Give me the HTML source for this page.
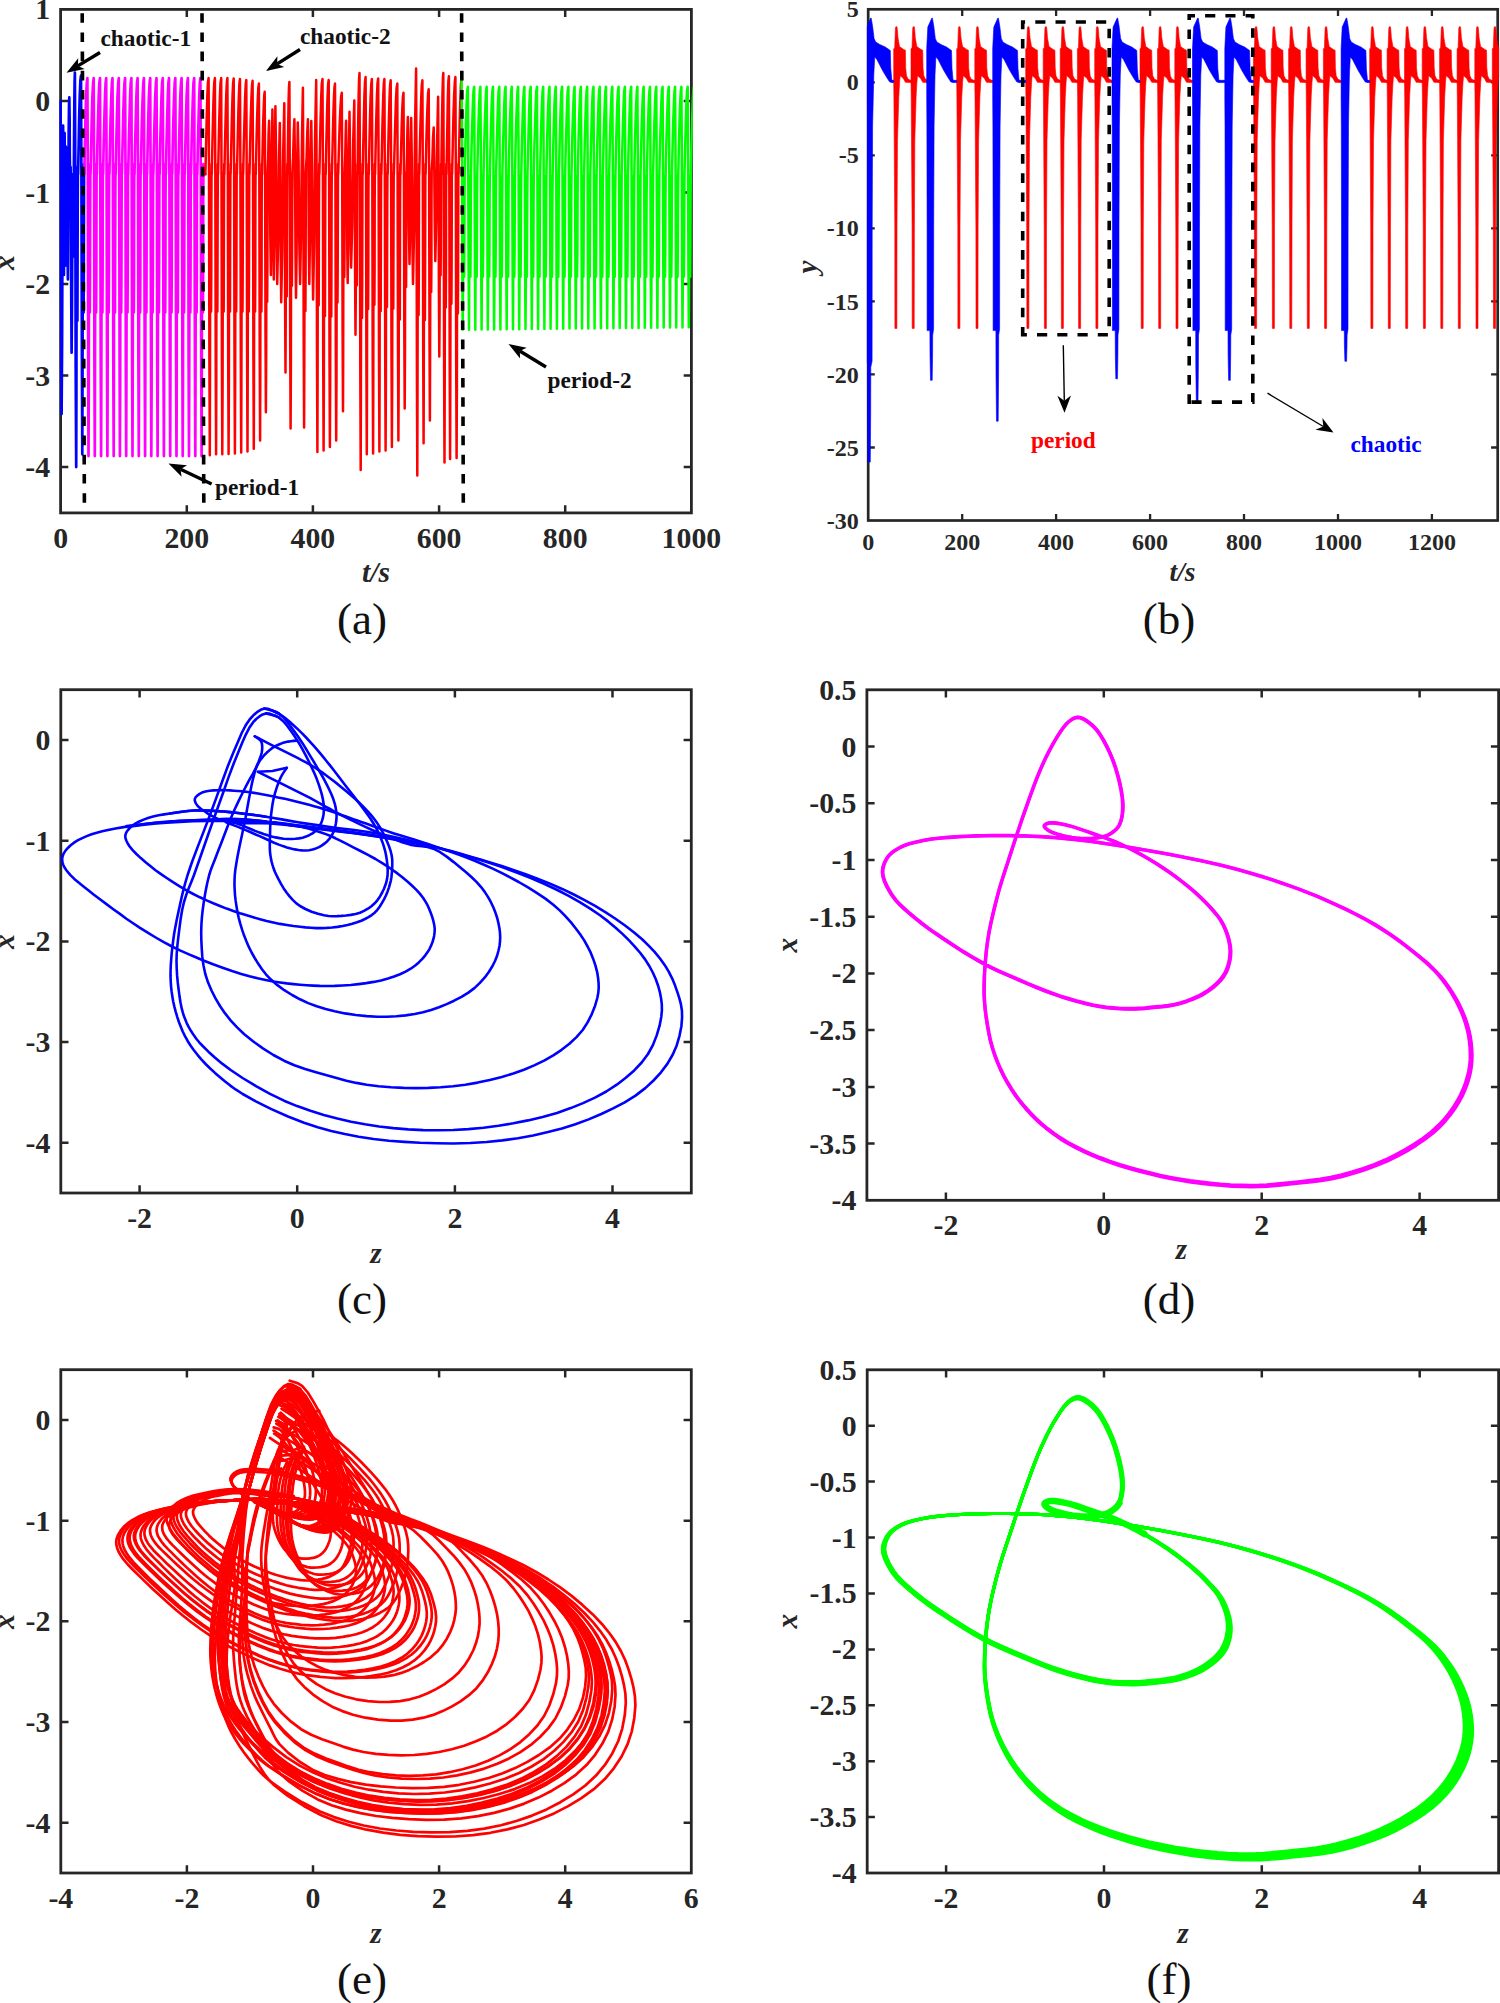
<!DOCTYPE html>
<html lang="en"><head><meta charset="utf-8"><title>Figure</title>
<style>html,body{margin:0;padding:0;background:#fff}svg{display:block}</style>
</head><body>
<svg width="1500" height="2003" viewBox="0 0 1500 2003">
<rect width="1500" height="2003" fill="#fff"/>
<defs>
<clipPath id="ca"><rect x="59.2" y="8" width="633.6" height="506.3"/></clipPath>
<clipPath id="cb"><rect x="866.8" y="7.9" width="632.3" height="514"/></clipPath>
<clipPath id="cc"><rect x="59.4" y="688.3" width="633.3" height="506.1"/></clipPath>
<clipPath id="cd"><rect x="865.5" y="688.4" width="634.5" height="513.3"/></clipPath>
<clipPath id="ce"><rect x="59.4" y="1368.3" width="633.3" height="506.1"/></clipPath>
<clipPath id="cf"><rect x="865.8" y="1368.4" width="634.2" height="506"/></clipPath>
</defs>
<path d="M186.8 512.9v-7.7M186.8 9.4v7.7M312.9 512.9v-7.7M312.9 9.4v7.7M439.1 512.9v-7.7M439.1 9.4v7.7M565.2 512.9v-7.7M565.2 9.4v7.7M60.6 100.9h7.7M691.4 100.9h-7.7M60.6 192.5h7.7M691.4 192.5h-7.7M60.6 284h7.7M691.4 284h-7.7M60.6 375.6h7.7M691.4 375.6h-7.7M60.6 467.1h7.7M691.4 467.1h-7.7" stroke="#262626" stroke-width="2.5" fill="none"/>
<rect x="60.6" y="9.4" width="630.8" height="503.5" fill="none" stroke="#262626" stroke-width="2.8"/>
<g font-family='"Liberation Serif",serif' font-weight="bold" font-size="29.8" fill="#262626">
<g text-anchor="middle">
<text x="60.6" y="547.9">0</text>
<text x="186.8" y="547.9">200</text>
<text x="312.9" y="547.9">400</text>
<text x="439.1" y="547.9">600</text>
<text x="565.2" y="547.9">800</text>
<text x="691.4" y="547.9">1000</text>
</g><g text-anchor="end">
<text x="50.1" y="19.4">1</text>
<text x="50.1" y="110.9">0</text>
<text x="50.1" y="202.5">-1</text>
<text x="50.1" y="294">-2</text>
<text x="50.1" y="385.6">-3</text>
<text x="50.1" y="477.1">-4</text>
</g></g>
<g clip-path="url(#ca)" fill="none" stroke-linejoin="round" stroke-linecap="round">
<path d="M60.6 100.9L60.9 179.2 61.3 335.8 61.6 414 62.1 341.9 62.6 197.8 63.1 125.7 63.4 163 63.6 237.6 63.9 274.9 64.1 239.4 64.3 168.5 64.6 133 64.8 166.2 65 232.5 65.3 265.7 65.5 236 65.7 176.5 65.9 146.7 66.1 171.9 66.3 222.2 66.5 247.4 66.7 224.5 66.9 178.8 67.1 155.9 67.4 186.8 67.6 248.6 67.9 279.5 68.2 223.2 68.5 172.4 68.7 132.1 69 106.2 69.3 97.3 69.6 117 69.8 156.3 70.1 176 70.2 173.7 70.4 169.1 70.6 166.9 70.9 213.3 71.3 306.2 71.6 352.7 72 308.1 72.4 218.8 72.8 174.2 73 194.8 73.2 236 73.4 256.6 73.7 199.7 74 148.4 74.3 107.7 74.6 81.6 74.9 72.6 75.3 171.2 75.7 368.5 76.2 467.1 76.4 393.9 76.6 247.4 76.7 174.2 77 210.8 77.2 284 77.4 320.7 77.5 282.2 77.7 205.3 77.9 166.9 77.9 168.7 78 172.4 78.1 174.2 78.7 143.7 79.2 116.3 79.8 94.5 80.4 80.5 81 75.7 81.4 170.3 81.9 359.7 82.3 454.3 82.5 383.9 82.8 243.2 83 172.8 83.2 207.7 83.4 277.5 83.6 312.4 83.8 275.3 84 201.2 84.1 164.1 84.2 166.6 84.2 171.7 84.3 174.2" stroke="#0000ff" stroke-width="2.7"/>
<path d="M84.3 174.2L84.9 144.5 85.5 117.7 86.1 96.4 86.8 82.8 87.4 78.1 87.8 172.6 88.2 361.6 88.5 456.1 88.8 385.3 89 243.6 89.2 172.8 89.4 207.7 89.6 277.5 89.8 312.4 90 275.3 90.2 201.2 90.4 164.1 90.4 166.6 90.5 171.7 90.5 174.2 91.2 144.5 91.8 117.7 92.4 96.4 93.1 82.8 93.7 78.1 94.1 172.6 94.4 361.6 94.8 456.1 95 385.3 95.3 243.6 95.5 172.8 95.7 207.7 95.9 277.5 96.1 312.4 96.3 275.3 96.5 201.2 96.6 164.1 96.7 166.6 96.8 171.7 96.8 174.2 97.4 144.5 98.1 117.7 98.7 96.4 99.3 82.8 100 78.1 100.3 172.6 100.7 361.6 101.1 456.1 101.3 385.3 101.6 243.6 101.8 172.8 102 207.7 102.2 277.5 102.4 312.4 102.6 275.3 102.7 201.2 102.9 164.1 103 166.6 103 171.7 103.1 174.2 103.7 144.5 104.4 117.7 105 96.4 105.6 82.8 106.2 78.1 106.6 172.6 107 361.6 107.4 456.1 107.6 385.3 107.8 243.6 108.1 172.8 108.3 207.7 108.5 277.5 108.7 312.4 108.9 275.3 109 201.2 109.2 164.1 109.3 166.6 109.3 171.7 109.4 174.2 110 144.5 110.6 117.7 111.3 96.4 111.9 82.8 112.5 78.1 112.9 172.6 113.3 361.6 113.7 456.1 113.9 385.3 114.1 243.6 114.3 172.8 114.6 207.7 114.8 277.5 115 312.4 115.1 275.3 115.3 201.2 115.5 164.1 115.5 166.6 115.6 171.7 115.7 174.2 116.3 144.5 116.9 117.7 117.5 96.4 118.2 82.8 118.8 78.1 119.2 172.6 119.6 361.6 119.9 456.1 120.2 385.3 120.4 243.6 120.6 172.8 120.8 207.7 121 277.5 121.2 312.4 121.4 275.3 121.6 201.2 121.8 164.1 121.8 166.6 121.9 171.7 121.9 174.2 122.6 144.5 123.2 117.7 123.8 96.4 124.5 82.8 125.1 78.1 125.5 172.6 125.8 361.6 126.2 456.1 126.4 385.3 126.7 243.6 126.9 172.8 127.1 207.7 127.3 277.5 127.5 312.4 127.7 275.3 127.9 201.2 128 164.1 128.1 166.6 128.2 171.7 128.2 174.2 128.8 144.5 129.5 117.7 130.1 96.4 130.7 82.8 131.4 78.1 131.7 172.6 132.1 361.6 132.5 456.1 132.7 385.3 133 243.6 133.2 172.8 133.4 207.7 133.6 277.5 133.8 312.4 134 275.3 134.1 201.2 134.3 164.1 134.4 166.6 134.4 171.7 134.5 174.2 135.1 144.5 135.8 117.7 136.4 96.4 137 82.8 137.6 78.1 138 172.6 138.4 361.6 138.8 456.1 139 385.3 139.2 243.6 139.5 172.8 139.7 207.7 139.9 277.5 140.1 312.4 140.3 275.3 140.4 201.2 140.6 164.1 140.7 166.6 140.7 171.7 140.8 174.2 141.4 144.5 142 117.7 142.7 96.4 143.3 82.8 143.9 78.1 144.3 172.6 144.7 361.6 145.1 456.1 145.3 385.3 145.5 243.6 145.7 172.8 146 207.7 146.2 277.5 146.4 312.4 146.5 275.3 146.7 201.2 146.9 164.1 146.9 166.6 147 171.7 147.1 174.2 147.7 144.5 148.3 117.7 148.9 96.4 149.6 82.8 150.2 78.1 150.6 172.6 151 361.6 151.3 456.1 151.6 385.3 151.8 243.6 152 172.8 152.2 207.7 152.4 277.5 152.6 312.4 152.8 275.3 153 201.2 153.2 164.1 153.2 166.6 153.3 171.7 153.3 174.2 154 144.5 154.6 117.7 155.2 96.4 155.9 82.8 156.5 78.1 156.9 172.6 157.2 361.6 157.6 456.1 157.8 385.3 158.1 243.6 158.3 172.8 158.5 207.7 158.7 277.5 158.9 312.4 159.1 275.3 159.3 201.2 159.4 164.1 159.5 166.6 159.6 171.7 159.6 174.2 160.2 144.5 160.9 117.7 161.5 96.4 162.1 82.8 162.8 78.1 163.1 172.6 163.5 361.6 163.9 456.1 164.1 385.3 164.4 243.6 164.6 172.8 164.8 207.7 165 277.5 165.2 312.4 165.4 275.3 165.5 201.2 165.7 164.1 165.8 166.6 165.8 171.7 165.9 174.2 166.5 144.5 167.2 117.7 167.8 96.4 168.4 82.8 169 78.1 169.4 172.6 169.8 361.6 170.2 456.1 170.4 385.3 170.6 243.6 170.9 172.8 171.1 207.7 171.3 277.5 171.5 312.4 171.7 275.3 171.8 201.2 172 164.1 172.1 166.6 172.1 171.7 172.2 174.2 172.8 144.5 173.4 117.7 174.1 96.4 174.7 82.8 175.3 78.1 175.7 172.6 176.1 361.6 176.5 456.1 176.7 385.3 176.9 243.6 177.1 172.8 177.4 207.7 177.6 277.5 177.8 312.4 177.9 275.3 178.1 201.2 178.3 164.1 178.3 166.6 178.4 171.7 178.5 174.2 179.1 144.5 179.7 117.7 180.3 96.4 181 82.8 181.6 78.1 182 172.6 182.4 361.6 182.7 456.1 183 385.3 183.2 243.6 183.4 172.8 183.6 207.7 183.8 277.5 184 312.4 184.2 275.3 184.4 201.2 184.6 164.1 184.6 166.6 184.7 171.7 184.7 174.2 185.4 144.5 186 117.7 186.6 96.4 187.3 82.8 187.9 78.1 188.3 172.6 188.6 361.6 189 456.1 189.2 385.3 189.5 243.6 189.7 172.8 189.9 207.7 190.1 277.5 190.3 312.4 190.5 275.3 190.7 201.2 190.8 164.1 190.9 166.6 191 171.7 191 174.2 191.6 144.5 192.3 117.7 192.9 96.4 193.5 82.8 194.2 78.1 194.5 172.6 194.9 361.6 195.3 456.1 195.5 385.3 195.8 243.6 196 172.8 196.2 207.7 196.4 277.5 196.6 312.4 196.8 275.3 196.9 201.2 197.1 164.1 197.2 166.6 197.2 171.7 197.3 174.2 197.9 144.5 198.6 117.7 199.2 96.4 199.8 82.8 200.4 78.1 200.8 172.6 201.2 361.6 201.6 456.1 201.8 385.3 202 243.6 202.3 172.8 202.5 207.7 202.7 277.5 202.9 312.4 203.1 275.3 203.2 201.2 203.4 164.1 203.5 166.6 203.5 171.7 203.6 174.2 204 174.2 204.3 174.2 204.7 174.2 205.1 174.2 205.4 174.2" stroke="#ff00ff" stroke-width="2.7"/>
<path d="M205.4 174.2L206.1 144.5 206.7 117.7 207.3 96.4 207.9 82.8 208.6 78.1 209 172.4 209.4 360.9 209.8 455.2 210 384.6 210.2 243.4 210.5 172.8 210.7 207.5 210.9 276.8 211.1 311.5 211.3 274.7 211.4 201 211.6 164.1 211.7 166.6 211.7 171.7 211.8 174.2 212.4 144.5 213 117.7 213.6 96.4 214.2 82.8 214.9 78.1 215.3 172.1 215.7 360.2 216.1 454.3 216.3 383.9 216.5 243.2 216.7 172.8 217 207.5 217.2 276.8 217.4 311.5 217.5 274.7 217.7 201 217.9 164.1 217.9 166.6 218 171.7 218.1 174.2 218.7 144.5 219.3 117.7 219.9 96.4 220.5 82.8 221.2 78.1 221.5 172.1 221.9 360.2 222.3 454.3 222.6 383.9 222.8 243.2 223 172.8 223.2 207.5 223.5 276.8 223.7 311.5 223.8 274.7 224 201 224.2 164.1 224.2 166.6 224.3 171.7 224.4 174.2 225 144.5 225.6 117.7 226.2 96.4 226.8 82.8 227.4 78.1 227.8 172 228.2 359.9 228.6 453.9 228.9 383.6 229.1 243.1 229.3 172.8 229.5 207.5 229.7 276.8 230 311.5 230.1 274.7 230.3 201 230.5 164.1 230.5 166.6 230.6 171.7 230.6 174.2 231.3 144.6 231.9 118 232.5 96.8 233.1 83.2 233.7 78.5 234.1 172.2 234.5 359.7 234.9 453.4 235.2 383.2 235.4 243 235.6 172.8 235.8 207.5 236 276.8 236.2 311.5 236.4 274.7 236.6 201 236.7 164.1 236.8 166.6 236.9 171.7 236.9 174.2 237.6 144.8 238.2 118.2 238.8 97.2 239.4 83.6 240 79 240.4 172.4 240.8 359.1 241.2 452.5 241.4 382.6 241.7 242.7 241.9 172.8 242.1 207.5 242.3 276.8 242.5 311.5 242.7 274.7 242.9 201 243 164.1 243.1 166.6 243.2 171.7 243.2 174.2 243.8 145 244.5 118.8 245.1 97.9 245.7 84.5 246.3 79.9 246.7 172.8 247.1 358.6 247.5 451.6 247.7 381.9 248 242.5 248.2 172.8 248.4 207.5 248.6 276.8 248.8 311.5 249 274.7 249.2 201 249.3 164.1 249.4 166.6 249.4 171.7 249.5 174.2 250.1 145.3 250.7 119.3 251.4 98.6 252 85.4 252.6 80.8 253 172.8 253.4 356.8 253.8 448.8 254 379.8 254.3 241.8 254.5 172.8 254.7 207.5 254.9 276.8 255.1 311.5 255.3 274.7 255.4 201 255.6 164.1 255.7 166.6 255.7 171.7 255.8 174.2 256.4 146.2 257 120.9 257.7 100.9 258.3 88 258.9 83.6 259.3 172.8 259.7 351.3 260.1 440.6 260.3 373.6 260.5 239.8 260.8 172.8 261 207.5 261.2 276.8 261.4 311.5 261.6 274.7 261.7 201 261.9 164.1 262 166.6 262 171.7 262.1 174.2 262.6 148.7 263.1 125.8 263.7 107.5 264.2 95.8 264.7 91.8 265.1 171.9 265.5 332.1 265.9 412.2 266.2 352.4 266.4 232.7 266.6 172.8 266.8 205 267 269.5 267.2 301.7 267.4 268.7 267.6 202.6 267.7 169.6 268.2 157.4 268.6 133 269.1 120.8 269.7 159.3 270.3 236.4 270.9 274.9 271.4 233.5 271.9 150.9 272.4 109.6 272.9 152 273.3 237 273.8 279.5 274.3 236.1 274.8 149.5 275.4 106.2 276 150.6 276.6 239.6 277.2 284 278.1 243.8 278.9 163.2 279.8 122.9 280.3 167.8 280.7 257.5 281.2 302.3 282.2 252.6 283.2 153 284.3 103.2 284.7 170.5 285.1 305.1 285.5 372.4 285.7 322.5 285.9 222.7 286.2 172.8 286.4 203.7 286.6 265.4 286.8 296.3 286.9 263.2 287.1 197.1 287.3 164.1 287.3 166.6 287.4 171.7 287.5 174.2 287.9 145.7 288.3 120 288.6 99.7 289 86.6 289.4 82.1 289.8 168.7 290.2 341.9 290.6 428.5 290.9 364.6 291.1 236.7 291.3 172.8 291.5 201 291.7 257.5 291.9 285.7 292.1 256.7 292.3 198.6 292.5 169.6 293.1 157 293.8 131.8 294.4 119.3 295 163.9 295.5 253.1 296 297.8 296.6 253.9 297.2 166.2 297.8 122.4 298.6 162.8 299.3 243.6 300.1 284 301 235 302 136.8 302.9 87.8 303.3 172.7 303.7 342.5 304.1 427.4 304.3 363.7 304.6 236.5 304.8 172.8 305 207.3 305.2 276.4 305.4 311 305.6 275.6 305.8 204.9 305.9 169.6 306.6 157 307.3 131.8 307.9 119.3 308.4 160.4 308.8 242.8 309.3 284 309.9 243.3 310.6 161.8 311.3 121.1 311.9 165.7 312.5 255 313.1 299.6 314.1 244.7 315.1 134.8 316.2 79.9 316.6 172.9 317 359.1 317.4 452.1 317.6 382.3 317.8 242.6 318 172.8 318.3 205.9 318.5 272.2 318.7 305.3 318.8 270 319 199.4 319.2 164.1 319.2 166.6 319.3 171.7 319.4 174.2 320 144.8 320.6 118.2 321.2 97.2 321.8 83.6 322.5 79 322.9 171.9 323.2 357.7 323.6 450.6 323.9 381.2 324.1 242.3 324.3 172.8 324.5 208.6 324.8 280.1 325 315.9 325.1 278 325.3 202.1 325.5 164.1 325.5 166.6 325.6 171.7 325.7 174.2 326.3 145 326.9 118.8 327.5 97.9 328.1 84.5 328.7 79.9 329.1 171.7 329.5 355.2 329.9 447 330.2 378.4 330.4 241.4 330.6 172.8 330.8 208.7 331 280.5 331.3 316.4 331.4 278.3 331.6 202.2 331.8 164.1 331.8 166.6 331.9 171.7 331.9 174.2 332.6 146.2 333.2 120.9 333.8 100.9 334.4 88 335 83.6 335.4 172.8 335.8 351.3 336.2 440.6 336.5 373.6 336.7 239.8 336.9 172.8 337.1 205.2 337.3 270 337.5 302.4 337.7 267.8 337.9 198.7 338 164.1 338.1 166.6 338.2 171.7 338.2 174.2 338.9 149 339.6 126.3 340.4 108.3 341.1 96.7 341.8 92.7 342.2 172.4 342.6 331.6 343 411.3 343.2 351.7 343.4 232.4 343.7 172.8 343.9 198.9 344.1 251 344.3 277 344.5 250.2 344.6 196.5 344.8 169.6 345.2 157.4 345.7 133 346.1 120.8 346.6 161.4 347.2 242.5 347.7 283.1 348.3 240.3 348.9 154.6 349.5 111.7 350 150.7 350.5 228.6 351.1 267.6 352.2 225.8 353.2 142.3 354.3 100.5 354.7 159.1 355.1 276.3 355.5 334.8 355.8 294.3 356 213.3 356.2 172.8 356.4 200.9 356.7 257.1 356.9 285.2 357 254.9 357.2 194.4 357.4 164.1 357.4 166.6 357.5 171.7 357.6 174.2 357.9 143 358.3 114.8 358.7 92.4 359.1 78.1 359.5 73.1 359.9 172.3 360.3 370.7 360.7 469.9 360.9 395.6 361.2 247.1 361.4 172.8 361.6 209.1 361.8 281.6 362 317.9 362.2 279.5 362.4 202.6 362.5 164.1 362.6 166.6 362.7 171.7 362.7 174.2 363.3 144.2 363.9 117.1 364.4 95.7 365 81.9 365.6 77.1 366 171.4 366.4 360 366.8 454.3 367 383.9 367.2 243.2 367.5 172.8 367.7 206.9 367.9 275 368.1 309 368.3 272.8 368.4 200.3 368.6 164.1 368.7 166.6 368.7 171.7 368.8 174.2 369.4 144.8 370 118.2 370.6 97.2 371.3 83.6 371.9 79 372.3 172.6 372.7 359.8 373.1 453.4 373.3 383.2 373.5 243 373.8 172.8 374 205.8 374.2 271.8 374.4 304.8 374.6 269.6 374.7 199.3 374.9 164.1 374.9 166.6 375 171.7 375.1 174.2 375.7 144.6 376.3 118 376.9 96.8 377.5 83.2 378.2 78.5 378.6 171.8 379 358.3 379.4 451.6 379.6 381.9 379.8 242.5 380 172.8 380.3 207.4 380.5 276.5 380.7 311.1 380.8 274.3 381 200.9 381.2 164.1 381.2 166.6 381.3 171.7 381.4 174.2 382 144.8 382.6 118.2 383.2 97.2 383.8 83.6 384.4 79 384.8 171.9 385.2 357.7 385.6 450.6 385.9 381.2 386.1 242.3 386.3 172.8 386.5 206.4 386.8 273.5 387 307.1 387.1 271.3 387.3 199.9 387.5 164.1 387.5 166.6 387.6 171.7 387.7 174.2 388.3 145.2 388.9 119 389.5 98.3 390.1 84.9 390.7 80.3 391.1 172 391.5 355.3 391.9 447 392.2 378.4 392.4 241.4 392.6 172.8 392.8 206.7 393 274.5 393.3 308.4 393.4 272.3 393.6 200.2 393.8 164.1 393.8 166.6 393.9 171.7 393.9 174.2 394.6 146.2 395.3 120.9 395.9 100.9 396.6 88 397.3 83.6 397.6 172.8 398 351.3 398.4 440.6 398.7 373.6 398.9 239.8 399.1 172.8 399.3 209.5 399.6 282.8 399.8 319.5 399.9 280.6 400.1 203 400.3 164.1 400.3 166.6 400.4 171.7 400.5 174.2 401.1 149 401.7 126.3 402.3 108.3 402.9 96.7 403.5 92.7 403.9 171.7 404.3 329.6 404.7 408.5 405 349.6 405.2 231.7 405.4 172.8 405.6 201.4 405.8 258.6 406.1 287.1 406.2 257.8 406.4 199 406.6 169.6 407 156.4 407.4 130.1 407.9 117 408.4 153.7 408.9 227.2 409.5 263.9 410.1 227.4 410.6 154.5 411.2 118.1 411.8 159.6 412.4 242.5 413 284 414.1 230.2 415.1 122.5 416.1 68.6 416.5 170.3 416.9 373.7 417.3 475.4 417.5 399.7 417.8 248.4 418 172.8 418.2 208.4 418.4 279.6 418.6 315.1 418.8 277.4 419 201.9 419.1 164.1 419.2 166.6 419.3 171.7 419.3 174.2 419.9 145.2 420.6 119 421.2 98.3 421.8 84.9 422.4 80.3 422.8 171.1 423.2 352.6 423.6 443.3 423.8 375.7 424.1 240.4 424.3 172.8 424.5 209.6 424.7 283.3 424.9 320.1 425.1 281.1 425.3 203.1 425.4 164.1 425.5 166.6 425.5 171.7 425.6 174.2 426.2 148 426.8 124.3 427.5 105.5 428.1 93.5 428.7 89.3 429.1 172.1 429.5 337.7 429.9 420.4 430.1 358.5 430.4 234.7 430.6 172.8 430.8 202.6 431 262.2 431.2 292 431.4 261.4 431.5 200.2 431.7 169.6 432.4 159.1 433 138 433.7 127.5 434.2 160.9 434.8 227.7 435.3 261.1 436.2 220 437.2 137.8 438.1 96.7 438.5 161.6 438.9 291.5 439.3 356.4 439.6 310.5 439.8 218.7 440 172.8 440.2 198.4 440.4 249.7 440.6 275.3 440.8 247.5 441 191.9 441.1 164.1 441.2 166.6 441.3 171.7 441.3 174.2 441.7 143 442.1 114.8 442.5 92.4 442.9 78.1 443.3 73.1 443.7 170.5 444.1 365.2 444.5 462.6 444.7 390.1 445 245.2 445.2 172.8 445.4 206.5 445.6 273.9 445.8 307.6 446 271.7 446.1 200 446.3 164.1 446.4 166.6 446.4 171.7 446.5 174.2 447 143.9 447.5 116.6 447.9 94.9 448.4 81 448.9 76.2 449.3 171.9 449.7 363.2 450.1 458.9 450.3 387.4 450.6 244.3 450.8 172.8 451 205.6 451.2 271 451.4 303.8 451.6 268.9 451.8 199 451.9 164.1 452 166.6 452.1 171.7 452.1 174.2 452.8 144.2 453.4 117.1 454.1 95.7 454.8 81.9 455.4 77.1 455.8 172.4 456.2 362.8 456.6 458 456.9 386.7 457.1 244.1 457.3 172.8 457.5 208 457.7 278.3 457.9 313.4 458.1 276.1 458.3 201.4 458.4 164.1 458.5 166.6 458.6 171.7 458.6 174.2 459.2 144.8 459.8 118.2 460.4 97.2 461 83.6 461.6 79" stroke="#ff0000" stroke-width="2.5"/>
<path d="M461.6 79L462 141.7 462.3 267.1 462.7 329.8 463 291.6 463.2 215.1 463.4 176.9 463.6 201.9 463.9 251.8 464.1 276.7 464.3 250.6 464.5 198.4 464.7 172.4 465.4 145.9 466 122 466.6 103 467.2 90.9 467.9 86.7 468.2 147.4 468.6 269 469 329.7 469.2 291.5 469.5 215.1 469.7 176.9 469.9 201.9 470.2 251.8 470.4 276.7 470.6 250.6 470.8 198.4 471 172.4 471.6 145.9 472.3 122 472.9 103 473.5 90.9 474.2 86.7 474.5 147.4 474.9 268.9 475.3 329.7 475.5 291.5 475.7 215.1 476 176.9 476.2 201.9 476.4 251.8 476.7 276.7 476.9 250.6 477.1 198.4 477.3 172.4 477.9 145.9 478.5 122 479.2 103 479.8 90.9 480.4 86.7 480.8 147.4 481.2 268.9 481.6 329.6 481.8 291.4 482 215.1 482.3 176.9 482.5 201.9 482.7 251.8 482.9 276.7 483.2 250.6 483.4 198.4 483.6 172.4 484.2 145.9 484.8 122 485.5 103 486.1 90.9 486.7 86.7 487.1 147.4 487.5 268.8 487.8 329.5 488.1 291.4 488.3 215.1 488.5 176.9 488.8 201.9 489 251.8 489.2 276.7 489.4 250.6 489.6 198.4 489.9 172.4 490.5 145.9 491.1 122 491.7 103 492.4 90.9 493 86.7 493.4 147.4 493.7 268.8 494.1 329.5 494.4 291.3 494.6 215.1 494.8 176.9 495 201.9 495.3 251.8 495.5 276.7 495.7 250.6 495.9 198.4 496.1 172.4 496.8 145.9 497.4 122 498 103 498.6 90.9 499.3 86.7 499.6 147.3 500 268.7 500.4 329.4 500.6 291.3 500.9 215 501.1 176.9 501.3 201.9 501.6 251.8 501.8 276.7 502 250.6 502.2 198.4 502.4 172.4 503 145.9 503.7 122 504.3 103 504.9 90.9 505.6 86.7 505.9 147.3 506.3 268.7 506.7 329.3 506.9 291.2 507.1 215 507.4 176.9 507.6 201.9 507.8 251.8 508.1 276.7 508.3 250.6 508.5 198.4 508.7 172.4 509.3 145.9 509.9 122 510.6 103 511.2 90.9 511.8 86.7 512.2 147.3 512.6 268.6 513 329.3 513.2 291.2 513.4 215 513.7 176.9 513.9 201.9 514.1 251.8 514.3 276.7 514.6 250.6 514.8 198.4 515 172.4 515.6 145.9 516.2 122 516.9 103 517.5 90.9 518.1 86.7 518.5 147.3 518.9 268.6 519.2 329.2 519.5 291.1 519.7 215 519.9 176.9 520.2 201.9 520.4 251.8 520.6 276.7 520.8 250.6 521 198.4 521.3 172.4 521.9 145.9 522.5 122 523.1 103 523.8 90.9 524.4 86.7 524.8 147.3 525.1 268.5 525.5 329.1 525.8 291.1 526 215 526.2 176.9 526.4 201.9 526.7 251.8 526.9 276.7 527.1 250.6 527.3 198.4 527.5 172.4 528.2 145.9 528.8 122 529.4 103 530 90.9 530.7 86.7 531 147.3 531.4 268.5 531.8 329.1 532 291 532.3 215 532.5 176.9 532.7 201.9 533 251.8 533.2 276.7 533.4 250.6 533.6 198.4 533.8 172.4 534.4 145.9 535.1 122 535.7 103 536.3 90.9 537 86.7 537.3 147.2 537.7 268.4 538.1 329 538.3 291 538.5 214.9 538.8 176.9 539 201.9 539.2 251.8 539.5 276.7 539.7 250.6 539.9 198.4 540.1 172.4 540.7 145.9 541.3 122 542 103 542.6 90.9 543.2 86.7 543.6 147.2 544 268.4 544.4 328.9 544.6 290.9 544.8 214.9 545.1 176.9 545.3 201.9 545.5 251.8 545.7 276.7 546 250.6 546.2 198.4 546.4 172.4 547 145.9 547.6 122 548.3 103 548.9 90.9 549.5 86.7 549.9 147.2 550.3 268.3 550.6 328.8 550.9 290.9 551.1 214.9 551.3 176.9 551.6 201.9 551.8 251.8 552 276.7 552.2 250.6 552.4 198.4 552.7 172.4 553.3 145.9 553.9 122 554.5 103 555.2 90.9 555.8 86.7 556.2 147.2 556.5 268.2 556.9 328.8 557.2 290.8 557.4 214.9 557.6 176.9 557.8 201.9 558.1 251.8 558.3 276.7 558.5 250.6 558.7 198.4 558.9 172.4 559.6 145.9 560.2 122 560.8 103 561.4 90.9 562.1 86.7 562.4 147.2 562.8 268.2 563.2 328.7 563.4 290.8 563.7 214.9 563.9 176.9 564.1 201.9 564.4 251.8 564.6 276.7 564.8 250.6 565 198.4 565.2 172.4 565.8 145.9 566.5 122 567.1 103 567.7 90.9 568.4 86.7 568.7 147.2 569.1 268.1 569.5 328.6 569.7 290.7 569.9 214.9 570.2 176.9 570.4 201.9 570.6 251.8 570.9 276.7 571.1 250.6 571.3 198.4 571.5 172.4 572.1 145.9 572.7 122 573.4 103 574 90.9 574.6 86.7 575 147.1 575.4 268.1 575.8 328.6 576 290.7 576.2 214.8 576.5 176.9 576.7 201.9 576.9 251.8 577.1 276.7 577.4 250.6 577.6 198.4 577.8 172.4 578.4 145.9 579 122 579.7 103 580.3 90.9 580.9 86.7 581.3 147.1 581.7 268 582 328.5 582.3 290.6 582.5 214.8 582.7 176.9 583 201.9 583.2 251.8 583.4 276.7 583.6 250.6 583.8 198.4 584.1 172.4 584.7 145.9 585.3 122 585.9 103 586.6 90.9 587.2 86.7 587.6 147.1 587.9 268 588.3 328.4 588.6 290.6 588.8 214.8 589 176.9 589.2 201.9 589.5 251.8 589.7 276.7 589.9 250.6 590.1 198.4 590.3 172.4 591 145.9 591.6 122 592.2 103 592.8 90.9 593.5 86.7 593.8 147.1 594.2 267.9 594.6 328.4 594.8 290.5 595.1 214.8 595.3 176.9 595.5 201.9 595.8 251.8 596 276.7 596.2 250.6 596.4 198.4 596.6 172.4 597.2 145.9 597.9 122 598.5 103 599.1 90.9 599.8 86.7 600.1 147.1 600.5 267.9 600.9 328.3 601.1 290.5 601.3 214.8 601.6 176.9 601.8 201.9 602 251.8 602.3 276.7 602.5 250.6 602.7 198.4 602.9 172.4 603.5 145.9 604.1 122 604.8 103 605.4 90.9 606 86.7 606.4 147.1 606.8 267.8 607.2 328.2 607.4 290.4 607.6 214.8 607.9 176.9 608.1 201.9 608.3 251.8 608.5 276.7 608.8 250.6 609 198.4 609.2 172.4 609.8 145.9 610.4 122 611.1 103 611.7 90.9 612.3 86.7 612.7 147 613.1 267.8 613.4 328.2 613.7 290.3 613.9 214.7 614.1 176.9 614.4 201.9 614.6 251.8 614.8 276.7 615 250.6 615.2 198.4 615.5 172.4 616.1 145.9 616.7 122 617.3 103 618 90.9 618.6 86.7 619 147 619.3 267.7 619.7 328.1 620 290.3 620.2 214.7 620.4 176.9 620.6 201.9 620.9 251.8 621.1 276.7 621.3 250.6 621.5 198.4 621.7 172.4 622.4 145.9 623 122 623.6 103 624.2 90.9 624.9 86.7 625.2 147 625.6 267.7 626 328 626.2 290.2 626.5 214.7 626.7 176.9 626.9 201.9 627.2 251.8 627.4 276.7 627.6 250.6 627.8 198.4 628 172.4 628.6 145.9 629.3 122 629.9 103 630.5 90.9 631.2 86.7 631.5 147 631.9 267.6 632.3 327.9 632.5 290.2 632.7 214.7 633 176.9 633.2 201.9 633.4 251.8 633.7 276.7 633.9 250.6 634.1 198.4 634.3 172.4 634.9 145.9 635.5 122 636.2 103 636.8 90.9 637.4 86.7 637.8 147 638.2 267.6 638.6 327.9 638.8 290.1 639 214.7 639.3 176.9 639.5 201.9 639.7 251.8 639.9 276.7 640.2 250.6 640.4 198.4 640.6 172.4 641.2 145.9 641.8 122 642.5 103 643.1 90.9 643.7 86.7 644.1 147 644.5 267.5 644.8 327.8 645.1 290.1 645.3 214.6 645.5 176.9 645.8 201.9 646 251.8 646.2 276.7 646.4 250.6 646.6 198.4 646.9 172.4 647.5 145.9 648.1 122 648.7 103 649.4 90.9 650 86.7 650.4 146.9 650.7 267.5 651.1 327.7 651.4 290 651.6 214.6 651.8 176.9 652 201.9 652.3 251.8 652.5 276.7 652.7 250.6 652.9 198.4 653.1 172.4 653.8 145.9 654.4 122 655 103 655.6 90.9 656.3 86.7 656.6 146.9 657 267.4 657.4 327.7 657.6 290 657.9 214.6 658.1 176.9 658.3 201.9 658.6 251.8 658.8 276.7 659 250.6 659.2 198.4 659.4 172.4 660 145.9 660.7 122 661.3 103 661.9 90.9 662.6 86.7 662.9 146.9 663.3 267.4 663.7 327.6 663.9 289.9 664.1 214.6 664.4 176.9 664.6 201.9 664.8 251.8 665.1 276.7 665.3 250.6 665.5 198.4 665.7 172.4 666.3 145.9 666.9 122 667.6 103 668.2 90.9 668.8 86.7 669.2 146.9 669.6 267.3 670 327.5 670.2 289.9 670.4 214.6 670.7 176.9 670.9 201.9 671.1 251.8 671.3 276.7 671.6 250.6 671.8 198.4 672 172.4 672.6 145.9 673.2 122 673.9 103 674.5 90.9 675.1 86.7 675.5 146.9 675.9 267.3 676.2 327.5 676.5 289.8 676.7 214.6 676.9 176.9 677.2 201.9 677.4 251.8 677.6 276.7 677.8 250.6 678 198.4 678.3 172.4 678.9 145.9 679.5 122 680.1 103 680.8 90.9 681.4 86.7 681.8 146.8 682.1 267.2 682.5 327.4 682.8 289.8 683 214.5 683.2 176.9 683.4 201.9 683.7 251.8 683.9 276.7 684.1 250.6 684.3 198.4 684.5 172.4 685.2 145.9 685.8 122 686.4 103 687 90.9 687.7 86.7 688 146.8 688.4 267.2 688.8 327.3 689 289.7 689.3 214.5 689.5 176.9 689.7 201.9 690 251.8 690.2 276.7 690.4 250.6 690.6 198.4 690.8 172.4 691.4 145.9 692.1 122 692.7 103 693.3 90.9 694 86.7 694.3 146.8 694.7 267.1 695.1 327.3 695.3 289.7 695.5 214.5 695.8 176.9 696 201.9 696.2 251.8 696.5 276.7 696.7 250.6 696.9 198.4 697.1 172.4" stroke="#00ff00" stroke-width="2.5"/>
</g>
<path d="M82.2 13.2L84.4 503" stroke="#000" stroke-width="3.6" stroke-dasharray="9.6 9.6" fill="none"/>
<path d="M202 13.2L203.8 503" stroke="#000" stroke-width="3.6" stroke-dasharray="9.6 9.6" fill="none"/>
<path d="M461.6 13.2L463.3 503" stroke="#000" stroke-width="3.6" stroke-dasharray="9.6 9.6" fill="none"/>
<text x="376" y="582" font-family='"Liberation Serif",serif' font-size="29.5" fill="#262626" text-anchor="middle" font-style="italic" font-weight="bold">t/s</text>
<text x="14.2" y="262.5" font-family='"Liberation Serif",serif' font-size="29.5" fill="#262626" text-anchor="middle" font-style="italic" font-weight="bold" transform="rotate(-90 14.2 262.5)">x</text>
<text x="362" y="633.5" font-family='"Liberation Serif",serif' font-size="45" fill="#111" text-anchor="middle">(a)</text>
<g font-family='"Liberation Serif",serif' font-weight="bold" font-size="23.3" fill="#111">
<text x="100.5" y="46">chaotic-1</text>
<text x="300" y="44">chaotic-2</text>
<text x="215" y="494.5">period-1</text>
<text x="547.5" y="388">period-2</text>
</g>
<path d="M100 52.5L77.9 65.9" stroke="#000" stroke-width="3.4" fill="none"/>
<path d="M66.5 72.8L78.2 58.3L77.9 65.9L84.7 69.1Z" fill="#000"/>
<path d="M300 49.5L277.2 63.9" stroke="#000" stroke-width="3.4" fill="none"/>
<path d="M266 71L277.4 56.3L277.2 63.9L284.2 67Z" fill="#000"/>
<path d="M211.6 484L180.5 469.2" stroke="#000" stroke-width="3.4" fill="none"/>
<path d="M168.5 463.5L187 465.3L180.5 469.2L181.6 476.7Z" fill="#000"/>
<path d="M546 367L519.8 351" stroke="#000" stroke-width="3.4" fill="none"/>
<path d="M508.5 344L526.7 347.8L519.8 351L520.1 358.5Z" fill="#000"/>
<path d="M962.2 520.5v-6.6M962.2 9.3v6.6M1056.1 520.5v-6.6M1056.1 9.3v6.6M1150.1 520.5v-6.6M1150.1 9.3v6.6M1244 520.5v-6.6M1244 9.3v6.6M1338 520.5v-6.6M1338 9.3v6.6M1431.9 520.5v-6.6M1431.9 9.3v6.6M868.2 82.3h6.6M1497.7 82.3h-6.6M868.2 155.4h6.6M1497.7 155.4h-6.6M868.2 228.4h6.6M1497.7 228.4h-6.6M868.2 301.4h6.6M1497.7 301.4h-6.6M868.2 374.4h6.6M1497.7 374.4h-6.6M868.2 447.5h6.6M1497.7 447.5h-6.6" stroke="#262626" stroke-width="2.3" fill="none"/>
<rect x="868.2" y="9.3" width="629.5" height="511.2" fill="none" stroke="#262626" stroke-width="2.7"/>
<g font-family='"Liberation Serif",serif' font-weight="bold" font-size="24.0" fill="#262626">
<g text-anchor="middle">
<text x="868.2" y="549.5">0</text>
<text x="962.2" y="549.5">200</text>
<text x="1056.1" y="549.5">400</text>
<text x="1150.1" y="549.5">600</text>
<text x="1244" y="549.5">800</text>
<text x="1338" y="549.5">1000</text>
<text x="1431.9" y="549.5">1200</text>
</g><g text-anchor="end">
<text x="858.7" y="17.3">5</text>
<text x="858.7" y="90.4">0</text>
<text x="858.7" y="163.4">-5</text>
<text x="858.7" y="236.4">-10</text>
<text x="858.7" y="309.5">-15</text>
<text x="858.7" y="382.5">-20</text>
<text x="858.7" y="455.5">-25</text>
<text x="858.7" y="528.5">-30</text>
</g></g>
<g clip-path="url(#cb)">
<path d="M893.7 82.3L893.7 48.7 894.7 48 895.4 28.3 895.8 26.8 897 26.8 897.4 29.7 898 37.8 899.5 46.5 901 47.6 903.7 49.5 905.4 50.2 905.7 67.7 906.5 75.8 908.1 79.1 910.7 80.3 910.7 82.6 905.4 82.3 903.2 78.2 900.2 75.8 899.6 82.3 898.8 96.9 897.5 140.8 897 228.4 896.9 328.4 894.9 328.4 894.8 228.4 894.2 140.8 893.9 96.9ZM910.7 80.3H911V82.6H910.7ZM911 82.3L911 48.7 912 48 912.7 28.3 913.1 26.8 914.3 26.8 914.7 29.7 915.3 37.8 916.8 46.5 918.3 47.6 921 49.5 922.7 50.2 923 67.7 923.8 75.8 925.4 79.1 928 80.3 928 82.6 922.7 82.3 920.5 78.2 917.5 75.8 916.9 82.3 916.1 96.9 914.8 140.8 914.4 228.4 914.2 328.4 912.2 328.4 912.1 228.4 911.5 140.8 911.2 96.9ZM956.7 82.3L956.7 48.7 957.7 48 958.4 28.3 958.8 26.8 960 26.8 960.4 29.7 961 37.8 962.5 46.5 964 47.6 966.7 49.5 968.4 50.2 968.7 67.7 969.5 75.8 971.1 79.1 973.7 80.3 973.7 82.6 968.4 82.3 966.2 78.2 963.2 75.8 962.6 82.3 961.8 96.9 960.5 140.8 960 228.4 959.9 328.4 957.9 328.4 957.8 228.4 957.2 140.8 956.9 96.9ZM973.7 80.3H974.8V82.6H973.7ZM974.8 82.3L974.8 48.7 975.8 48 976.5 28.3 976.9 26.8 978.1 26.8 978.5 29.7 979.1 37.8 980.6 46.5 982.1 47.6 984.8 49.5 986.5 50.2 986.8 67.7 987.6 75.8 989.2 79.1 991.8 80.3 991.8 82.6 986.5 82.3 984.3 78.2 981.3 75.8 980.7 82.3 979.9 96.9 978.6 140.8 978.1 228.4 978 328.4 976 328.4 975.9 228.4 975.3 140.8 975 96.9ZM991.8 80.3H992.7V82.6H991.8ZM1025.7 82.3L1025.7 48.7 1026.7 48 1027.4 28.3 1027.8 26.8 1029 26.8 1029.4 29.7 1030 37.8 1031.5 46.5 1033 47.6 1035.7 49.5 1037.4 50.2 1037.7 67.7 1038.5 75.8 1040.1 79.1 1042.7 80.3 1042.7 82.6 1037.4 82.3 1035.2 78.2 1032.2 75.8 1031.6 82.3 1030.8 96.9 1029.5 140.8 1029 228.4 1028.9 328.4 1026.9 328.4 1026.7 228.4 1026.2 140.8 1025.9 96.9ZM1042.7 80.3H1043.2V82.6H1042.7ZM1043.2 82.3L1043.2 48.7 1044.2 48 1044.9 28.3 1045.3 26.8 1046.5 26.8 1046.9 29.7 1047.5 37.8 1049 46.5 1050.5 47.6 1053.2 49.5 1054.9 50.2 1055.2 67.7 1056 75.8 1057.6 79.1 1060.2 80.3 1060.2 82.6 1054.9 82.3 1052.7 78.2 1049.7 75.8 1049.1 82.3 1048.3 96.9 1047 140.8 1046.5 228.4 1046.4 328.4 1044.4 328.4 1044.2 228.4 1043.7 140.8 1043.4 96.9ZM1060.2 82.3L1060.2 48.7 1061.2 48 1061.9 28.3 1062.3 26.8 1063.5 26.8 1063.9 29.7 1064.5 37.8 1066 46.5 1067.5 47.6 1070.2 49.5 1071.9 50.2 1072.2 67.7 1073 75.8 1074.6 79.1 1077.2 80.3 1077.2 82.6 1071.9 82.3 1069.7 78.2 1066.7 75.8 1066.1 82.3 1065.3 96.9 1064 140.8 1063.5 228.4 1063.4 328.4 1061.4 328.4 1061.2 228.4 1060.7 140.8 1060.4 96.9ZM1077.2 80.3H1077.4V82.6H1077.2ZM1077.4 82.3L1077.4 48.7 1078.4 48 1079.1 28.3 1079.5 26.8 1080.7 26.8 1081.1 29.7 1081.7 37.8 1083.2 46.5 1084.7 47.6 1087.4 49.5 1089.1 50.2 1089.4 67.7 1090.2 75.8 1091.8 79.1 1094.4 80.3 1094.4 82.6 1089.1 82.3 1086.9 78.2 1083.9 75.8 1083.3 82.3 1082.5 96.9 1081.2 140.8 1080.8 228.4 1080.6 328.4 1078.6 328.4 1078.4 228.4 1077.9 140.8 1077.6 96.9ZM1094.4 80.3H1094.7V82.6H1094.4ZM1094.7 82.3L1094.7 48.7 1095.7 48 1096.4 28.3 1096.8 26.8 1098 26.8 1098.4 29.7 1099 37.8 1100.5 46.5 1102 47.6 1104.7 49.5 1106.4 50.2 1106.7 67.7 1107.5 75.8 1109.1 79.1 1111.7 80.3 1111.7 82.6 1106.4 82.3 1104.2 78.2 1101.2 75.8 1100.6 82.3 1099.8 96.9 1098.5 140.8 1098 228.4 1097.9 328.4 1095.9 328.4 1095.7 228.4 1095.2 140.8 1094.9 96.9ZM1111.7 80.3H1112V82.6H1111.7ZM1140 82.3L1140 48.7 1141 48 1141.7 28.3 1142.1 26.8 1143.3 26.8 1143.7 29.7 1144.3 37.8 1145.8 46.5 1147.3 47.6 1150 49.5 1151.7 50.2 1152 67.7 1152.8 75.8 1154.4 79.1 1157 80.3 1157 82.6 1151.7 82.3 1149.5 78.2 1146.5 75.8 1145.9 82.3 1145.1 96.9 1143.8 140.8 1143.3 228.4 1143.2 328.4 1141.2 328.4 1141 228.4 1140.5 140.8 1140.2 96.9ZM1157 80.3H1157.5V82.6H1157ZM1157.5 82.3L1157.5 48.7 1158.5 48 1159.2 28.3 1159.6 26.8 1160.8 26.8 1161.2 29.7 1161.8 37.8 1163.3 46.5 1164.8 47.6 1167.5 49.5 1169.2 50.2 1169.5 67.7 1170.3 75.8 1171.9 79.1 1174.5 80.3 1174.5 82.6 1169.2 82.3 1167 78.2 1164 75.8 1163.4 82.3 1162.6 96.9 1161.3 140.8 1160.8 228.4 1160.7 328.4 1158.7 328.4 1158.5 228.4 1158 140.8 1157.7 96.9ZM1174.5 80.3H1174.8V82.6H1174.5ZM1174.8 82.3L1174.8 48.7 1175.8 48 1176.5 28.3 1176.9 26.8 1178.1 26.8 1178.5 29.7 1179.1 37.8 1180.6 46.5 1182.1 47.6 1184.8 49.5 1186.5 50.2 1186.8 67.7 1187.6 75.8 1189.2 79.1 1191.8 80.3 1191.8 82.6 1186.5 82.3 1184.3 78.2 1181.3 75.8 1180.7 82.3 1179.9 96.9 1178.6 140.8 1178.2 228.4 1178 328.4 1176 328.4 1175.8 228.4 1175.3 140.8 1175 96.9ZM1191.8 80.3H1192.5V82.6H1191.8ZM1253.4 82.3L1253.4 48.7 1254.4 48 1255.1 28.3 1255.5 26.8 1256.7 26.8 1257.1 29.7 1257.7 37.8 1259.2 46.5 1260.7 47.6 1263.4 49.5 1265.1 50.2 1265.4 67.7 1266.2 75.8 1267.8 79.1 1270.4 80.3 1270.4 82.6 1265.1 82.3 1262.9 78.2 1259.9 75.8 1259.3 82.3 1258.5 96.9 1257.2 140.8 1256.8 228.4 1256.6 328.4 1254.6 328.4 1254.4 228.4 1253.9 140.8 1253.6 96.9ZM1270.4 80.3H1271.2V82.6H1270.4ZM1271.2 82.3L1271.2 48.7 1272.2 48 1272.9 28.3 1273.3 26.8 1274.5 26.8 1274.9 29.7 1275.5 37.8 1277 46.5 1278.5 47.6 1281.2 49.5 1282.9 50.2 1283.2 67.7 1284 75.8 1285.6 79.1 1288.2 80.3 1288.2 82.6 1282.9 82.3 1280.7 78.2 1277.7 75.8 1277.1 82.3 1276.3 96.9 1275 140.8 1274.5 228.4 1274.4 328.4 1272.4 328.4 1272.2 228.4 1271.7 140.8 1271.4 96.9ZM1288.2 80.3H1288.6V82.6H1288.2ZM1288.6 82.3L1288.6 48.7 1289.6 48 1290.3 28.3 1290.7 26.8 1291.9 26.8 1292.3 29.7 1292.9 37.8 1294.4 46.5 1295.9 47.6 1298.6 49.5 1300.3 50.2 1300.6 67.7 1301.4 75.8 1303 79.1 1305.6 80.3 1305.6 82.6 1300.3 82.3 1298.1 78.2 1295.1 75.8 1294.5 82.3 1293.7 96.9 1292.4 140.8 1292 228.4 1291.8 328.4 1289.8 328.4 1289.6 228.4 1289.1 140.8 1288.8 96.9ZM1305.6 80.3H1306.1V82.6H1305.6ZM1306.1 82.3L1306.1 48.7 1307.1 48 1307.8 28.3 1308.2 26.8 1309.4 26.8 1309.8 29.7 1310.4 37.8 1311.9 46.5 1313.4 47.6 1316.1 49.5 1317.8 50.2 1318.1 67.7 1318.9 75.8 1320.5 79.1 1323.1 80.3 1323.1 82.6 1317.8 82.3 1315.6 78.2 1312.6 75.8 1312 82.3 1311.2 96.9 1309.9 140.8 1309.5 228.4 1309.3 328.4 1307.3 328.4 1307.1 228.4 1306.6 140.8 1306.3 96.9ZM1323.1 80.3H1323.4V82.6H1323.1ZM1323.4 82.3L1323.4 48.7 1324.4 48 1325.1 28.3 1325.5 26.8 1326.7 26.8 1327.1 29.7 1327.7 37.8 1329.2 46.5 1330.7 47.6 1333.4 49.5 1335.1 50.2 1335.4 67.7 1336.2 75.8 1337.8 79.1 1340.4 80.3 1340.4 82.6 1335.1 82.3 1332.9 78.2 1329.9 75.8 1329.3 82.3 1328.5 96.9 1327.2 140.8 1326.8 228.4 1326.6 328.4 1324.6 328.4 1324.4 228.4 1323.9 140.8 1323.6 96.9ZM1340.4 80.3H1341.1V82.6H1340.4ZM1369.7 82.3L1369.7 48.7 1370.7 48 1371.4 28.3 1371.8 26.8 1373 26.8 1373.4 29.7 1374 37.8 1375.5 46.5 1377 47.6 1379.7 49.5 1381.4 50.2 1381.7 67.7 1382.5 75.8 1384.1 79.1 1386.7 80.3 1386.7 82.6 1381.4 82.3 1379.2 78.2 1376.2 75.8 1375.6 82.3 1374.8 96.9 1373.5 140.8 1373 228.4 1372.9 328.4 1370.9 328.4 1370.7 228.4 1370.2 140.8 1369.9 96.9ZM1386.7 80.3H1387.1V82.6H1386.7ZM1387.1 82.3L1387.1 48.7 1388.1 48 1388.8 28.3 1389.2 26.8 1390.4 26.8 1390.8 29.7 1391.4 37.8 1392.9 46.5 1394.4 47.6 1397.1 49.5 1398.8 50.2 1399.1 67.7 1399.9 75.8 1401.5 79.1 1404.1 80.3 1404.1 82.6 1398.8 82.3 1396.6 78.2 1393.6 75.8 1393 82.3 1392.2 96.9 1390.9 140.8 1390.5 228.4 1390.3 328.4 1388.3 328.4 1388.1 228.4 1387.6 140.8 1387.3 96.9ZM1404.1 80.3H1404.5V82.6H1404.1ZM1404.5 82.3L1404.5 48.7 1405.5 48 1406.2 28.3 1406.6 26.8 1407.8 26.8 1408.2 29.7 1408.8 37.8 1410.3 46.5 1411.8 47.6 1414.5 49.5 1416.2 50.2 1416.5 67.7 1417.3 75.8 1418.9 79.1 1421.5 80.3 1421.5 82.6 1416.2 82.3 1414 78.2 1411 75.8 1410.4 82.3 1409.6 96.9 1408.3 140.8 1407.8 228.4 1407.7 328.4 1405.7 328.4 1405.5 228.4 1405 140.8 1404.7 96.9ZM1421.5 80.3H1422.2V82.6H1421.5ZM1422.2 82.3L1422.2 48.7 1423.2 48 1423.9 28.3 1424.3 26.8 1425.5 26.8 1425.9 29.7 1426.5 37.8 1428 46.5 1429.5 47.6 1432.2 49.5 1433.9 50.2 1434.2 67.7 1435 75.8 1436.6 79.1 1439.2 80.3 1439.2 82.6 1433.9 82.3 1431.7 78.2 1428.7 75.8 1428.1 82.3 1427.3 96.9 1426 140.8 1425.5 228.4 1425.4 328.4 1423.4 328.4 1423.2 228.4 1422.7 140.8 1422.4 96.9ZM1439.2 80.3H1439.6V82.6H1439.2ZM1439.6 82.3L1439.6 48.7 1440.6 48 1441.3 28.3 1441.7 26.8 1442.9 26.8 1443.3 29.7 1443.9 37.8 1445.4 46.5 1446.9 47.6 1449.6 49.5 1451.3 50.2 1451.6 67.7 1452.4 75.8 1454 79.1 1456.6 80.3 1456.6 82.6 1451.3 82.3 1449.1 78.2 1446.1 75.8 1445.5 82.3 1444.7 96.9 1443.4 140.8 1443 228.4 1442.8 328.4 1440.8 328.4 1440.6 228.4 1440.1 140.8 1439.8 96.9ZM1456.6 80.3H1457.1V82.6H1456.6ZM1457.1 82.3L1457.1 48.7 1458.1 48 1458.8 28.3 1459.2 26.8 1460.4 26.8 1460.8 29.7 1461.4 37.8 1462.9 46.5 1464.4 47.6 1467.1 49.5 1468.8 50.2 1469.1 67.7 1469.9 75.8 1471.5 79.1 1474.1 80.3 1474.1 82.6 1468.8 82.3 1466.6 78.2 1463.6 75.8 1463 82.3 1462.2 96.9 1460.9 140.8 1460.5 228.4 1460.3 328.4 1458.3 328.4 1458.1 228.4 1457.6 140.8 1457.3 96.9ZM1474.1 80.3H1474.8V82.6H1474.1ZM1474.8 82.3L1474.8 48.7 1475.8 48 1476.5 28.3 1476.9 26.8 1478.1 26.8 1478.5 29.7 1479.1 37.8 1480.6 46.5 1482.1 47.6 1484.8 49.5 1486.5 50.2 1486.8 67.7 1487.6 75.8 1489.2 79.1 1491.8 80.3 1491.8 82.6 1486.5 82.3 1484.3 78.2 1481.3 75.8 1480.7 82.3 1479.9 96.9 1478.6 140.8 1478.2 228.4 1478 328.4 1476 328.4 1475.8 228.4 1475.3 140.8 1475 96.9ZM1491.8 80.3H1492.3V82.6H1491.8ZM1492.3 82.3L1492.3 48.7 1493.3 48 1494 28.3 1494.4 26.8 1495.6 26.8 1496 29.7 1496.6 37.8 1498.1 46.5 1499.6 47.6 1502.3 49.5 1504 50.2 1504.3 67.7 1505.1 75.8 1506.7 79.1 1509.3 80.3 1509.3 82.6 1504 82.3 1501.8 78.2 1498.8 75.8 1498.2 82.3 1497.4 96.9 1496.1 140.8 1495.7 228.4 1495.5 328.4 1493.5 328.4 1493.3 228.4 1492.8 140.8 1492.5 96.9Z" fill="#ff0000" stroke="#ff0000" stroke-width="0.6" stroke-linejoin="round"/>
<path d="M866.8 82.3L866.8 48.7 866.8 27.1 870.6 18.1 871.2 18.1 872.6 26.2 874.1 38.5 875.7 42 879.8 44.5 885.3 47 890.3 50.5 890.8 68.6 891.8 79.4 892.3 80.3 892.3 82.6 889.7 82 886.9 77.8 882.4 70.2 876.9 59.5 874.7 56.9 873.8 75 872.6 126.1 872.2 228.4 872.1 361.3 870.8 367.1 870.7 411.7 870.3 462.1 868 462.1 867.5 411.7 867.4 362.8 866.8 362.8 866.8 228.4 867 126.1 866.8 96.9ZM892.3 80.3H893.7V82.6H892.3ZM926.7 82.3L926.7 48.7 927.8 27.1 931.8 18.1 932.4 18.1 933.8 26.2 935.3 38.5 936.9 42 941 44.5 946.5 47 951.5 50.5 952 68.6 953 79.4 953.5 80.3 953.5 82.6 950.9 82 948.1 77.8 943.6 70.2 938.1 59.5 935.9 56.9 935 75 934.1 126.1 933.7 228.4 933.6 329.2 932.7 335 932.6 354.7 932.2 380.3 930.5 380.3 930 354.7 929.9 330.6 927.1 330.6 927.1 228.4 926.9 126.1 926.7 96.9ZM953.5 80.3H956.7V82.6H953.5ZM992.7 82.3L992.7 48.7 993.8 27.1 997.8 18.1 998.4 18.1 999.8 26.2 1001.3 38.5 1002.9 42 1007 44.5 1012.5 47 1017.5 50.5 1018 68.6 1019 79.4 1019.5 80.3 1019.5 82.6 1016.9 82 1014.1 77.8 1009.6 70.2 1004.1 59.5 1001.9 56.9 1001 75 1000.1 126.1 999.7 228.4 999.6 329.2 998.7 335 998.6 375.2 998.2 421.2 996.5 421.2 996 375.2 995.9 330.6 993.1 330.6 993.1 228.4 992.9 126.1 992.7 96.9ZM1019.5 80.3H1025.7V82.6H1019.5ZM1112 82.3L1112 48.7 1113.1 27.1 1117.1 18.1 1117.7 18.1 1119.1 26.2 1120.6 38.5 1122.2 42 1126.3 44.5 1131.8 47 1136.8 50.5 1137.3 68.6 1138.3 79.4 1138.8 80.3 1138.8 82.6 1136.2 82 1133.4 77.8 1128.9 70.2 1123.4 59.5 1121.2 56.9 1120.3 75 1119.4 126.1 1119 228.4 1118.9 329.2 1118 335 1117.9 354 1117.5 378.8 1115.8 378.8 1115.3 354 1115.2 330.6 1112.4 330.6 1112.4 228.4 1112.2 126.1 1112 96.9ZM1138.8 80.3H1140V82.6H1138.8ZM1192.5 82.3L1192.5 48.7 1193.6 27.1 1197.6 18.1 1198.2 18.1 1199.6 26.2 1201.1 38.5 1202.7 42 1206.8 44.5 1212.3 47 1217.3 50.5 1217.8 68.6 1218.8 79.4 1219.3 80.3 1219.3 82.6 1216.7 82 1213.9 77.8 1209.4 70.2 1203.9 59.5 1201.7 56.9 1200.8 75 1199.9 126.1 1199.5 228.4 1199.4 329.2 1198.5 335 1198.4 365.7 1198 402.2 1196.3 402.2 1195.8 365.7 1195.7 330.6 1192.9 330.6 1192.9 228.4 1192.7 126.1 1192.5 96.9ZM1219.3 80.3H1224.8V82.6H1219.3ZM1224.8 82.3L1224.8 48.7 1225.9 27.1 1229.9 18.1 1230.5 18.1 1231.9 26.2 1233.4 38.5 1235 42 1239.1 44.5 1244.6 47 1249.6 50.5 1250.1 68.6 1251.1 79.4 1251.6 80.3 1251.6 82.6 1249 82 1246.2 77.8 1241.7 70.2 1236.2 59.5 1234 56.9 1233.1 75 1232.2 126.1 1231.8 228.4 1231.7 329.2 1230.8 335 1230.7 354.7 1230.3 380.3 1228.6 380.3 1228.1 354.7 1228 330.6 1225.2 330.6 1225.2 228.4 1225 126.1 1224.8 96.9ZM1251.6 80.3H1253.4V82.6H1251.6ZM1341.1 82.3L1341.1 48.7 1342.2 27.1 1346.2 18.1 1346.8 18.1 1348.2 26.2 1349.7 38.5 1351.3 42 1355.4 44.5 1360.9 47 1365.9 50.5 1366.4 68.6 1367.4 79.4 1367.9 80.3 1367.9 82.6 1365.3 82 1362.5 77.8 1358 70.2 1352.5 59.5 1350.3 56.9 1349.4 75 1348.5 126.1 1348.1 228.4 1348 329.2 1347.1 335 1347 345.2 1346.6 361.3 1344.9 361.3 1344.4 345.2 1344.3 330.6 1341.5 330.6 1341.5 228.4 1341.3 126.1 1341.1 96.9ZM1367.9 80.3H1369.7V82.6H1367.9Z" fill="#0000ff" stroke="#0000ff" stroke-width="0.6" stroke-linejoin="round"/>
</g>
<path d="M1022.7 336.5L1022.7 326.9M1022.7 317.3L1022.7 307.7M1022.7 298.1L1022.7 288.5M1022.7 278.9L1022.7 269.3M1022.7 259.7L1022.7 250.1M1022.7 240.5L1022.7 230.9M1022.7 221.3L1022.7 211.7M1022.7 202.1L1022.7 192.5M1022.7 182.9L1022.7 173.3M1022.7 163.7L1022.7 154.1M1022.7 144.5L1022.7 134.9M1022.7 125.3L1022.7 115.7M1022.7 106.1L1022.7 96.5M1022.7 86.9L1022.7 77.3M1022.7 67.7L1022.7 58.1M1022.7 48.5L1022.7 38.9M1022.7 29.3L1022.7 22 1022.7 22 1025.1 22M1035.3 22L1045.4 22M1055.5 22L1065.6 22M1075.8 22L1085.9 22M1096 22L1106.2 22M1109.2 28.7L1109.2 38.3M1109.2 47.9L1109.2 57.5M1109.2 67.1L1109.2 76.7M1109.2 86.3L1109.2 95.9M1109.2 105.5L1109.2 115.1M1109.2 124.7L1109.2 134.3M1109.2 143.9L1109.2 153.5M1109.2 163.1L1109.2 172.7M1109.2 182.3L1109.2 191.9M1109.2 201.5L1109.2 211.1M1109.2 220.7L1109.2 230.3M1109.2 239.9L1109.2 249.5M1109.2 259.1L1109.2 268.7M1109.2 278.3L1109.2 287.9M1109.2 297.5L1109.2 307.1M1109.2 316.7L1109.2 326.3M1107.9 334.7L1097.8 334.7M1087.7 334.7L1077.5 334.7M1067.4 334.7L1057.3 334.7M1047.2 334.7L1037 334.7M1026.9 334.7L1020.9 334.7" fill="none" stroke="#000" stroke-width="3.6" stroke-linejoin="miter"/>
<path d="M1189.2 403.9L1189.2 394.3M1189.2 384.7L1189.2 375.1M1189.2 365.5L1189.2 355.9M1189.2 346.3L1189.2 336.7M1189.2 327.1L1189.2 317.5M1189.2 307.9L1189.2 298.3M1189.2 288.7L1189.2 279.1M1189.2 269.5L1189.2 259.9M1189.2 250.3L1189.2 240.7M1189.2 231.1L1189.2 221.5M1189.2 211.9L1189.2 202.3M1189.2 192.7L1189.2 183.1M1189.2 173.5L1189.2 163.9M1189.2 154.3L1189.2 144.7M1189.2 135.1L1189.2 125.5M1189.2 115.9L1189.2 106.3M1189.2 96.7L1189.2 87.1M1189.2 77.5L1189.2 67.9M1189.2 58.3L1189.2 48.7M1189.2 39.1L1189.2 29.5M1189.2 19.9L1189.2 15.8 1189.2 15.8 1195 15.8M1205.1 15.8L1215.3 15.8M1225.4 15.8L1235.5 15.8M1245.6 15.8L1252.8 15.8 1252.8 15.8 1252.8 18.6M1252.8 28.2L1252.8 37.8M1252.8 47.4L1252.8 57M1252.8 66.6L1252.8 76.2M1252.8 85.8L1252.8 95.4M1252.8 105L1252.8 114.6M1252.8 124.2L1252.8 133.8M1252.8 143.4L1252.8 153M1252.8 162.6L1252.8 172.2M1252.8 181.8L1252.8 191.4M1252.8 201L1252.8 210.6M1252.8 220.2L1252.8 229.8M1252.8 239.4L1252.8 249M1252.8 258.6L1252.8 268.2M1252.8 277.8L1252.8 287.4M1252.8 297L1252.8 306.6M1252.8 316.2L1252.8 325.8M1252.8 335.4L1252.8 345M1252.8 354.6L1252.8 364.2M1252.8 373.8L1252.8 383.4M1252.8 393L1252.8 402.1 1252.8 402.1 1252.3 402.1M1242.1 402.1L1232 402.1M1221.9 402.1L1211.7 402.1M1201.6 402.1L1191.5 402.1" fill="none" stroke="#000" stroke-width="3.6" stroke-linejoin="miter"/>
<text x="1182.5" y="581" font-family='"Liberation Serif",serif' font-size="27.5" fill="#262626" text-anchor="middle" font-style="italic" font-weight="bold">t/s</text>
<text x="816.5" y="267" font-family='"Liberation Serif",serif' font-size="29" fill="#262626" text-anchor="middle" font-style="italic" font-weight="bold" transform="rotate(-90 816.5 267)">y</text>
<text x="1169" y="633.5" font-family='"Liberation Serif",serif' font-size="45" fill="#111" text-anchor="middle">(b)</text>
<g font-family='"Liberation Serif",serif' font-weight="bold" font-size="23.3">
<text x="1031" y="448.3" fill="#ff0000">period</text>
<text x="1350.5" y="451.8" fill="#0000ff">chaotic</text>
</g>
<path d="M1063.3 345.3L1064.3 400.8" stroke="#000" stroke-width="1.4" fill="none"/>
<path d="M1064.5 412.7L1057.4 395.8L1064.3 400.8L1071 395.6Z" fill="#000"/>
<path d="M1267.5 393.2L1323.3 426.5" stroke="#000" stroke-width="1.4" fill="none"/>
<path d="M1333.5 432.6L1315.4 429.7L1323.3 426.5L1322.4 418Z" fill="#000"/>
<path d="M139.6 1193v-7.7M139.6 689.7v7.7M297.2 1193v-7.7M297.2 689.7v7.7M454.9 1193v-7.7M454.9 689.7v7.7M612.5 1193v-7.7M612.5 689.7v7.7M60.8 740h7.7M691.3 740h-7.7M60.8 840.7h7.7M691.3 840.7h-7.7M60.8 941.4h7.7M691.3 941.4h-7.7M60.8 1042h7.7M691.3 1042h-7.7M60.8 1142.7h7.7M691.3 1142.7h-7.7" stroke="#262626" stroke-width="2.5" fill="none"/>
<rect x="60.8" y="689.7" width="630.5" height="503.3" fill="none" stroke="#262626" stroke-width="2.8"/>
<g font-family='"Liberation Serif",serif' font-weight="bold" font-size="29.8" fill="#262626">
<g text-anchor="middle">
<text x="139.6" y="1228">-2</text>
<text x="297.2" y="1228">0</text>
<text x="454.9" y="1228">2</text>
<text x="612.5" y="1228">4</text>
</g><g text-anchor="end">
<text x="50.3" y="750">0</text>
<text x="50.3" y="850.7">-1</text>
<text x="50.3" y="951.3">-2</text>
<text x="50.3" y="1052">-3</text>
<text x="50.3" y="1152.7">-4</text>
</g></g>
<g clip-path="url(#cc)" fill="none" stroke="#0000ff" stroke-width="2.6" stroke-linejoin="round" stroke-linecap="round">
<path d="M226 822.2L230 823.8 234 825.4 238 826.9 242 828.6 246.3 830.4 250.7 832.3 255.1 834.2 259.6 836.1 264.4 838.3 269.2 840.5 274.1 842.7 278.8 844.6 282.9 846.1 286.9 847.4 290.9 848.5 294.8 849.4 298.5 850 302.1 850.4 305.7 850.5 309.2 850.2 312.6 849.5 315.9 848.4 319.1 847.1 322 845.4 324.7 843.4 327.3 841.2 329.6 838.6 331.6 835.8 333.4 832.2 334.8 828.2 335.8 824 336.4 819.8 336.6 815.8 336.3 811.9 335.7 807.9 334.8 803.8 333.3 799.1 331.4 794.3 329.2 789.5 326.8 784.6 323.9 779.1 320.8 773.5 317.4 767.9 314 762.2 310.2 755.8 306.3 749.3 302.3 742.9 298 736.6 293.5 730.2 288.7 723.7 283.8 717.8 278.8 713.4 275.2 711.5 271.6 710.4 268 709.6 264.4 708.6"/>
<path d="M230.8 821.4L233.5 822.4 236.2 823.3 239 824.3 242 825.4 246.1 827.1 250.6 829 255.1 830.9 259.6 832.6 263.6 834 267.6 835.3 271.6 836.5 275.6 837.4 279.6 838.1 283.6 838.7 287.7 839 291.6 839 295.3 838.8 299 838.4 302.6 837.7 306 836.6 309.1 835.2 312.1 833.6 314.8 831.6 317.2 829.4 319.1 826.9 320.6 824.2 321.9 821.2 322.8 818.2 323.5 814.8 323.8 811.3 323.8 807.6 323.6 803.8 322.9 799.2 321.8 794.4 320.4 789.5 318.8 784.6 316.8 779.1 314.5 773.5 311.9 767.9 309.2 762.2 306 755.8 302.4 749.2 298.7 742.7 294.8 736.6 291 731.1 287.1 725.7 283 721 278.8 717.4 275.7 715.8 272.5 714.9 269.2 714.2 266 713.4"/>
<path d="M278.8 713.4L275.2 711.9 271.5 710.1 267.9 708.8 264.4 708.6 260.7 709.8 257 712.2 253.4 715.3 250 719 245.7 725.3 241.7 733 238 741.7 234 751 228.1 765.4 222.1 781.7 216 798.6 210 815 204 830.6 197.9 846.4 192.2 861.5 187.6 875 185.2 883.1 183.3 890.4 181.6 897.5 180 904.7 178.4 912 176.8 919.5 175.4 926.8 174.1 934 173.2 940.5 172.4 946.9 171.7 953.2 171.2 959.3 170.8 964.8 170.6 970.1 170.5 975.4 170.7 980.7 171 986 171.6 991.4 172.4 996.7 173.3 1002 174.5 1007.1 175.8 1012.1 177.3 1017.1 178.9 1022 180.8 1026.8 182.7 1031.5 185 1036.1 187.5 1040.7 190.5 1045.5 193.9 1050.2 197.5 1054.8 201.3 1059.3 205.6 1064 210.2 1068.5 215 1072.9 220 1077.2 225.1 1081.5 230.3 1085.6 236 1089.7 242.7 1094 255.8 1101.3 271.4 1109.1 288 1116.5 304 1122.8 317.7 1127.3 331.2 1131 344.8 1134 358.7 1136.7 373.6 1139 388.9 1140.7 404.4 1141.9 420 1142.8 436.5 1143.3 453.3 1143.5 470.2 1143 486.7 1142 502.3 1140.4 517.9 1138.2 533.1 1135.5 548 1132.1 561.9 1128.4 575.4 1124.2 588.6 1119.4 601.3 1114 613.1 1108.4 624.7 1102.3 635.5 1095.6 645.3 1088.1 653.5 1080.5 661 1072.3 667.5 1063.6 672.8 1054.5 676.7 1045.4 679.5 1035.8 681.4 1026.2 682.1 1017.2 681.9 1010.5 680.9 1004.2 679.3 998.1 677.3 991.9 674.9 985.1 672.1 978.3 668.7 971.7 664.8 965.2 660 958.5 654.6 951.9 648.6 945.6 642.1 939.3 633.8 932.2 624.7 925.3 615.1 918.5 605.3 912.1 595.1 905.9 584.6 900.1 573.8 894.5 562.7 889.2 550.6 883.9 538.1 879 525.6 874.3 513.3 870 502.5 866.3 491.8 862.9 481.2 859.7 470.7 856.7 460.7 853.8 450.9 851.1 441 848.5 430.7 846 418.5 843.4 405.8 841 392.9 838.7 380 836.7 366.4 834.8 352.4 833 338.9 831.5 326.7 830 318.9 829 311.8 828.1 305 827.2 297.9 826.3 290 825.1 282 823.8 273.9 822.5 265.9 821.5 257.9 820.6 249.9 819.9 241.9 819.4 233.9 819.1 225.9 819.1 217.9 819.4 209.9 819.8 201.9 820.1 193.9 820.4 185.9 820.8 177.9 821.1 169.9 821.5"/>
<path d="M278.8 717.4L275.6 716.1 272.3 714.7 269.1 713.6 266 713.4 262.7 714.4 259.4 716.4 256.2 719 253.2 722.2 249.3 727.8 245.7 734.8 242.3 742.6 238.8 751 233.7 763.5 228.5 777.4 223.3 792.2 218 807 211.8 824.2 205.4 842.5 199.3 860 194 875 191.1 882.5 188.4 889.1 186.1 895.3 184 902 182.2 909.8 180.8 918 179.7 926.1 178.7 934 177.9 940.8 177.2 947.4 176.7 954 176.5 960.7 176.7 968 177.1 975.4 177.8 982.9 178.7 990 179.5 996.3 180.5 1002.5 181.7 1008.4 183.2 1014 184.9 1018.6 186.7 1023.1 188.9 1027.3 191.2 1031.3 193.7 1035.1 196.3 1038.7 199.2 1042.3 202.7 1046 208.4 1051.7 215.1 1057.8 222.5 1063.9 230.7 1070 242.6 1078 256 1086.1 270 1093.9 284 1100.7 297.1 1106.1 310.4 1110.8 323.8 1114.9 337.3 1118.5 351.1 1121.7 365 1124.3 379.1 1126.5 393.3 1128.1 408.2 1129.4 423.2 1130.1 438.3 1130.3 453.3 1130 468.4 1129.1 483.5 1127.7 498.5 1125.8 513.3 1123.3 528 1120.4 542.6 1116.9 557 1112.9 570.7 1108.1 583 1103.1 595 1097.6 606.3 1091.5 616.8 1084.7 625.8 1077.8 634.2 1070.4 641.7 1062.5 648 1054 652.9 1045.1 656.7 1035.4 659.6 1025.7 661.3 1016.7 661.9 1010.4 661.8 1004.4 661.1 998.6 660 992.7 658.2 986 655.8 979.2 652.8 972.5 649.3 966 645.1 959.4 640.3 953 635 946.8 629.3 940.7 622.7 934.1 615.6 927.7 608.1 921.4 600 915.3 590.2 908.6 579.7 902.2 568.7 895.9 557.3 890 544.1 883.8 530.2 877.9 516.1 872.3 502.7 867.3 491.5 863.5 480.6 860 470 856.9 460 854 452.5 851.8 445.5 849.9 438.4 848 430.7 846 419 843 406.3 839.8 393.1 836.7 380 834 366.4 831.8 352.4 829.8 338.9 828.2 326.7 826.5 318.9 825.4 311.8 824.4 305 823.4 297.9 822.3 289.9 820.9 281.7 819.4 273.6 818 265.9 816.7 259.6 815.7 253.7 814.9 247.8 814.2 241.9 813.5 235.9 812.8 229.9 812.1 223.9 811.5 217.9 811.1 211.9 810.7 205.9 810.5 199.9 810.4 193.9 810.5 187.9 811 181.9 811.8 175.9 812.7 169.9 813.5"/>
<path d="M254.8 736.3L256.5 737.5 258.3 738.6 260 739.9 261.2 741.4 261.9 743.5 262.2 746 262.2 748.6 262 751 261.6 753 261.1 755 260.4 756.9 259.6 759 258.6 761.7 257.5 764.4 256.2 767.3 254.8 770.2 253 773.7 250.9 777.2 248.8 780.9 246.8 784.6 244.8 788.5 242.8 792.5 240.8 796.5 238.8 800.6 236.8 804.9 234.7 809.2 232.8 813.7 230.8 818.2 228.8 823.3 226.8 828.5 224.8 833.8 222.8 839 220.8 844.3 218.7 849.6 216.7 854.8 214.8 859.8 213.3 863.6 211.9 867.1 210.5 870.8 209.2 875 207.3 882.8 205.5 891.7 203.9 901.1 202.7 910 201.9 917.4 201.4 924.7 201.2 931.9 201.3 939.3 201.7 947.9 202.3 956.7 203.5 965.5 205.3 974 208 982.3 211.5 990.5 215.5 998.4 220 1006 225.1 1013.4 230.8 1020.6 237.1 1027.4 244 1034 253 1041.3 262.9 1048.4 273.4 1055 284 1060.7 294.4 1065.2 305.1 1069 316 1072.3 326.7 1075.3 336.6 1078.1 346.4 1080.7 356.4 1082.9 366.7 1084.7 378.6 1086.2 391 1087.3 403.5 1087.9 416 1088.1 428.4 1087.9 440.7 1087.3 453.1 1086.2 465.3 1084.7 477.6 1082.6 489.8 1080.1 501.8 1077 513.3 1073.5 523.9 1069.7 534.2 1065.4 544.1 1060.7 553.3 1055.3 561.6 1049.8 569.4 1043.7 576.5 1037.1 582.7 1030 587.6 1022.4 591.8 1014.1 595.1 1005.7 597.3 998 598.3 992.8 598.7 987.9 598.6 983.1 598.1 978 597.1 971.8 595.4 965.4 593.2 958.9 590.7 952.7 587.6 946.5 584.2 940.4 580.3 934.5 576 928.7 571 922.4 565.6 916.3 559.7 910.4 553.3 904.7 545.4 898.6 536.7 892.8 527.6 887.2 518.7 882 510.1 877.3 501.5 872.8 492.7 868.6 484 864.7 475.3 861 466.5 857.6 457.8 854.4 449.3 851.3 441.8 848.7 434.4 846.2 427.2 843.8 420 841.5 413.2 839.3 406.5 837.3 400 835.3 394 833.4 389.7 832 385.8 830.6 381.9 829.2 378 827.8 374 826.4 370 825 366 823.6 362 822.2 358 820.8 354 819.4 350 818 346 816.6 342 815.2 338 813.8 334 812.3 330 811 326 809.7 322 808.5 318 807.3 314 806.2 310 805.1 306 804 302 802.9 298 801.9 294 800.9 290 800 286 799.1 282 798.2 278 797.4 274 796.5 270 795.8 266 795 262 794.3 258 793.5 254 792.9 250 792.3 246 791.8 242 791.3 238 791 234 790.7 230 790.4 226 790.2 222 790.1 218 790.2 213.8 790.4 209.5 790.8 205.5 791.5 202 792.6 199.6 793.9 197.4 795.5 195.7 797.2 194.8 799 194.8 800.6 195.3 802.2 196.2 803.9 197.2 805.4 198.8 807.1 200.8 808.8 203 810.3 205.2 811.8 207.5 813.3 209.8 814.8 212.3 816.1 214.8 817.4 217.5 818.6 220.2 819.7 223 820.6 226 821.4 229.7 822.1 233.6 822.5 237.7 822.8 242 823 247.7 823.2 253.7 823.1 259.9 823.1 266 823"/>
<path d="M296.4 740.6L293.6 740.9 290.8 741.2 288 741.6 285.2 742.2 282.3 743.1 279.5 744.2 276.7 745.5 274 747 271.4 748.7 268.9 750.7 266.6 752.8 264.4 755 262.4 757.4 260.4 759.9 258.7 762.6 257.2 765.4 255.9 768.4 254.9 771.5 254.1 774.8 253.2 778.2 252.1 782.7 251.1 787.4 250.2 792.4 249.2 797.4 248.2 802.9 247.2 808.5 246.2 814.2 245.2 819.8 244 825.4 242.8 831.1 241.6 836.7 240.4 842.2 239.3 847.6 238.2 853 237.2 858.2 236.4 863 235.9 866.2 235.4 869.1 235.1 872 234.8 875 234.6 878.6 234.5 882.2 234.5 886 234.7 890 235 895.1 235.6 900.4 236.4 905.8 237.3 911.3 238.6 917.3 240.2 923.4 242 929.4 244 935.3 246.3 941.1 248.8 946.9 251.6 952.5 254.7 958 258.1 963.6 261.8 969 265.9 974.3 270.7 979.3 277.1 984.9 284.3 990.2 292.1 995 300 999.3 308.2 1003.1 316.7 1006.3 325.6 1009 334.7 1011.3 345 1013.4 355.8 1015 366.7 1016.1 377.3 1016.7 386.9 1016.7 396.4 1016.3 405.6 1015.4 414.7 1014 423 1012.2 431.1 1009.9 439 1007.2 446.7 1004.1 454.1 1000.7 461.5 996.9 468.4 992.6 474.7 987.9 479.9 982.9 484.8 977.4 489 971.7 492.5 966 495 961 497 956 498.4 951 499.5 946 500 941.6 500.2 937.4 500 933.1 499.5 928.7 498.5 923.4 497.2 918 495.4 912.6 493.3 907.3 490.9 902.2 488.1 897.1 484.9 892.1 481.3 887.3 476.7 882.1 471.4 877 465.8 872.1 460 867.3 453.7 862.1 447 856.9 440.2 852.2 433.3 848.7 427.6 847 421.9 846.3 416.1 845.7 410 844.6 402.2 842.2 394 839.1 385.7 835.8 378 832.6 371.6 829.8 365.4 826.9 359.6 824.1 354 821.4 349.8 819.3 345.8 817.4 341.9 815.4 338 813.4 334 811.3 330 809 326 806.8 322 804.6 318 802.4 314 800.2 310 797.9 306 795.8 302 793.8 298 791.8 294 789.8 290 787.8 286 785.8 282 783.8 278 781.8 274 779.8 270 777.8 266 775.8 262 773.8 258 771.8"/>
<path d="M265.9 821.5L257.9 820.8 249.9 820 241.9 819.4 233.9 819.1 225.9 819.1 217.9 819.4 209.9 819.8 201.9 820.1 193.8 820.4 185.8 820.7 177.8 821 169.9 821.5 162.3 822.1 154.9 822.8 147.5 823.7 140 824.7 131.9 825.8 123.6 827.1 115.5 828.5 108 830 102.2 831.3 96.8 832.7 91.6 834.3 86.7 836.1 82.3 838.1 78 840.2 74.1 842.6 70.7 845.2 68.1 847.7 65.7 850.4 63.9 853.1 62.7 855.9 62.2 858.1 62.2 860.3 62.6 862.5 63.2 864.7 64.4 867.3 66.2 870 68.3 872.6 70.7 875.3 74.3 878.9 78.6 882.5 83.2 886.2 88 890 93.9 894.7 100.3 899.5 106.8 904.4 113.3 909.2 119.9 913.9 126.4 918.7 133.1 923.3 140 927.9 147.7 932.7 155.7 937.5 163.8 942.2 172 946.5 179.9 950.4 187.8 953.9 195.8 957.3 204 960.7 213.1 964.3 222.6 967.8 232.1 971.1 241.3 974 249.5 976.3 257.6 978.3 265.6 980 273.3 981.5 280.1 982.5 286.8 983.4 293.4 984.1 300 984.7 306.6 985.2 313.2 985.6 319.8 985.9 326.7 986 334.5 985.9 342.6 985.5 350.7 985 358.7 984.1 366.2 983.1 373.7 981.9 381 980.4 388 978.5 394.1 976.5 400 974.2 405.6 971.6 410.7 968.7 414.9 965.7 418.8 962.4 422.3 958.9 425.3 955.3 427.6 952.1 429.6 948.8 431.2 945.4 432.5 942 433.5 938.7 434.2 935.4 434.6 932.1 434.7 928.7 434.2 924.7 433.3 920.7 432.1 916.6 430.7 912.7 429.2 908.9 427.5 905.2 425.5 901.6 423.2 898 420 893.9 416.4 889.9 412.4 886 408 882 402.3 877.2 396 872.4 389.4 867.8 382.7 863.3 375.5 859 368 854.9 360.5 851 353.3 847.3 347.2 844.2 341.3 841.1 335.5 838.3 330 835.8 325.8 834.1 321.9 832.7 318 831.4 314 830.2 310.1 829 306.2 827.9 302.2 826.9 298 825.9 292.4 824.8 286.3 823.9 280.1 823.1 274 822.2"/>
<path d="M265.9 816.7L259.9 815.8 253.9 815 247.9 814.2 241.9 813.5 235.9 812.8 229.9 812.1 223.9 811.5 217.9 811.1 211.9 810.7 205.9 810.5 199.9 810.4 193.9 810.5 187.8 811 181.8 811.7 175.8 812.5 169.9 813.5 164.2 814.4 158.6 815.3 153.1 816.5 148 818 143.6 819.6 139.3 821.5 135.3 823.6 132 826 129.7 828.1 127.7 830.4 126.1 832.8 125.3 835.3 125.4 837.9 126.3 840.5 127.7 843.3 129.3 846 132.4 849.9 136.4 854 140.8 858.1 145.3 862 150.3 866.1 155.5 870.2 161 874.1 166.7 878 173 882.2 179.7 886.3 186.5 890.3 193.3 894 199.9 897.3 206.6 900.4 213.3 903.3 220 906 226.6 908.6 233.3 910.9 240 913.2 246.7 915.3 253.3 917.3 260 919.2 266.6 921 273.3 922.5 280 923.9 286.8 925 293.5 926 300 926.8 305.5 927.4 310.8 927.8 316.1 928.1 321.3 928.1 326.7 927.9 332.1 927.5 337.5 926.9 342.7 926 347.5 925 352.3 923.8 357 922.3 361.3 920.7 365 919 368.5 917.2 371.7 915.1 374.7 912.7 377.4 909.8 379.8 906.5 382 902.9 384 899.3 385.9 895.5 387.6 891.4 389 887.3 390.1 883.3 390.9 880.3 391.4 877.4 391.7 874.4 392 871.3 392.2 867.5 392.3 863.4 392.2 859.2 391.6 855 390.4 850.2 388.6 845.3 386.6 840.4 384.4 835.8 382.3 831.6 380 827.5 377.5 823.6 374.8 819.8 371.9 816.1 368.7 812.4 365.4 808.9 362 805.4 358.2 801.7 354.2 798.1 350.1 794.5 346 791 342 787.7 338 784.4 334 781.3 330 778.2 326 775.3 322.1 772.4 318 769.6 314 767 310 764.6 306 762.4 302 760.3 298 758.2 294 756.2 290 754.2 286 752.2 282 750.2 277.9 748.2 273.8 746.1 269.8 744.1 266 742.2 263.1 740.7 260.3 739.2 257.6 737.7 254.8 736.3"/>
<path d="M258 771.8L272.4 771 286.8 767.8"/>
<path d="M286.8 767.8L285.6 769.6 284.4 771.3 283.2 773.1 282 775 280.7 777.6 279.5 780.3 278.3 783.2 277.2 786.2 276.1 789.6 275 793.2 274 796.8 273.2 800.6 272.4 804.9 271.8 809.3 271.2 813.7 270.8 818.2 270.5 822.6 270.2 827 270.1 831.5 270 835.8 269.9 839.9 269.8 844 269.8 848 270 851.8 270.4 855.1 270.9 858.4 271.6 861.6 272.4 864.6 273.2 867.2 274.1 869.7 275.1 872.3 276.4 875 278.5 879.2 281 883.8 283.7 888.4 286.7 892.7 289.6 896.4 292.7 899.9 296.1 903.1 300 906 305.4 909 311.6 911.7 318 913.8 324 915.3 328.5 916 332.8 916.2 337 916.1 341.3 915.9 346 915.5 350.8 914.9 355.6 914 360 912.7 364 910.9 367.9 908.7 371.4 906.2 374.7 903.3 377.5 900.1 380 896.4 382.2 892.5 384 888.7 385.3 885.3 386.4 882 387.1 878.6 387.6 875 387.7 870.2 387.4 865.1 386.8 859.9 386 855 385.1 850.8 384 846.8 382.7 842.9 381.2 839 379.5 834.9 377.6 830.9 375.5 826.9 373.2 823 370.7 819 367.9 815.1 365 811.1 362 807 358.2 802 354.2 796.8 350.1 791.5 346 786.2 342 781 338 775.7 334 770.5 330 765.4 326 760.5 322.1 755.6 318.1 750.8 314 746.2 310.1 741.8 306.1 737.5 302.1 733.4 298 729.4 294 725.7 289.9 722 285.8 718.6 282 715.8 279.5 714.2 277.1 713 274.8 711.9 272.4 710.7"/>
<path d="M126.7 826.5L136.5 825.4 146.3 824.2 156.3 823.2 166.7 822.3 179.5 821.5 192.8 820.8 206.5 820.5 220 820.4 233.3 820.7 246.7 821.4 260 822.3 273.3 823.3 286.7 824.6 300 826 313.3 827.6 326.7 829.2 340 830.9 353.4 832.7 366.8 834.6 380 836.7 392.8 838.9 405.4 841.2 418 843.6 430.7 846" stroke-width="3.3"/>
</g>
<text x="376" y="1263" font-family='"Liberation Serif",serif' font-size="29.5" fill="#262626" text-anchor="middle" font-style="italic" font-weight="bold">z</text>
<text x="14.2" y="941.5" font-family='"Liberation Serif",serif' font-size="29.5" fill="#262626" text-anchor="middle" font-style="italic" font-weight="bold" transform="rotate(-90 14.2 941.5)">x</text>
<text x="362" y="1313.5" font-family='"Liberation Serif",serif' font-size="45" fill="#111" text-anchor="middle">(c)</text>
<path d="M945.9 1200.3v-7.7M945.9 689.8v7.7M1103.8 1200.3v-7.7M1103.8 689.8v7.7M1261.7 1200.3v-7.7M1261.7 689.8v7.7M1419.6 1200.3v-7.7M1419.6 689.8v7.7M866.9 746.5h7.7M1498.6 746.5h-7.7M866.9 803.2h7.7M1498.6 803.2h-7.7M866.9 860h7.7M1498.6 860h-7.7M866.9 916.7h7.7M1498.6 916.7h-7.7M866.9 973.4h7.7M1498.6 973.4h-7.7M866.9 1030.1h7.7M1498.6 1030.1h-7.7M866.9 1086.9h7.7M1498.6 1086.9h-7.7M866.9 1143.6h7.7M1498.6 1143.6h-7.7" stroke="#262626" stroke-width="2.5" fill="none"/>
<rect x="866.9" y="689.8" width="631.7" height="510.5" fill="none" stroke="#262626" stroke-width="2.8"/>
<g font-family='"Liberation Serif",serif' font-weight="bold" font-size="29.8" fill="#262626">
<g text-anchor="middle">
<text x="945.9" y="1235.3">-2</text>
<text x="1103.8" y="1235.3">0</text>
<text x="1261.7" y="1235.3">2</text>
<text x="1419.6" y="1235.3">4</text>
</g><g text-anchor="end">
<text x="856.4" y="699.8">0.5</text>
<text x="856.4" y="756.5">0</text>
<text x="856.4" y="813.2">-0.5</text>
<text x="856.4" y="869.9">-1</text>
<text x="856.4" y="926.7">-1.5</text>
<text x="856.4" y="983.4">-2</text>
<text x="856.4" y="1040.1">-2.5</text>
<text x="856.4" y="1096.8">-3</text>
<text x="856.4" y="1153.6">-3.5</text>
<text x="856.4" y="1210.3">-4</text>
</g></g>
<g clip-path="url(#cd)" fill="none" stroke="#ff00ff" stroke-linejoin="round">
<path d="M1077.7 717.5L1080.1 717.8 1082.5 718.7 1084.9 720 1087.3 721.6 1089.6 723.3 1091.8 725.1 1094 727.2 1096.1 729.5 1098.2 732.1 1100.3 735.2 1103.4 740.4 1106.7 746.6 1109.9 753.3 1112.8 760.4 1115.3 767.5 1117.5 774.9 1119.5 782.7 1121.1 790.6 1122.3 798.2 1122.7 805.1 1122.6 809.6 1122.3 813.9 1121.6 817.9 1120.6 821.6 1119.3 824.8 1117.9 827.2 1116.1 829.3 1114.2 831 1112.1 832.5 1110.1 833.9 1108.3 834.9 1106.4 835.7 1104.5 836.3 1102.5 836.8 1100.3 837.3 1096.7 837.9 1092.7 838.3 1088.5 838.5 1084.2 838.5 1080.1 838.4 1076.1 838.1 1072 837.5 1067.9 836.8 1064 836 1060.4 835 1057.5 834.2 1054.7 833.3 1052 832.3 1049.7 831.2 1047.7 830 1046.7 829.2 1045.7 828.4 1044.9 827.5 1044.3 826.7 1044.2 825.9 1044.5 825.2 1045.2 824.6 1046.2 824 1047.3 823.5 1048.5 823.1 1051.1 822.8 1054.2 822.9 1057.7 823.4 1061.4 824 1065.1 824.8 1069.8 825.9 1074.7 827.4 1079.9 829.1 1085.1 830.9 1090.4 832.7 1096.2 834.8 1102.2 836.9 1108.3 839.1 1114.4 841.5 1120.4 844.1 1126.4 846.9 1132.4 849.9 1138.4 853.1 1144.4 856.5 1150.4 860 1156.5 863.7 1162.6 867.7 1168.6 871.8 1174.6 876 1180.4 880.4 1185.7 884.6 1191 888.9 1196.1 893.4 1201 897.9 1205.6 902.6 1209.6 906.8 1213.4 911 1217 915.3 1220.3 919.8 1223 924.6 1225.2 929.4 1227.1 934.5 1228.6 939.8 1229.7 945.1 1230.1 950.2 1230 954.8 1229.5 959.4 1228.5 963.9 1227.1 968.3 1225.4 972.3 1222.8 976.5 1219.6 980.4 1216 984 1212.1 987.4 1208 990.4 1203 993.6 1197.6 996.5 1191.9 998.9 1186.1 1001.1 1180.4 1002.9 1174.4 1004.4 1168.2 1005.5 1162 1006.3 1156 1006.9 1150.4 1007.4 1146.2 1007.9 1142.3 1008.2 1138.4 1008.4 1134.5 1008.6 1130.3 1008.6 1124.8 1008.5 1118.9 1008.3 1112.9 1007.8 1106.7 1007.2 1100.3 1006.3 1092.7 1004.9 1084.7 1003.1 1076.6 1001 1068.4 998.6 1060.4 996.1 1052.2 993.3 1044.1 990.2 1036 986.9 1027.9 983.6 1020.1 980.2 1013 977.2 1006 974.2 999.1 971.1 992.2 967.8 985.3 964.3 978.2 960.4 971.1 956.3 963.9 951.9 956.9 947.4 949.8 942.8 942.7 938 935.4 933.1 928.3 928.1 921.5 923 915.1 917.8 909.9 913.5 904.9 909.1 900.1 904.7 895.9 900.1 892.2 895.1 889.5 890.8 887 886.1 884.8 881.4 883.3 876.8 882.7 872.4 882.9 869.2 883.5 866.1 884.6 863.1 885.9 860.3 887.4 857.7 889.4 855.2 891.7 852.9 894.3 851 897.1 849.2 900.1 847.5 904.4 845.5 909.3 843.8 914.5 842.4 919.9 841.2 925.3 840.1 931.9 839 938.7 838.2 945.7 837.6 952.9 837.1 960.1 836.6 967.9 836.2 976 835.9 984.1 835.7 992.3 835.6 1000.3 835.6 1008.3 835.6 1016.3 835.7 1024.3 835.9 1032.2 836.2 1040.2 836.6 1048.2 837.1 1056 837.7 1063.9 838.4 1072 839.2 1080.3 840.1 1089.9 841.3 1099.9 842.7 1110 844.2 1120.2 845.8 1130.3 847.5 1140.3 849.2 1150.4 850.9 1160.4 852.7 1170.4 854.6 1180.4 856.6 1190.3 858.6 1200.3 860.6 1210.2 862.8 1220.2 865.1 1230.1 867.6 1240.3 870.3 1250.5 873.2 1260.7 876.2 1270.8 879.4 1280.7 882.7 1289.8 885.9 1298.8 889.1 1307.7 892.6 1316.6 896.2 1325.7 900.1 1335.6 904.6 1345.9 909.4 1356.1 914.5 1366 919.7 1375.4 925.1 1383.1 929.9 1390.4 934.8 1397.5 939.8 1404.3 944.9 1411 950.2 1416.9 954.9 1422.7 959.6 1428.2 964.5 1433.6 969.6 1438.6 975.1 1443.1 980.7 1447.3 986.5 1451.4 992.6 1455 998.8 1458.3 1005.2 1461 1011 1463.4 1016.9 1465.5 1023 1467.2 1029.1 1468.6 1035.2 1469.5 1041.2 1470.1 1047.2 1470.4 1053.3 1470.3 1059.4 1469.8 1065.3 1468.8 1071.4 1467.3 1077.4 1465.5 1083.3 1463.3 1089.1 1460.7 1094.8 1457.2 1101.3 1453.3 1107.6 1448.8 1113.8 1443.9 1119.8 1438.6 1125.4 1431.3 1132.1 1423.1 1138.4 1414.3 1144.3 1405.2 1149.8 1395.9 1154.9 1385.4 1160 1374.4 1164.6 1363.1 1168.7 1351.7 1172.3 1340.7 1175.3 1330.4 1177.6 1320.2 1179.3 1310.1 1180.6 1300.2 1181.7 1290.5 1182.7 1282.3 1183.6 1274.5 1184.4 1266.7 1185 1258.9 1185.4 1250.7 1185.6 1240.9 1185.4 1230.8 1185 1220.6 1184.3 1210.3 1183.3 1200.1 1182.1 1190.1 1180.8 1180.2 1179.2 1170.2 1177.4 1160.3 1175.4 1150.4 1173.1 1140.2 1170.5 1130 1167.7 1119.9 1164.7 1109.9 1161.4 1100.3 1157.8 1091.9 1154.3 1083.6 1150.6 1075.6 1146.7 1067.8 1142.5 1060.4 1137.9 1053.9 1133.5 1047.6 1128.8 1041.6 1123.8 1035.9 1118.5 1030.4 1112.9 1025.3 1107.3 1020.4 1101.5 1015.8 1095.3 1011.5 1088.9 1007.5 1082.3 1003.9 1075.8 1000.6 1069.1 997.6 1062.1 994.8 1055 992.5 1047.7 990.4 1040.3 988.8 1032.4 987.4 1024.6 986.2 1016.9 985.3 1009.7 984.8 1004.5 984.4 999.7 984.2 995 984.1 990.1 984.2 984.8 984.4 976.7 984.9 967.9 985.6 958.8 986.5 949.5 987.7 940.5 989.2 931.4 991.1 922.2 993.2 913 995.4 904 997.7 895.1 999.9 886.9 1002.4 879 1004.9 871.1 1007.5 863.2 1010.1 855.1 1013 846.2 1016 837.1 1019.1 828 1022.1 818.9 1025.2 810.1 1028.2 801.7 1031.1 793.5 1034.1 785.4 1037.1 777.5 1040.2 770 1043.1 763.5 1046.1 757.1 1049.1 751.1 1052.2 745.3 1055.2 740.1 1057.7 736 1060.2 732.1 1062.7 728.5 1065.2 725.3 1067.7 722.7 1069.7 721 1071.7 719.6 1073.6 718.5 1075.7 717.8Z" stroke-width="3.6"/>
<path d="M1078 717L1080.3 717.3 1082.7 718.2 1085.2 719.5 1087.6 721.1 1089.9 722.8 1092.1 724.7 1094.3 726.7 1096.4 729 1098.5 731.7 1100.6 734.8 1103.8 740 1107.1 746.2 1110.2 753 1113.2 760.1 1115.7 767.2 1117.9 774.6 1119.9 782.5 1121.6 790.5 1122.7 798.1 1123.2 804.9 1123.1 809.5 1122.7 813.8 1122 817.8 1121 821.5 1119.8 824.7 1118.3 827.2 1116.5 829.2 1114.5 831 1112.5 832.5 1110.5 833.9 1108.6 834.9 1106.8 835.7 1104.9 836.3 1102.9 836.8 1100.6 837.3 1097.1 837.9 1093.1 838.3 1088.8 838.5 1084.5 838.6 1080.4 838.4 1076.3 838.1 1072.2 837.5 1068.1 836.8 1064.2 836 1060.5 835 1057.7 834.2 1054.8 833.3 1052.2 832.3 1049.8 831.2 1047.8 830 1046.8 829.2 1045.8 828.3 1045 827.5 1044.5 826.6 1044.3 825.9 1044.6 825.2 1045.3 824.5 1046.3 823.9 1047.4 823.4 1048.6 823 1051.2 822.7 1054.3 822.9 1057.9 823.3 1061.6 824 1065.3 824.7 1070 825.9 1075 827.4 1080.1 829.1 1085.4 830.9 1090.7 832.7 1096.5 834.8 1102.6 836.9 1108.6 839.1 1114.7 841.5 1120.8 844.1 1126.8 847 1132.9 850 1138.9 853.2 1144.9 856.5 1150.9 860.1 1157 863.8 1163.2 867.8 1169.3 871.9 1175.2 876.2 1181 880.6 1186.4 884.8 1191.7 889.1 1196.8 893.6 1201.8 898.2 1206.4 902.9 1210.4 907.1 1214.2 911.3 1217.8 915.6 1221.1 920.1 1223.8 925 1226 929.8 1227.9 934.9 1229.4 940.2 1230.5 945.5 1231 950.6 1230.9 955.2 1230.3 959.9 1229.3 964.4 1228 968.8 1226.2 972.8 1223.7 977.1 1220.5 981 1216.8 984.6 1212.9 988 1208.8 991 1203.8 994.3 1198.3 997.1 1192.6 999.6 1186.8 1001.7 1181 1003.6 1175 1005.1 1168.8 1006.2 1162.6 1007 1156.6 1007.6 1150.9 1008.1 1146.7 1008.5 1142.8 1008.9 1138.9 1009.1 1135 1009.2 1130.8 1009.3 1125.2 1009.2 1119.4 1008.9 1113.3 1008.5 1107 1007.9 1100.6 1007 1093 1005.5 1085 1003.7 1076.8 1001.6 1068.6 999.3 1060.5 996.7 1052.4 993.9 1044.2 990.8 1036 987.5 1028 984.1 1020.1 980.8 1012.9 977.7 1005.9 974.7 999 971.6 992.1 968.4 985.2 964.8 978.1 960.9 970.9 956.7 963.7 952.4 956.6 947.8 949.5 943.2 942.4 938.4 935.1 933.5 928 928.5 921.1 923.3 914.7 918.1 909.5 913.8 904.4 909.4 899.7 905 895.4 900.3 891.7 895.4 889 891 886.4 886.3 884.3 881.6 882.8 876.9 882.2 872.6 882.3 869.4 883 866.2 884.1 863.2 885.4 860.4 886.9 857.8 888.9 855.2 891.2 853 893.8 851 896.6 849.2 899.6 847.5 904 845.5 908.8 843.9 914 842.5 919.5 841.2 925 840.1 931.5 839 938.4 838.2 945.4 837.6 952.6 837.1 959.8 836.6 967.7 836.2 975.8 835.9 984 835.7 992.2 835.6 1000.3 835.6 1008.3 835.6 1016.3 835.7 1024.3 835.9 1032.3 836.2 1040.3 836.6 1048.3 837.1 1056.2 837.7 1064.1 838.4 1072.2 839.2 1080.5 840.1 1090.2 841.3 1100.2 842.7 1110.4 844.3 1120.6 845.9 1130.8 847.5 1140.8 849.2 1150.9 851 1161 852.8 1171 854.7 1181 856.6 1191 858.7 1201 860.7 1211 862.9 1221 865.2 1231 867.7 1241.2 870.4 1251.4 873.3 1261.7 876.3 1271.8 879.5 1281.7 882.8 1290.9 886.1 1299.9 889.4 1308.8 892.8 1317.8 896.4 1326.9 900.4 1336.9 904.9 1347.2 909.7 1357.5 914.8 1367.4 920 1376.9 925.4 1384.5 930.2 1391.9 935.2 1399 940.2 1405.8 945.4 1412.5 950.6 1418.5 955.4 1424.3 960.1 1429.9 965 1435.2 970.2 1440.3 975.7 1444.8 981.2 1449.1 987.1 1453.1 993.2 1456.8 999.5 1460.1 1005.8 1462.8 1011.7 1465.2 1017.6 1467.3 1023.7 1469 1029.8 1470.4 1036 1471.3 1042 1471.9 1048.1 1472.2 1054.2 1472.1 1060.3 1471.6 1066.2 1470.6 1072.3 1469.1 1078.3 1467.3 1084.3 1465 1090.1 1462.5 1095.8 1459 1102.3 1455 1108.7 1450.5 1114.9 1445.6 1120.9 1440.3 1126.6 1432.9 1133.3 1424.7 1139.6 1415.9 1145.6 1406.8 1151.1 1397.5 1156.2 1386.9 1161.3 1375.8 1165.9 1364.5 1170 1353.1 1173.6 1342 1176.7 1331.7 1179 1321.4 1180.7 1311.3 1182 1301.3 1183.1 1291.6 1184.1 1283.4 1185 1275.5 1185.8 1267.7 1186.4 1259.8 1186.8 1251.6 1186.9 1241.8 1186.8 1231.7 1186.4 1221.4 1185.6 1211.1 1184.7 1200.9 1183.5 1190.8 1182.2 1180.8 1180.6 1170.8 1178.8 1160.9 1176.7 1150.9 1174.4 1140.7 1171.8 1130.5 1169 1120.3 1166 1110.3 1162.7 1100.6 1159 1092.2 1155.5 1083.9 1151.9 1075.8 1147.9 1068 1143.7 1060.5 1139.1 1054 1134.6 1047.8 1129.9 1041.7 1124.9 1035.9 1119.6 1030.4 1114.1 1025.3 1108.4 1020.5 1102.5 1015.8 1096.3 1011.5 1089.9 1007.4 1083.3 1003.9 1076.8 1000.5 1070 997.5 1063 994.8 1055.9 992.4 1048.6 990.3 1041.1 988.7 1033.2 987.3 1025.3 986.1 1017.6 985.2 1010.4 984.7 1005.2 984.3 1000.4 984.1 995.6 984 990.7 984 985.3 984.3 977.3 984.7 968.5 985.5 959.3 986.4 950 987.6 940.9 989.1 931.7 991 922.5 993.1 913.3 995.3 904.2 997.6 895.4 999.9 887.1 1002.3 879.1 1004.8 871.2 1007.5 863.3 1010.1 855.2 1013 846.2 1016 837.1 1019.1 827.9 1022.2 818.8 1025.3 809.9 1028.2 801.6 1031.2 793.3 1034.1 785.2 1037.2 777.3 1040.3 769.7 1043.2 763.2 1046.2 756.8 1049.3 750.7 1052.3 745 1055.4 739.7 1057.9 735.6 1060.4 731.6 1062.9 728 1065.4 724.8 1067.9 722.2 1069.9 720.6 1071.9 719.1 1073.9 718 1075.9 717.3Z" stroke-width="3.0"/>
</g>
<text x="1181.5" y="1258.7" font-family='"Liberation Serif",serif' font-size="29" fill="#262626" text-anchor="middle" font-style="italic" font-weight="bold">z</text>
<text x="797" y="945" font-family='"Liberation Serif",serif' font-size="29.5" fill="#262626" text-anchor="middle" font-style="italic" font-weight="bold" transform="rotate(-90 797 945)">x</text>
<text x="1169" y="1313.5" font-family='"Liberation Serif",serif' font-size="45" fill="#111" text-anchor="middle">(d)</text>
<path d="M186.9 1873v-7.7M186.9 1369.7v7.7M313 1873v-7.7M313 1369.7v7.7M439.1 1873v-7.7M439.1 1369.7v7.7M565.2 1873v-7.7M565.2 1369.7v7.7M60.8 1420h7.7M691.3 1420h-7.7M60.8 1520.7h7.7M691.3 1520.7h-7.7M60.8 1621.3h7.7M691.3 1621.3h-7.7M60.8 1722h7.7M691.3 1722h-7.7M60.8 1822.7h7.7M691.3 1822.7h-7.7" stroke="#262626" stroke-width="2.5" fill="none"/>
<rect x="60.8" y="1369.7" width="630.5" height="503.3" fill="none" stroke="#262626" stroke-width="2.8"/>
<g font-family='"Liberation Serif",serif' font-weight="bold" font-size="29.8" fill="#262626">
<g text-anchor="middle">
<text x="60.8" y="1908">-4</text>
<text x="186.9" y="1908">-2</text>
<text x="313" y="1908">0</text>
<text x="439.1" y="1908">2</text>
<text x="565.2" y="1908">4</text>
<text x="691.3" y="1908">6</text>
</g><g text-anchor="end">
<text x="50.3" y="1430">0</text>
<text x="50.3" y="1530.7">-1</text>
<text x="50.3" y="1631.3">-2</text>
<text x="50.3" y="1732">-3</text>
<text x="50.3" y="1832.7">-4</text>
</g></g>
<g clip-path="url(#ce)" fill="none" stroke="#ff0000" stroke-width="2.7" stroke-linejoin="round" stroke-linecap="round">
<path d="M300.3 1389L296.3 1386.8 292.3 1384.6 288.4 1384 284.2 1386 280.2 1389.9 276.4 1394.8 271.6 1404 267.4 1415.4 263.1 1428.1 256.2 1448.6 249.1 1471.8 243.2 1494.8 239.1 1516.5 236.2 1538.1 234.4 1557.2 234.3 1568.3 234.7 1578.2 234.6 1588.1 233.3 1598.4 231.6 1608.7 230 1618.7 228.9 1627.7 227.9 1636.5 227.3 1645 226.8 1652.6 226.6 1659.9 226.7 1667.3 227.3 1674.7 228.1 1682.1 229.2 1689.5 230.7 1696.5 232.4 1703.5 234.3 1710.3 236.5 1716.9 238.8 1723.3 241.4 1729.7 244.3 1736.3 247.4 1742.7 250.6 1749.2 253.7 1755.5 256.9 1761.7 260.4 1767.8 264.3 1773.7 268.5 1779.4 274.2 1785.2 287.5 1795.6 304.3 1806.2 321.4 1815.2 336.2 1821.3 351.2 1825.9 366.7 1829.7 383.3 1832.7 400.3 1834.8 417.6 1836.1 436 1836.7 454.7 1836.5 473 1835.2 490.4 1832.8 507.4 1829.4 523.9 1825 539.3 1819.6 554.1 1813.4 568.2 1806.1 581.4 1798.1 593.8 1789.2 604.8 1779.1 613.8 1768.3 621.6 1756.5 627.6 1744.2 631.8 1731.3 634.3 1717.9 635.4 1705.3 634.9 1696.1 633.5 1687.5 631.4 1678.9 628.6 1669.6 625.2 1660.2 621 1651.2 615.6 1641.9 609.3 1633 602.1 1624.2 592.8 1614.4 582.4 1604.9 571.6 1595.9 560.2 1587.4 548.4 1579.5 536.1 1572 522.7 1564.8 508.8 1558.2 495.1 1552 483.2 1547 471.4 1542.5 459.7 1538.2 448.7 1534.2 437.9 1530.5 426.5 1527 412.9 1523.5 398.7 1520.3 384.4 1517.3 369.2 1514.7 353.9 1512.5 340.1 1510.4 331.6 1509 324 1507.8 316.2 1506.5 307.4 1504.8 298.5 1503 289.6 1501.5 280.8 1500.4 271.9 1499.5 263 1499 254.2 1499.1 245.3 1499.6 236.4 1500.1 227.6 1500.6 218.7 1501 209.9 1501.5"/>
<path d="M299 1390.4L295 1388.3 291.1 1386.1 287.3 1385.5 283.2 1387.4 279.3 1391.3 275.6 1396.2 270.9 1405.2 266.8 1416.5 262.7 1429.1 256.2 1449.3 249.5 1472.2 243.2 1494.8 237.3 1516.3 231.6 1537.6 227.2 1556.5 225.2 1567.4 223.8 1577.2 222.5 1587 220.8 1597.1 219.2 1607.3 217.8 1617.2 216.8 1626.1 216 1634.7 215.4 1643.2 215 1650.6 214.8 1657.9 215 1665.1 215.4 1672.5 216.1 1679.8 217.2 1687.1 218.4 1694 220 1700.9 221.8 1707.6 223.8 1714.1 226.1 1720.5 228.7 1726.8 231.9 1733.3 235.6 1739.7 239.5 1746 243.8 1752.3 248.5 1758.4 253.4 1764.3 258.5 1770.2 263.9 1775.8 270.6 1781.6 284.9 1791.7 302.1 1802.3 319.4 1811.2 334 1817.1 348.7 1821.7 363.7 1825.5 379.9 1828.5 396.5 1830.5 413.4 1831.8 431.3 1832.4 449.5 1832.2 467.4 1830.9 484.4 1828.6 501 1825.2 517.1 1820.8 532.1 1815.6 546.6 1809.4 560.4 1802.2 573.2 1794.3 585.3 1785.5 596 1775.6 604.9 1764.9 612.4 1753.2 618.3 1741 622.3 1728.3 624.8 1715.1 625.8 1702.7 625.4 1693.6 624 1685.1 622 1676.6 619.3 1667.4 615.9 1658.2 611.8 1649.2 606.5 1640.1 600.4 1631.3 593.4 1622.6 584.4 1613 574.2 1603.6 563.6 1594.7 552.6 1586.3 541 1578.5 529 1571.1 515.9 1564 502.4 1557.4 489 1551.4 477.3 1546.4 465.9 1541.9 454.5 1537.7 443.8 1533.8 433.1 1530.1 422 1526.7 408.8 1523.2 395 1520 381 1517.1 366.2 1514.5 351.2 1512.3 337.8 1510.3 329.5 1508.9 322 1507.7 314.4 1506.4 305.9 1504.8 297.2 1503 288.5 1501.5 279.9 1500.4 271.2 1499.5 262.5 1499 253.9 1499.1 245.3 1499.6 236.6 1500.1 228 1500.6 219.3 1501 210.7 1501.5"/>
<path d="M297.5 1394.6L293.6 1392.5 289.8 1390.5 286.1 1389.9 282.1 1391.7 278.3 1395.5 274.8 1400.1 270.2 1408.8 266.2 1419.7 262.1 1431.8 255.3 1451.2 248.3 1473.2 243.2 1495.1 240.9 1515.7 240.3 1536.2 240.9 1554.4 242.2 1564.9 244.1 1574.3 245.3 1583.7 245 1593.5 243.9 1603.2 242.8 1612.7 241.9 1621.3 240.9 1629.6 240.1 1637.8 239.7 1644.9 239.5 1651.9 239.6 1658.9 240.1 1665.9 241 1673 242.1 1680 243.5 1686.6 245.1 1693.2 247 1699.7 249 1706 251.2 1712.1 253.7 1718.2 256.5 1724.4 259.6 1730.5 262.4 1736.6 264.6 1742.6 266.6 1748.5 268.8 1754.3 271 1759.9 273.5 1765.4 277.4 1770.9 288.2 1780.8 302.7 1790.9 317.7 1799.4 331.5 1805.2 345.8 1809.6 360.5 1813.1 376.2 1816 392.4 1817.9 408.8 1819.2 426.3 1819.8 444 1819.6 461.4 1818.4 477.9 1816.1 494.1 1812.9 509.8 1808.6 524.3 1803.6 538.4 1797.6 551.8 1790.7 564.3 1783.1 576.1 1774.6 586.5 1765.1 595.1 1754.8 602.4 1743.6 608.2 1731.9 612.1 1719.7 614.6 1706.9 615.5 1695 615.1 1686.3 613.7 1678.1 611.8 1669.9 609.2 1661.1 605.9 1652.2 601.9 1643.6 596.8 1634.8 590.8 1626.3 584 1618 575.2 1608.7 565.3 1599.7 555 1591.1 544.2 1583 533 1575.5 521.3 1568.4 508.6 1561.6 495.4 1555.2 482.4 1549.4 471 1544.7 459.9 1540.3 448.8 1536.3 438.4 1532.5 428 1529 417.2 1525.7 404.3 1522.3 390.9 1519.3 377.3 1516.5 362.9 1514 348.3 1511.9 335.2 1509.9 327.2 1508.6 319.9 1507.5 312.5 1506.2 304.2 1504.6 295.7 1502.9 287.3 1501.5 278.9 1500.4 270.5 1499.5 262 1499.1 253.6 1499.2 245.2 1499.6 236.8 1500.1 228.4 1500.6 220 1501 211.6 1501.5"/>
<path d="M297 1397.8L293.2 1395.8 289.4 1393.8 285.7 1393.2 281.8 1395 278 1398.6 274.5 1403.2 270 1411.6 266 1422.1 262 1433.9 255.7 1452.8 249.2 1474.1 243.2 1495.2 237.8 1515.2 232.8 1535.1 229 1552.8 227.4 1563 226.4 1572.1 225.3 1581.2 224 1590.7 222.6 1600.1 221.4 1609.3 220.4 1617.6 219.6 1625.8 219 1633.6 218.6 1640.6 218.5 1647.3 218.6 1654.1 219 1661 219.7 1667.8 220.7 1674.6 222 1681 223.5 1687.4 225.2 1693.7 227.2 1699.8 229.3 1705.8 231.9 1711.6 235 1717.7 238.5 1723.7 242.2 1729.5 246.3 1735.4 250.7 1741.1 255.3 1746.7 259.9 1752.1 264.8 1757.4 270.8 1762.8 284.2 1772.2 300.4 1782.1 316.8 1790.4 330.8 1795.9 344.9 1800.2 359.4 1803.7 375.1 1806.5 391.1 1808.4 407.4 1809.6 424.7 1810.2 442.2 1810 459.5 1808.8 475.8 1806.6 491.9 1803.5 507.4 1799.3 521.9 1794.5 535.8 1788.7 549.1 1782 561.5 1774.6 573.2 1766.4 583.5 1757.2 592 1747.2 599.3 1736.3 605 1724.9 608.9 1713.1 611.3 1700.7 612.3 1689.1 611.9 1680.7 610.5 1672.8 608.5 1664.8 605.9 1656.2 602.7 1647.6 598.7 1639.3 593.6 1630.8 587.7 1622.5 581 1614.5 572.3 1605.5 562.5 1596.7 552.2 1588.4 541.6 1580.6 530.4 1573.2 518.9 1566.4 506.3 1559.7 493.2 1553.6 480.3 1548 469 1543.3 458 1539.1 447 1535.2 436.7 1531.6 426.4 1528.1 415.7 1525 402.9 1521.7 389.6 1518.7 376.1 1516 361.8 1513.6 347.4 1511.5 334.4 1509.6 326.4 1508.4 319.2 1507.2 311.9 1506 303.7 1504.5 295.3 1502.8 286.9 1501.4 278.6 1500.4 270.2 1499.6 261.9 1499.1 253.5 1499.2 245.2 1499.7 236.9 1500.2 228.5 1500.6 220.2 1501 211.8 1501.4"/>
<path d="M296.4 1396.7L292.6 1394.6 288.9 1392.6 285.2 1392 281.3 1393.9 277.6 1397.5 274.1 1402.1 269.7 1410.6 265.7 1421.2 261.8 1433.1 255.7 1452.3 249.5 1473.8 243.2 1495.2 236.7 1515.4 230.1 1535.5 224.6 1553.3 221.9 1563.6 219.7 1572.9 217.8 1582.1 216 1591.7 214.4 1601.2 213 1610.5 212.1 1618.9 211.3 1627.1 210.8 1635.1 210.5 1642.1 210.3 1649 210.4 1655.8 210.8 1662.7 211.5 1669.6 212.4 1676.5 213.6 1683 215 1689.5 216.7 1695.9 218.6 1702 220.8 1708 223.3 1714 226.5 1720.1 230.2 1726.2 234.2 1732.1 238.9 1738 243.9 1743.8 249.3 1749.4 254.8 1754.9 260.6 1760.2 267.6 1765.7 281.9 1775.2 298.9 1785.1 315.8 1793.6 329.8 1799.2 343.7 1803.5 358 1807 373.5 1809.9 389.3 1811.8 405.4 1813 422.5 1813.6 439.8 1813.4 456.9 1812.2 473 1810 488.9 1806.8 504.2 1802.7 518.5 1797.7 532.3 1791.9 545.4 1785.1 557.6 1777.6 569.2 1769.3 579.4 1760 587.8 1749.9 595 1738.9 600.6 1727.4 604.5 1715.4 606.9 1702.9 607.8 1691.2 607.4 1682.7 606.1 1674.7 604.1 1666.7 601.6 1658 598.4 1649.3 594.4 1640.8 589.4 1632.2 583.6 1623.9 576.9 1615.7 568.3 1606.6 558.6 1597.7 548.5 1589.3 538 1581.4 527 1574 515.6 1567.1 503.1 1560.4 490.2 1554.2 477.5 1548.5 466.3 1543.8 455.4 1539.6 444.5 1535.6 434.3 1531.9 424.2 1528.4 413.6 1525.2 401 1521.9 387.8 1518.9 374.5 1516.2 360.4 1513.7 346.2 1511.6 333.3 1509.7 325.4 1508.5 318.3 1507.3 311.1 1506.1 302.9 1504.5 294.7 1502.9 286.4 1501.4 278.1 1500.4 269.9 1499.6 261.7 1499.1 253.4 1499.2 245.2 1499.7 236.9 1500.1 228.7 1500.6 220.5 1501 212.2 1501.4"/>
<path d="M298.7 1397.1L295.2 1395.3 291.7 1393.6 288.4 1393.1 284.8 1394.7 281.3 1397.9 278 1401.9 273.8 1409.8 270.2 1419.7 266.4 1430.8 260.6 1447.9 254.8 1467.1 249.7 1487 245.3 1510.3 241.9 1534.4 239.4 1555.2 238.5 1565 238 1573.5 237.4 1582.2 236.5 1592.8 235.7 1603.7 234.9 1614.3 234.1 1623.4 233.4 1632.1 233.1 1641.1 233.3 1650.9 234 1660.9 234.9 1670.5 235.8 1678.9 237 1686.9 238.6 1694.5 240.4 1700.7 242.5 1706.4 244.8 1711.9 247.2 1716.9 249.8 1721.6 252.7 1726.6 257.2 1734.3 262.3 1742.5 268.6 1750.7 278.8 1761.4 290.8 1772.1 303.6 1781.5 317.1 1788.7 331.3 1794.5 345.9 1799.4 360.6 1803.5 375.7 1806.7 391 1809 407 1810.5 423.2 1811.2 439.4 1810.9 455.6 1809.6 471.8 1807.4 487.8 1804.2 503.6 1800.1 519.2 1795.1 534 1788.9 547.3 1782.1 559.8 1774.3 571.2 1765.4 580.8 1756 589.4 1745.7 596.3 1734.7 601.5 1722.4 605 1709.4 607.1 1697.2 607.6 1688.9 607.2 1681.1 606 1673.2 604 1664.2 601.1 1655.2 597.4 1646.4 592.8 1637.7 587.4 1629.3 581.3 1621 574.1 1612.3 566.3 1603.8 557.6 1595.6 547 1586.8 535.5 1578.2 523.2 1570.2 508.9 1562 493.8 1554.3 479.2 1547.5 467.2 1542.4 455.6 1538 444.8 1534.1 436.8 1531.3 429.3 1528.7 421.1 1526.1 408.4 1522 394.4 1517.8 380.3 1514 365.6 1511.1 350.7 1508.7 337.3 1506.6 329 1505.1 321.6 1503.7 314 1502.3 305.4 1500.4 296.6 1498.4 288.2 1496.7 281.6 1495.4 275.3 1494.4 268.9 1493.4 262.5 1492.5 256 1491.7 249.5 1491 243.1 1490.6 236.6 1490.4 230.2 1490.5 223.7 1491.2 217.3 1492.3 210.8 1493.4"/>
<path d="M298.5 1396.6L295 1394.8 291.6 1393 288.2 1392.5 284.6 1394.1 281.2 1397.3 277.9 1401.4 273.7 1409.3 270.1 1419.3 266.4 1430.4 260.9 1447.6 255.2 1466.9 249.6 1486.9 243.2 1510.4 236.9 1534.6 231.4 1555.4 228.5 1565.3 226.1 1573.8 224 1582.7 222.3 1593.3 221 1604.3 219.9 1614.9 219.1 1624 218.4 1632.8 218.2 1641.8 218.4 1651.7 219 1661.7 219.9 1671.4 220.8 1679.8 222 1687.9 223.6 1695.6 225.4 1701.7 227.5 1707.5 230 1713.1 232.6 1718 235.5 1722.8 239 1727.8 245.1 1735.6 252.4 1743.8 260.8 1752 273.5 1762.8 287.9 1773.5 302.8 1782.9 316.7 1790.1 331 1796 345.6 1801 360.3 1805.1 375.3 1808.3 390.6 1810.6 406.5 1812.2 422.7 1812.8 438.8 1812.5 455 1811.2 471.1 1809 487 1805.8 502.8 1801.7 518.4 1796.6 533.1 1790.5 546.4 1783.6 558.9 1775.7 570.2 1766.8 579.8 1757.4 588.3 1747 595.3 1735.9 600.4 1723.6 603.9 1710.5 606 1698.3 606.5 1689.9 606.1 1682 604.9 1674.1 602.9 1665.1 600 1656 596.3 1647.2 591.7 1638.4 586.3 1629.9 580.3 1621.6 573.1 1612.9 565.3 1604.4 556.7 1596.1 546.1 1587.2 534.6 1578.7 522.4 1570.6 508.1 1562.3 493 1554.6 478.5 1547.7 466.5 1542.7 455 1538.2 444.2 1534.3 436.2 1531.4 428.8 1528.9 420.6 1526.2 407.9 1522.1 394 1517.9 379.9 1514.1 365.2 1511.2 350.4 1508.8 337 1506.6 328.8 1505.1 321.4 1503.8 313.8 1502.3 305.2 1500.4 296.5 1498.4 288.1 1496.6 281.5 1495.4 275.2 1494.4 268.8 1493.4 262.4 1492.5 256 1491.6 249.5 1491 243.1 1490.5 236.7 1490.3 230.2 1490.5 223.8 1491.2 217.4 1492.3 210.9 1493.4"/>
<path d="M295.9 1396.7L292.2 1394.7 288.5 1392.7 284.9 1392.1 281 1393.9 277.3 1397.6 273.9 1402.1 269.4 1410.7 265.6 1421.3 261.6 1433.2 255.6 1452.3 249.4 1473.8 243.2 1495.2 237.1 1515.4 231 1535.5 226.1 1553.3 223.7 1563.6 221.9 1572.8 220.3 1582.1 218.6 1591.6 217.1 1601.2 215.8 1610.5 214.8 1618.9 214.1 1627.1 213.5 1635 213.2 1642.1 213 1648.9 213.1 1655.7 213.5 1662.6 214.2 1669.5 215.1 1676.4 216.3 1682.9 217.7 1689.4 219.4 1695.8 221.3 1701.9 223.4 1707.9 226 1713.8 229.1 1720 232.7 1726 236.6 1731.9 241 1737.9 245.8 1743.6 250.9 1749.2 256.1 1754.7 261.6 1760 268.2 1765.5 282.1 1775 298.7 1785 315.2 1793.4 329.1 1799 342.9 1803.4 357.1 1806.9 372.4 1809.7 388.1 1811.6 404 1812.8 421 1813.4 438.2 1813.2 455.1 1812 471.1 1809.8 486.8 1806.6 502.1 1802.5 516.2 1797.5 529.9 1791.7 542.9 1784.9 555 1777.5 566.5 1769.1 576.6 1759.8 585 1749.8 592.1 1738.8 597.6 1727.3 601.5 1715.3 603.8 1702.8 604.8 1691.1 604.4 1682.6 603 1674.6 601.1 1666.6 598.6 1657.9 595.4 1649.2 591.5 1640.7 586.5 1632.1 580.8 1623.8 574.2 1615.7 565.6 1606.6 556 1597.7 546 1589.3 535.5 1581.4 524.6 1574 513.3 1567.1 500.9 1560.4 488.1 1554.2 475.5 1548.5 464.5 1543.8 453.6 1539.5 442.8 1535.5 432.7 1531.9 422.7 1528.4 412.2 1525.2 399.7 1521.9 386.6 1518.9 373.4 1516.2 359.4 1513.7 345.3 1511.6 332.6 1509.7 324.8 1508.5 317.7 1507.3 310.5 1506.1 302.4 1504.5 294.2 1502.8 286 1501.4 277.9 1500.4 269.7 1499.6 261.5 1499.1 253.3 1499.2 245.2 1499.7 237 1500.1 228.8 1500.6 220.7 1501 212.5 1501.4"/>
<path d="M297.8 1399.2L294.4 1397.5 290.9 1395.8 287.6 1395.3 284.1 1396.9 280.7 1399.9 277.5 1403.9 273.3 1411.6 269.7 1421.4 266.1 1432.2 260.6 1449 255 1467.8 249.6 1487.2 243.5 1510.1 237.6 1533.8 232.5 1554 229.9 1563.7 227.7 1572 225.9 1580.6 224.3 1590.9 223.1 1601.6 222.1 1612 221.3 1620.9 220.7 1629.5 220.4 1638.2 220.6 1647.8 221.3 1657.6 222.1 1667 223.1 1675.2 224.2 1683.2 225.7 1690.6 227.5 1696.6 229.6 1702.2 232 1707.6 234.6 1712.5 237.4 1717.1 240.8 1722 246.7 1729.6 253.6 1737.6 261.7 1745.6 273.8 1756.1 287.7 1766.6 302.1 1775.7 315.8 1782.7 329.8 1788.4 344.2 1793.3 358.7 1797.3 373.6 1800.4 388.6 1802.7 404.3 1804.2 420.3 1804.9 436.2 1804.6 452.1 1803.3 468.1 1801.1 483.8 1798 499.3 1794 514.7 1789.1 529.2 1783.1 542.3 1776.4 554.6 1768.7 565.8 1760 575.3 1750.8 583.7 1740.8 590.5 1729.9 595.6 1717.9 599.1 1705.1 601.1 1693.2 601.6 1685 601.2 1677.4 600.1 1669.6 598.1 1660.9 595.2 1652 591.6 1643.4 587.1 1634.9 581.7 1626.6 575.7 1618.6 568.7 1610 561 1601.7 552.5 1593.7 542.1 1585 530.7 1576.7 518.6 1568.8 504.6 1560.7 489.7 1553.2 475.3 1546.5 463.5 1541.6 452.2 1537.3 441.5 1533.4 433.6 1530.6 426.3 1528.1 418.2 1525.6 405.7 1521.6 391.9 1517.4 378 1513.8 363.6 1510.9 348.9 1508.6 335.7 1506.4 327.6 1505 320.3 1503.7 312.9 1502.2 304.4 1500.4 295.8 1498.5 287.5 1496.7 281 1495.5 274.7 1494.5 268.5 1493.6 262.1 1492.7 255.8 1491.9 249.5 1491.2 243.1 1490.8 236.8 1490.6 230.4 1490.7 224.1 1491.4 217.7 1492.5 211.4 1493.6"/>
<path d="M297.7 1397.4L294.3 1395.6 290.9 1393.8 287.6 1393.3 284 1395 280.6 1398.1 277.4 1402.2 273.3 1410 269.7 1419.9 266 1431 260.5 1448 254.8 1467.2 249.6 1487 244.2 1510.3 239.3 1534.4 235.3 1555 233.3 1564.8 231.8 1573.3 230.4 1582 229.2 1592.6 228.1 1603.5 227.2 1614.1 226.4 1623.1 225.7 1631.8 225.4 1640.7 225.7 1650.5 226.3 1660.5 227.2 1670.1 228.1 1678.4 229.3 1686.5 230.8 1694.1 232.6 1700.2 234.6 1705.9 237 1711.4 239.4 1716.4 242.2 1721.1 245.4 1726.1 250.7 1733.7 256.9 1741.9 264.2 1750.1 275.5 1760.8 288.6 1771.5 302.3 1780.8 315.7 1787.9 329.8 1793.8 344.1 1798.7 358.6 1802.8 373.4 1806 388.5 1808.3 404.1 1809.8 420.1 1810.5 436 1810.1 451.9 1808.9 467.8 1806.7 483.5 1803.5 499.1 1799.4 514.4 1794.4 528.9 1788.3 542 1781.4 554.3 1773.6 565.5 1764.8 575 1755.4 583.4 1745.2 590.2 1734.1 595.2 1721.9 598.7 1708.9 600.8 1696.8 601.3 1688.4 600.8 1680.6 599.7 1672.7 597.7 1663.8 594.9 1654.8 591.3 1646.1 586.7 1637.4 581.4 1629 575.4 1620.7 568.4 1612 560.7 1603.6 552.2 1595.4 541.8 1586.6 530.4 1578.1 518.4 1570 504.3 1561.8 489.4 1554.2 475.1 1547.4 463.3 1542.3 452 1538 441.3 1534 433.5 1531.2 426.1 1528.7 418 1526 405.5 1522 391.8 1517.7 377.9 1514 363.4 1511.1 348.8 1508.7 335.6 1506.5 327.6 1505.1 320.3 1503.7 312.8 1502.3 304.3 1500.4 295.7 1498.4 287.5 1496.7 280.9 1495.5 274.7 1494.4 268.5 1493.5 262.1 1492.5 255.8 1491.7 249.4 1491.1 243.1 1490.6 236.8 1490.4 230.4 1490.5 224.1 1491.2 217.8 1492.4 211.4 1493.5"/>
<path d="M297.4 1397.6L294 1395.9 290.6 1394.1 287.3 1393.6 283.8 1395.2 280.4 1398.4 277.2 1402.4 273.1 1410.3 269.5 1420.1 265.9 1431.2 260.1 1448.1 254.3 1467.2 249.5 1487 246 1510.2 243.7 1534.2 242.4 1554.9 242.1 1564.7 242.3 1573.1 242.3 1581.8 241.8 1592.4 241.2 1603.2 240.5 1613.7 239.8 1622.7 239.1 1631.5 238.8 1640.3 239 1650.1 239.6 1660 240.5 1669.6 241.5 1677.9 242.7 1686 244.2 1693.6 245.9 1699.6 247.9 1705.3 250.1 1710.8 252.3 1715.7 254.7 1720.4 257.4 1725.5 261.3 1733 265.6 1741.2 271.1 1749.4 280.1 1760.1 290.8 1770.8 302.6 1780 315.4 1787.2 329.3 1793 343.5 1797.8 357.8 1801.9 372.6 1805.1 387.5 1807.4 403.1 1809 418.9 1809.6 434.7 1809.3 450.6 1808 466.4 1805.8 481.9 1802.6 497.4 1798.6 512.6 1793.6 527.1 1787.5 540 1780.6 552.3 1772.8 563.4 1764.1 572.8 1754.7 581.1 1744.5 587.9 1733.5 592.9 1721.3 596.4 1708.3 598.4 1696.2 598.9 1687.9 598.5 1680.1 597.4 1672.3 595.4 1663.4 592.5 1654.4 589 1645.7 584.5 1637 579.2 1628.6 573.2 1620.4 566.3 1611.7 558.6 1603.3 550.1 1595.1 539.8 1586.3 528.5 1577.9 516.6 1569.8 502.6 1561.7 487.8 1554 473.5 1547.2 461.9 1542.2 450.6 1537.9 440 1533.9 432.2 1531.1 424.9 1528.6 416.9 1525.9 404.5 1521.9 390.8 1517.7 377 1514 362.7 1511.1 348.1 1508.7 335 1506.5 327 1505.1 319.7 1503.7 312.4 1502.3 303.9 1500.4 295.4 1498.4 287.2 1496.7 280.7 1495.5 274.5 1494.4 268.3 1493.5 262 1492.6 255.7 1491.7 249.4 1491.1 243.1 1490.6 236.8 1490.4 230.5 1490.6 224.2 1491.3 217.9 1492.4 211.6 1493.5"/>
<path d="M294.7 1400.9L291.1 1398.9 287.5 1397 284 1396.4 280.2 1398.2 276.6 1401.7 273.2 1406.1 268.9 1414.3 265.1 1424.5 261.2 1435.9 255.4 1454.2 249.3 1474.9 243.2 1495.4 236.9 1514.8 230.5 1534.1 225.2 1551.2 222.6 1561.1 220.5 1569.9 218.6 1578.8 216.8 1587.9 215.2 1597.1 213.9 1606.1 212.9 1614.1 212.2 1622 211.7 1629.6 211.4 1636.4 211.2 1642.9 211.3 1649.5 211.7 1656.1 212.4 1662.8 213.3 1669.3 214.4 1675.6 215.8 1681.8 217.5 1687.9 219.3 1693.8 221.4 1699.6 223.9 1705.3 227 1711.2 230.5 1717 234.4 1722.6 238.9 1728.3 243.8 1733.9 248.9 1739.3 254.3 1744.5 259.9 1749.6 266.7 1754.9 280.6 1764 297.1 1773.6 313.6 1781.7 327.2 1787 340.7 1791.2 354.5 1794.6 369.5 1797.3 384.9 1799.1 400.5 1800.3 417 1800.9 433.8 1800.7 450.4 1799.5 466 1797.4 481.4 1794.3 496.3 1790.4 510.1 1785.6 523.5 1780 536.2 1773.5 548 1766.4 559.3 1758.4 569.2 1749.4 577.3 1739.8 584.3 1729.2 589.7 1718.2 593.5 1706.7 595.8 1694.7 596.7 1683.5 596.3 1675.3 595 1667.6 593.1 1659.9 590.6 1651.5 587.6 1643.2 583.7 1635.1 578.9 1626.9 573.2 1618.9 566.8 1611 558.4 1602.3 549 1593.8 539.2 1585.7 529 1578.2 518.3 1571.1 507.3 1564.4 495.2 1558 482.6 1552 470.3 1546.5 459.5 1542.1 448.9 1538 438.4 1534.1 428.5 1530.6 418.7 1527.3 408.4 1524.2 396.2 1521.1 383.4 1518.2 370.5 1515.5 356.8 1513.2 343 1511.2 330.6 1509.3 322.9 1508.1 316 1507 309 1505.9 301.1 1504.4 293.1 1502.8 285.1 1501.4 277.1 1500.4 269.1 1499.6 261.1 1499.2 253.1 1499.3 245.1 1499.7 237.1 1500.2 229.2 1500.6 221.2 1501 213.2 1501.4"/>
<path d="M296.9 1400.3L293.5 1398.6 290.2 1396.9 286.9 1396.4 283.4 1398 280 1401 276.9 1405 272.8 1412.6 269.3 1422.2 265.7 1432.9 260.3 1449.5 254.8 1468.1 249.5 1487.4 243.8 1510 238.5 1533.4 234 1553.5 231.8 1563 229.9 1571.2 228.3 1579.7 227 1590 225.9 1600.6 225.1 1610.8 224.3 1619.6 223.7 1628.1 223.4 1636.7 223.6 1646.3 224.2 1655.9 225.1 1665.3 226 1673.4 227.1 1681.2 228.6 1688.6 230.4 1694.5 232.4 1700.1 234.7 1705.4 237.2 1710.2 239.9 1714.8 243.2 1719.7 248.7 1727.1 255.3 1735.1 262.9 1743 274.4 1753.4 287.6 1763.8 301.3 1772.8 314.6 1779.7 328.5 1785.4 342.5 1790.2 356.8 1794.2 371.4 1797.3 386.2 1799.5 401.7 1801 417.3 1801.6 433 1801.3 448.7 1800.1 464.4 1797.9 479.8 1794.9 495.1 1790.9 510.2 1786 524.5 1780.1 537.4 1773.4 549.5 1765.8 560.5 1757.3 569.8 1748.2 578.1 1738.2 584.8 1727.5 589.8 1715.6 593.3 1703 595.2 1691.2 595.7 1683.1 595.3 1675.5 594.2 1667.9 592.2 1659.2 589.4 1650.4 585.9 1641.9 581.4 1633.5 576.2 1625.3 570.3 1617.3 563.4 1608.9 555.8 1600.6 547.4 1592.7 537.2 1584.1 526 1575.9 514.1 1568.1 500.3 1560.1 485.6 1552.6 471.5 1546 459.9 1541.1 448.7 1536.9 438.2 1533.1 430.5 1530.3 423.3 1527.9 415.3 1525.3 403 1521.4 389.5 1517.2 375.8 1513.6 361.6 1510.8 347.2 1508.5 334.2 1506.4 326.3 1504.9 319.1 1503.6 311.8 1502.2 303.4 1500.4 294.9 1498.5 286.8 1496.8 280.4 1495.6 274.2 1494.6 268.1 1493.7 261.8 1492.8 255.6 1491.9 249.4 1491.3 243.1 1490.9 236.9 1490.7 230.6 1490.8 224.4 1491.5 218.2 1492.6 211.9 1493.7"/>
<path d="M296.3 1400.8L293 1399.1 289.6 1397.4 286.4 1396.9 283 1398.5 279.6 1401.5 276.5 1405.5 272.5 1413 269 1422.6 265.4 1433.3 260.2 1449.8 254.8 1468.3 249.4 1487.4 243 1510 236.5 1533.3 230.9 1553.2 227.9 1562.7 225.4 1570.8 223.2 1579.3 221.4 1589.5 220.1 1600 219.1 1610.2 218.2 1619 217.7 1627.4 217.4 1636 217.6 1645.5 218.2 1655.1 219.1 1664.4 219.9 1672.5 221 1680.3 222.6 1687.6 224.3 1693.5 226.3 1699 228.7 1704.4 231.2 1709.1 234.1 1713.7 237.6 1718.5 243.6 1725.9 250.8 1733.8 259.2 1741.7 271.6 1752 285.8 1762.4 300.3 1771.4 313.8 1778.2 327.5 1783.9 341.4 1788.7 355.6 1792.6 370 1795.7 384.6 1797.9 399.9 1799.4 415.4 1800 430.9 1799.8 446.4 1798.5 461.9 1796.4 477.2 1793.3 492.4 1789.4 507.3 1784.5 521.4 1778.6 534.1 1772 546.2 1764.4 557 1755.9 566.3 1746.9 574.4 1736.9 581.1 1726.3 586 1714.5 589.4 1701.9 591.4 1690.2 591.9 1682.1 591.4 1674.6 590.3 1667 588.4 1658.4 585.6 1649.7 582.1 1641.2 577.7 1632.8 572.5 1624.7 566.7 1616.7 559.9 1608.3 552.3 1600.1 544.1 1592.2 533.9 1583.7 522.9 1575.5 511.1 1567.7 497.4 1559.8 483 1552.4 469 1545.8 457.5 1540.9 446.5 1536.7 436.1 1532.9 428.5 1530.2 421.3 1527.7 413.4 1525.2 401.3 1521.3 387.9 1517.2 374.4 1513.6 360.3 1510.7 346.1 1508.4 333.2 1506.3 325.3 1504.9 318.2 1503.6 311 1502.2 302.7 1500.4 294.3 1498.5 286.3 1496.8 280 1495.6 273.9 1494.6 267.8 1493.7 261.6 1492.8 255.5 1492 249.3 1491.4 243.1 1491 236.9 1490.7 230.8 1490.9 224.6 1491.6 218.4 1492.6 212.3 1493.7"/>
<path d="M295.8 1402.8L292.5 1401.2 289.3 1399.5 286.1 1399 282.6 1400.6 279.3 1403.5 276.3 1407.4 272.3 1414.8 268.8 1424.2 265.3 1434.7 260 1450.8 254.6 1469 249.3 1487.7 243.5 1509.8 237.8 1532.6 232.9 1552.1 230.4 1561.4 228.3 1569.4 226.5 1577.7 225 1587.7 223.9 1598 223 1608 222.3 1616.6 221.7 1624.9 221.4 1633.3 221.6 1642.6 222.2 1652 223 1661.1 223.9 1669 225 1676.6 226.5 1683.8 228.2 1689.6 230.2 1695 232.6 1700.2 235 1704.9 237.7 1709.4 241 1714.1 246.7 1721.4 253.4 1729.1 261.2 1736.9 272.9 1746.9 286.3 1757.1 300.1 1765.9 313.3 1772.6 326.8 1778.2 340.6 1782.8 354.6 1786.7 368.9 1789.7 383.4 1791.9 398.6 1793.4 414 1794 429.3 1793.7 444.7 1792.5 460.1 1790.4 475.2 1787.4 490.2 1783.5 505 1778.8 519.1 1773 531.7 1766.5 543.6 1759.1 554.3 1750.8 563.5 1741.9 571.6 1732.2 578.2 1721.7 583.1 1710.1 586.4 1697.8 588.4 1686.3 588.9 1678.5 588.5 1671.1 587.4 1663.6 585.4 1655.2 582.7 1646.6 579.2 1638.3 574.8 1630.1 569.7 1622.1 563.9 1614.3 557.2 1606.1 549.7 1598.1 541.5 1590.3 531.4 1582 520.5 1573.9 508.9 1566.3 495.3 1558.6 480.9 1551.3 467.1 1544.9 455.7 1540.1 444.7 1536 434.4 1532.2 426.9 1529.6 419.8 1527.2 412 1524.7 399.9 1520.8 386.7 1516.8 373.2 1513.3 359.3 1510.5 345.2 1508.3 332.5 1506.2 324.7 1504.8 317.6 1503.6 310.4 1502.2 302.2 1500.4 293.9 1498.5 286 1496.9 279.7 1495.7 273.6 1494.7 267.6 1493.8 261.5 1493 255.4 1492.2 249.2 1491.6 243.1 1491.1 237 1490.9 230.9 1491.1 224.8 1491.7 218.7 1492.8 212.5 1493.8"/>
<path d="M293.2 1405.1L289.7 1403.3 286.2 1401.4 282.8 1400.9 279.1 1402.6 275.6 1405.9 272.3 1410.1 268.1 1417.9 264.4 1427.7 260.7 1438.6 254.4 1456.1 248 1475.9 243.3 1495.6 240.9 1514.2 240.1 1532.6 240.4 1549 241.4 1558.5 243 1567 244.3 1575.5 245 1584.2 245.4 1593 245.4 1601.6 244.7 1609.3 243.8 1616.8 243 1624.1 242.6 1630.6 242.4 1636.9 242.5 1643.1 243 1649.5 243.7 1655.9 244.7 1662.1 245.9 1668.2 247.4 1674.1 249.1 1679.9 250.8 1685.6 252.8 1691.1 254.9 1696.6 257.4 1702.1 260.1 1707.7 262.8 1713.2 265.5 1718.5 268.2 1723.9 270.9 1729.1 273.3 1734.1 275.8 1739 279.4 1744.1 288.3 1752.9 300 1762 312.4 1769.7 324.7 1775 337.8 1778.9 351.2 1782.1 365.7 1784.7 380.6 1786.4 395.7 1787.5 411.8 1788.1 428.1 1787.9 444.1 1786.8 459.3 1784.8 474.2 1781.8 488.7 1778 502.1 1773.5 515.1 1768.1 527.4 1761.9 538.9 1755 549.7 1747.4 559.4 1738.8 567.3 1729.6 574 1719.5 579.3 1708.9 582.9 1697.9 585.2 1686.4 586.1 1675.7 585.7 1667.8 584.4 1660.5 582.6 1653.1 580.2 1645.1 577.2 1637.1 573.5 1629.4 568.8 1621.5 563.3 1613.8 557 1606.3 548.9 1598 539.8 1589.8 530.3 1582.1 520.4 1574.8 510.1 1568.1 499.3 1561.7 487.6 1555.5 475.4 1549.8 463.5 1544.6 453 1540.3 442.7 1536.4 432.5 1532.7 422.9 1529.3 413.4 1526.2 403.5 1523.2 391.6 1520.2 379.2 1517.4 366.7 1514.9 353.4 1512.7 340 1510.7 328 1509 320.6 1507.8 313.9 1506.8 307.1 1505.6 299.4 1504.2 291.6 1502.7 283.8 1501.4 276.1 1500.4 268.3 1499.6 260.6 1499.2 252.8 1499.3 245.1 1499.7 237.3 1500.2 229.6 1500.6 221.9 1501 214.1 1501.4"/>
<path d="M280.7 1412.8L282.7 1414.5 284.6 1416.2 286.1 1418.2 286.8 1421.2 287 1424.8 286.7 1428.2 286.3 1431 285.6 1433.7 284.7 1436.5 283.6 1440.2 282.2 1444.1 280.7 1448.1 278.6 1453 276.3 1458 274 1463.1 271.7 1468.6 269.5 1474.1 267.3 1479.8 265 1485.8 262.8 1491.8 260.6 1498.1 258.5 1505.2 256.5 1512.4 254.6 1519.8 253 1527.1 251.4 1534.4 250.1 1541.4 249 1546.6 248 1551.5 247.2 1557.2 246.5 1568.4 246.2 1581.2 245.9 1593.6 245.4 1603.9 244.9 1613.9 244.9 1624.2 245.3 1636.1 246.1 1648.3 247.9 1660.3 250.6 1671.6 254.1 1682.8 258.4 1693.6 263.2 1703.7 268.7 1713.4 275.3 1722.7 284.3 1732.7 294.7 1742.3 305.8 1750.4 317.1 1756.6 329 1761.4 340.9 1765.7 352 1769.5 363 1772.8 374.4 1775.4 387.8 1777.4 401.8 1778.6 415.8 1779 429.6 1778.7 443.4 1777.5 457.1 1775.4 470.8 1772.4 484.3 1768.6 497.3 1763.8 509.1 1758.4 520.4 1752.1 530.8 1744.9 540 1737 548.4 1728.1 555.4 1718.5 560.8 1707.7 565 1696.1 567.7 1685.2 568.7 1678.1 568.8 1671.4 568.3 1664.4 567 1655.8 564.9 1646.8 562.1 1638 558.6 1629.5 554.5 1621.2 549.8 1613.1 544.2 1604.5 537.9 1596.1 530.8 1588.1 521.8 1579.8 511.9 1571.9 501.8 1564.5 492.2 1558 482.5 1552 472.7 1546.5 463 1541.5 453.2 1536.9 443.7 1532.6 435.3 1528.9 427.1 1525.6 419.1 1522.3 411.6 1519.4 404.1 1516.6 397.3 1513.9 392.6 1511.9 388.3 1510 383.9 1508.1 379.5 1506.2 375 1504.2 370.5 1502.3 366.1 1500.3 361.6 1498.4 357.1 1496.4 352.7 1494.5 348.2 1492.5 343.7 1490.6 339.3 1488.9 334.8 1487.2 330.3 1485.6 325.9 1484.1 321.4 1482.6 316.9 1481.1 312.4 1479.8 308 1478.5 303.5 1477.3 299 1476.1 294.6 1475 290.1 1474 285.6 1472.9 281.2 1472 276.7 1471.1 272.2 1470.4 267.8 1469.9 263.3 1469.5 258.8 1469.1 254.4 1468.9 249.9 1469 245.2 1469.3 240.5 1470.1 236.5 1471.5 233.8 1473.3 231.7 1475.7 230.5 1478.1 230.5 1480.3 231.3 1482.6 232.5 1484.8 234.3 1487.1 236.7 1489.3 239.2 1491.4 241.7 1493.5 244.4 1495.5 247.2 1497.3 250.2 1498.9 253.3 1500.3 256.6 1501.4 260.7 1502.3 265.2 1502.8 270 1503.1 276.4 1503.3 283.2 1503.2 290.1 1503.1"/>
<path d="M279.4 1413.9L281.3 1415.5 283.1 1417.1 284.5 1419.1 285.3 1422.2 285.4 1425.6 285.2 1429 284.8 1431.8 284.1 1434.4 283.3 1437.2 282.1 1440.9 280.9 1444.8 279.4 1448.8 277.4 1453.5 275.1 1458.5 272.9 1463.6 270.7 1468.9 268.6 1474.4 266.5 1480 264.2 1485.9 262.1 1491.9 260 1498.1 257.9 1505.1 256 1512.3 254.3 1519.5 252.7 1526.8 251.2 1534 249.9 1540.9 248.9 1546.1 248 1551 247.2 1556.6 246.6 1567.6 246.3 1580.2 246.1 1592.6 245.7 1602.7 245.2 1612.6 245.1 1622.7 245.5 1634.5 246.3 1646.6 248 1658.4 250.6 1669.7 254 1680.7 258.2 1691.3 262.8 1701.3 268 1710.9 274.4 1720.1 283.1 1730 293 1739.5 303.6 1747.6 314.5 1753.6 326 1758.4 337.4 1762.6 348 1766.4 358.6 1769.7 369.7 1772.2 382.6 1774.2 396.1 1775.4 409.5 1775.8 422.9 1775.4 436.2 1774.3 449.4 1772.2 462.6 1769.3 475.6 1765.5 488.1 1760.7 499.5 1755.4 510.4 1749.2 520.4 1742.1 529.3 1734.2 537.4 1725.5 544.1 1716 549.4 1705.3 553.4 1693.8 556 1683.1 556.9 1676 557.1 1669.4 556.6 1662.5 555.3 1654 553.3 1645.1 550.6 1636.5 547.2 1628.1 543.3 1619.8 538.7 1611.8 533.3 1603.3 527.3 1595 520.4 1587.1 511.8 1578.9 502.2 1571 492.4 1563.8 483.2 1557.4 473.9 1551.4 464.4 1545.9 455.1 1541 445.7 1536.5 436.5 1532.2 428.4 1528.6 420.5 1525.3 412.8 1522.1 405.5 1519.2 398.3 1516.4 391.8 1513.8 387.2 1511.8 383 1509.9 378.9 1508 374.5 1506.1 370.2 1504.2 365.9 1502.2 361.6 1500.3 357.3 1498.4 353 1496.5 348.7 1494.5 344.4 1492.6 340.1 1490.7 335.8 1489 331.5 1487.4 327.2 1485.8 322.9 1484.2 318.6 1482.8 314.3 1481.3 310 1480 305.7 1478.8 301.3 1477.6 297 1476.4 292.7 1475.3 288.4 1474.3 284.1 1473.3 279.8 1472.3 275.5 1471.5 271.2 1470.8 266.9 1470.2 262.6 1469.8 258.3 1469.5 254 1469.2 249.7 1469.3 245.1 1469.7 240.6 1470.4 236.7 1471.8 234.2 1473.7 232.1 1476 230.9 1478.4 231 1480.6 231.7 1482.8 232.9 1485 234.6 1487.3 236.9 1489.5 239.3 1491.5 241.8 1493.6 244.4 1495.6 247.1 1497.3 249.9 1498.9 252.9 1500.3 256.1 1501.4 260.1 1502.3 264.4 1502.8 269 1503.1 275.2 1503.2 281.8 1503.2 288.4 1503.1"/>
<path d="M277.6 1420.3L279.4 1421.8 281.2 1423.4 282.5 1425.2 283.2 1428 283.3 1431.2 283.1 1434.3 282.7 1436.9 282.1 1439.4 281.3 1441.9 280.2 1445.3 279 1448.9 277.6 1452.6 275.7 1457 273.6 1461.6 271.5 1466.3 269.4 1471.3 267.4 1476.4 265.3 1481.6 263.2 1487 261.2 1492.6 259.2 1498.3 257.2 1504.8 255.4 1511.4 253.7 1518.1 252.3 1524.8 251 1531.5 249.8 1537.9 248.9 1542.7 248 1547.2 247.4 1552.4 246.9 1562.6 246.8 1574.3 246.8 1585.7 246.6 1595.1 246.4 1604.3 246.6 1613.6 247 1624.5 247.7 1635.7 249.2 1646.6 251.7 1657.1 254.8 1667.3 258.7 1677.1 263 1686.4 267.9 1695.3 273.8 1703.8 281.8 1713 291.1 1721.7 301 1729.2 311.2 1734.8 322 1739.2 332.9 1743.1 342.9 1746.6 353 1749.6 363.5 1752 375.8 1753.9 388.5 1754.9 401.3 1755.3 414 1755 426.7 1753.9 439.2 1752 451.8 1749.3 464.2 1745.7 476 1741.3 486.9 1736.4 497.2 1730.7 506.7 1724.1 515.2 1716.8 522.8 1708.8 529.3 1700 534.3 1690.1 538.1 1679.4 540.5 1669.5 541.4 1662.9 541.6 1656.8 541.1 1650.5 539.9 1642.5 538 1634.4 535.4 1626.3 532.2 1618.6 528.5 1610.9 524.1 1603.5 519 1595.7 513.2 1588 506.7 1580.6 498.5 1573 489.4 1565.8 480.1 1559.1 471.4 1553.1 462.5 1547.6 453.5 1542.6 444.6 1538 435.7 1533.8 426.9 1529.9 419.3 1526.5 411.8 1523.4 404.4 1520.5 397.5 1517.8 390.7 1515.2 384.5 1512.8 380.1 1511 376.2 1509.2 372.2 1507.5 368.1 1505.7 364 1503.9 359.9 1502.1 355.8 1500.3 351.7 1498.6 347.6 1496.8 343.5 1495 339.4 1493.2 335.3 1491.5 331.3 1489.9 327.2 1488.4 323.1 1486.9 319 1485.5 314.9 1484.1 310.8 1482.8 306.7 1481.5 302.6 1480.4 298.5 1479.3 294.4 1478.2 290.3 1477.2 286.2 1476.2 282.1 1475.3 278 1474.4 273.9 1473.6 269.8 1473 265.7 1472.5 261.6 1472.1 257.6 1471.8 253.5 1471.6 249.4 1471.7 245 1472 240.7 1472.6 237.1 1473.9 234.7 1475.7 232.7 1477.8 231.6 1480 231.6 1482 232.3 1484.1 233.4 1486.1 235.1 1488.3 237.3 1490.3 239.5 1492.2 241.9 1494.1 244.3 1495.9 246.9 1497.6 249.6 1499 252.5 1500.3 255.5 1501.4 259.3 1502.1 263.4 1502.6 267.8 1502.9 273.6 1503 279.9 1503 286.2 1502.9"/>
<path d="M319.3 1410.8L316 1411.3 312.7 1411.8 309.4 1412.6 306 1414 302.7 1415.8 299.5 1418 296.5 1420.6 293.7 1423.7 291.1 1427 288.7 1430.6 286.5 1434.5 284.7 1438.6 283.3 1443.2 282.2 1447.9 281.2 1453 280 1459.8 278.8 1467.1 277.7 1474.6 276.5 1482.8 275.4 1491.3 274.2 1499.7 272.8 1508.1 271.4 1516.5 270 1524.9 268.8 1532.9 267.6 1540.9 266.7 1548.2 266.1 1552.9 265.7 1557.2 265.4 1561.7 265.2 1567 265.2 1572.6 265.4 1578.5 265.9 1586.1 266.7 1594.2 267.8 1602.5 269.3 1611.4 271.2 1620.5 273.5 1629.4 276.2 1638 279.2 1646.5 282.8 1654.8 286.8 1663.1 291.3 1671.1 296.7 1678.8 304.3 1686.9 313.1 1694.6 322.5 1701.2 332.1 1706.7 342.3 1711.1 353 1714.7 365.2 1717.7 378 1719.7 390.6 1720.7 401.8 1720.6 412.8 1719.7 423.5 1717.7 433.2 1714.9 442.6 1711.1 451.6 1706.6 460.5 1701.3 468.9 1695.2 476.3 1688.4 482.5 1680.7 487.8 1672.3 492 1663.8 494.9 1656.3 496.9 1648.8 498.2 1641.4 498.7 1634.9 498.7 1628.5 498.2 1621.9 497 1614 495.1 1605.9 492.7 1598 489.8 1590.3 486.4 1582.8 482.2 1575.5 476.6 1567.8 470.2 1560.3 463.4 1553.1 455.9 1545.3 448 1537.8 439.9 1532.1 433.2 1530 426.4 1529.1 419.3 1527.5 410 1523.7 400.3 1518.9 391.2 1514.1 383.7 1509.9 376.6 1505.6 370 1501.5 365.1 1498.4 360.5 1495.5 355.9 1492.5 351.2 1489.3 346.5 1486 341.8 1482.6 337.1 1479.3 332.4 1476 327.7 1472.8 323 1469.7 318.3 1466.8 313.6 1463.8 308.9 1460.8 304.2 1457.8 299.5 1454.8 294.8 1451.8 290.1 1448.8 285.4 1445.8"/>
<path d="M313.6 1418.4L310.5 1418.9 307.5 1419.3 304.5 1420.1 301.3 1421.4 298.2 1423 295.3 1425 292.5 1427.4 289.9 1430.2 287.5 1433.2 285.3 1436.5 283.3 1440.1 281.7 1443.9 280.3 1448 279.3 1452.4 278.4 1457 277.2 1463.3 276.2 1469.9 275.1 1476.8 274 1484.3 273 1492 271.9 1499.8 270.7 1507.5 269.6 1515.2 268.5 1522.8 267.7 1530.2 267 1537.5 266.4 1544.2 266.1 1548.5 265.9 1552.4 265.8 1556.5 265.9 1561.4 266.1 1566.5 266.5 1571.9 267.3 1578.9 268.3 1586.3 269.4 1593.8 270.8 1602 272.3 1610.3 274.1 1618.5 276.3 1626.4 278.9 1634.1 281.8 1641.7 285.2 1649.3 289 1656.6 293.8 1663.7 300.5 1671.1 308.4 1678.1 316.8 1684.2 325.6 1689.2 335 1693.2 344.8 1696.5 356.1 1699.3 367.9 1701.1 379.5 1702 389.9 1701.9 400.1 1701.1 410 1699.3 419 1696.7 427.7 1693.3 436 1689.1 444.2 1684.3 451.9 1678.7 458.8 1672.4 464.6 1665.4 469.5 1657.7 473.4 1650 476 1643.1 477.9 1636.2 479 1629.4 479.6 1623.5 479.5 1617.6 479 1611.6 477.9 1604.4 476.3 1597 474 1589.7 471.4 1582.7 468.1 1575.8 464.3 1569.2 459.1 1562.1 453.2 1555.2 446.9 1548.6 440 1541.5 432.7 1534.6 425.2 1529.4 419 1527.5 412.7 1526.7 406.2 1525.3 397.5 1521.8 388.6 1517.4 380.1 1512.9 373.2 1509.1 366.6 1505.2 360.5 1501.4 356 1498.6 351.7 1496 347.5 1493.2 343.1 1490.2 338.8 1487.2 334.5 1484.2 330.1 1481.1 325.8 1478.1 321.4 1475.1 317.1 1472.3 312.7 1469.6 308.4 1466.9 304 1464.2 299.7 1461.4 295.3 1458.7 291 1456 286.7 1453.2 282.3 1450.5"/>
<path d="M306.6 1428.4L303.8 1428.8 301.1 1429.2 298.4 1429.8 295.5 1431 292.8 1432.4 290.2 1434.2 287.6 1436.3 285.3 1438.7 283.1 1441.4 281.1 1444.3 279.3 1447.5 277.8 1450.8 276.6 1454.4 275.8 1458.2 274.9 1462.3 273.9 1467.8 272.9 1473.6 272 1479.7 271 1486.3 270.1 1493.1 269 1499.9 267.9 1506.6 266.7 1513.4 265.5 1520.1 264.5 1526.6 263.4 1533 262.6 1538.9 262.1 1542.6 261.7 1546.1 261.4 1549.7 261.2 1554 261.2 1558.5 261.3 1563.2 261.7 1569.4 262.4 1575.9 263.3 1582.5 264.6 1589.7 266.2 1597 268.2 1604.2 270.4 1611.1 273 1617.9 276 1624.6 279.3 1631.3 283.1 1637.7 287.7 1643.9 294.1 1650.4 301.4 1656.6 309.2 1661.9 317.2 1666.3 325.7 1669.9 334.6 1672.8 344.8 1675.2 355.5 1676.8 365.9 1677.6 375.2 1677.5 384.4 1676.7 393.2 1675.2 401.4 1672.9 409.2 1669.9 416.7 1666.3 424 1662 431 1657.1 437.2 1651.6 442.4 1645.4 446.8 1638.7 450.3 1631.8 452.7 1625.8 454.3 1619.8 455.4 1613.8 455.9 1608.6 455.8 1603.4 455.4 1598.1 454.4 1591.8 452.9 1585.3 450.9 1578.9 448.5 1572.7 445.6 1566.7 442.1 1560.8 437.5 1554.6 432.1 1548.6 426.5 1542.8 420.3 1536.5 413.7 1530.5 406.9 1525.9 401.4 1524.2 395.7 1523.5 389.8 1522.3 382.1 1519.2 374 1515.3 366.4 1511.4 360.2 1508 354.3 1504.6 348.8 1501.3 344.7 1498.9 340.9 1496.5 337.1 1494.1 333.1 1491.5 329.2 1488.8 325.3 1486.2 321.4 1483.5 317.5 1480.8 313.6 1478.2 309.7 1475.8 305.8 1473.4 301.9 1471 298 1468.6 294.1 1466.2 290.2 1463.8 286.2 1461.4 282.3 1459 278.4 1456.5"/>
<path d="M256.9 1502.3L261.4 1504.6 266 1506.8 270.6 1509.2 275.5 1511.8 280.5 1514.5 285.6 1517.2 291.1 1520.3 296.6 1523.5 302.1 1526.3 306.7 1528.4 311.2 1530.2 315.8 1531.4 319.9 1532.2 324.1 1532.6 328.1 1532.3 331.9 1531.2 335.7 1529.4 339 1527.2 342.2 1524.3 345 1520.8 347.3 1516.9 349.3 1511.6 350.6 1505.7 351.4 1499.7 351.5 1494.1 351 1488.4 350 1482.6 348.2 1475.9 345.9 1469 343.1 1462 339.8 1454.2 336.1 1446.2 332.2 1438.1 327.9 1429 323.4 1419.7 318.5 1410.6 313.3 1401.4 307.8 1392.5 302.1 1385.8 298 1383.4 293.9 1382 289.7 1380.7"/>
<path d="M256.5 1502.3L260.9 1504.4 265.3 1506.6 269.7 1508.9 274.5 1511.4 279.4 1514 284.3 1516.7 289.6 1519.7 295 1522.7 300.3 1525.4 304.8 1527.4 309.2 1529.1 313.5 1530.4 317.6 1531.2 321.6 1531.5 325.5 1531.2 329.2 1530.2 332.8 1528.5 336.1 1526.3 339.2 1523.5 341.8 1520.1 344.1 1516.3 346 1511.2 347.3 1505.5 348.1 1499.8 348.2 1494.3 347.7 1488.8 346.7 1483.2 345 1476.7 342.7 1470.1 340.1 1463.4 336.9 1455.8 333.3 1448.1 329.5 1440.2 325.3 1431.4 320.9 1422.4 316.2 1413.7 311.2 1404.8 305.9 1396.2 300.3 1389.7 296.4 1387.4 292.3 1386.1 288.3 1384.7"/>
<path d="M256.3 1502.2L260.6 1504.4 265 1506.5 269.4 1508.7 274.1 1511.2 278.9 1513.7 283.7 1516.3 289 1519.2 294.3 1522.2 299.4 1524.9 303.9 1526.8 308.2 1528.5 312.5 1529.7 316.5 1530.5 320.5 1530.8 324.3 1530.6 328 1529.5 331.5 1527.8 334.8 1525.7 337.8 1523 340.4 1519.7 342.6 1516 344.5 1511 345.8 1505.4 346.5 1499.8 346.6 1494.4 346.2 1489.1 345.2 1483.6 343.5 1477.3 341.3 1470.8 338.7 1464.2 335.5 1456.8 331.9 1449.2 328.2 1441.5 324.1 1432.9 319.8 1424.1 315.1 1415.6 310.2 1406.9 304.9 1398.4 299.4 1392.1 295.6 1389.9 291.6 1388.6 287.7 1387.3"/>
<path d="M256.2 1502.2L260.5 1504.3 264.8 1506.4 269.2 1508.6 273.9 1511 278.7 1513.5 283.5 1516.1 288.7 1519 294 1521.9 299.1 1524.5 303.5 1526.5 307.8 1528.1 312.1 1529.3 316.1 1530 320 1530.4 323.8 1530.1 327.5 1529.1 331 1527.4 334.2 1525.3 337.2 1522.6 339.9 1519.4 342 1515.8 343.9 1510.8 345.2 1505.3 345.9 1499.8 346 1494.5 345.6 1489.3 344.6 1483.9 343 1477.6 340.7 1471.2 338.1 1464.7 335 1457.4 331.4 1450 327.7 1442.4 323.6 1433.9 319.3 1425.3 314.7 1416.9 309.8 1408.3 304.6 1399.9 299.1 1393.7 295.3 1391.5 291.4 1390.2 287.4 1388.9"/>
<path d="M255.9 1502.2L260.1 1504.3 264.3 1506.3 268.6 1508.5 273.2 1510.9 277.8 1513.4 282.5 1515.9 287.6 1518.8 292.7 1521.7 297.8 1524.3 302.1 1526.2 306.3 1527.9 310.5 1529.1 314.3 1529.8 318.2 1530.1 321.9 1529.8 325.4 1528.8 328.9 1527.2 332 1525.1 334.9 1522.4 337.5 1519.2 339.6 1515.6 341.5 1510.7 342.8 1505.3 343.4 1499.8 343.5 1494.6 343.1 1489.4 342.2 1484 340.5 1477.8 338.3 1471.5 335.8 1465 332.7 1457.8 329.3 1450.4 325.7 1442.9 321.7 1434.5 317.5 1425.9 313 1417.6 308.2 1409.1 303.1 1400.9 297.8 1394.7 294 1392.5 290.2 1391.2 286.3 1390"/>
<path d="M255.6 1502.2L259.7 1504.2 263.8 1506.3 267.9 1508.4 272.4 1510.8 276.9 1513.3 281.5 1515.8 286.4 1518.6 291.4 1521.5 296.3 1524.1 300.5 1526 304.6 1527.6 308.6 1528.8 312.4 1529.5 316.1 1529.9 319.7 1529.6 323.2 1528.6 326.6 1527 329.6 1524.9 332.4 1522.2 334.9 1519.1 337 1515.5 338.8 1510.6 340 1505.2 340.7 1499.8 340.8 1494.6 340.4 1489.5 339.5 1484.2 337.9 1478 335.7 1471.7 333.3 1465.4 330.3 1458.2 327 1450.9 323.4 1443.4 319.5 1435.1 315.5 1426.6 311.1 1418.4 306.4 1410 301.5 1401.8 296.3 1395.7 292.7 1393.5 288.9 1392.2 285.2 1391"/>
<path d="M255.3 1502.1L259.3 1504.1 263.3 1506.2 267.4 1508.2 271.7 1510.6 276.2 1513 280.7 1515.4 285.5 1518.2 290.4 1521 295.1 1523.5 299.2 1525.4 303.2 1527 307.2 1528.1 310.9 1528.8 314.5 1529.1 318.1 1528.9 321.5 1527.9 324.7 1526.3 327.7 1524.3 330.5 1521.7 332.9 1518.6 335 1515.1 336.7 1510.4 337.9 1505.1 338.6 1499.8 338.7 1494.8 338.3 1489.7 337.4 1484.5 335.8 1478.6 333.7 1472.4 331.3 1466.2 328.4 1459.2 325.1 1452.1 321.7 1444.8 317.9 1436.7 313.9 1428.4 309.6 1420.3 305.1 1412.1 300.2 1404.1 295.1 1398.2 291.6 1396 287.9 1394.8 284.3 1393.6"/>
<path d="M254.9 1502.1L258.8 1504 262.7 1505.9 266.6 1507.9 270.8 1510.2 275.1 1512.5 279.5 1514.8 284.1 1517.5 288.9 1520.2 293.5 1522.6 297.4 1524.4 301.3 1525.9 305.2 1527 308.7 1527.7 312.3 1528 315.7 1527.7 319 1526.8 322.2 1525.3 325 1523.3 327.7 1520.9 330.1 1517.9 332.1 1514.5 333.8 1510 334.9 1504.9 335.6 1499.9 335.7 1495 335.2 1490.2 334.4 1485.2 332.9 1479.4 330.9 1473.6 328.6 1467.6 325.7 1460.9 322.5 1454 319.2 1447 315.5 1439.2 311.7 1431.3 307.5 1423.6 303.1 1415.7 298.4 1408 293.5 1402.3 290.1 1400.2 286.5 1399.1 283 1397.9"/>
<path d="M254.5 1502L258.2 1503.8 261.9 1505.7 265.7 1507.6 269.7 1509.7 273.8 1511.9 278 1514.1 282.5 1516.7 287 1519.2 291.4 1521.5 295.2 1523.2 298.9 1524.7 302.6 1525.7 306 1526.3 309.4 1526.6 312.7 1526.4 315.9 1525.5 318.9 1524.1 321.7 1522.2 324.2 1519.9 326.5 1517 328.4 1513.8 330 1509.5 331.1 1504.7 331.7 1499.9 331.8 1495.3 331.4 1490.7 330.6 1485.9 329.2 1480.5 327.2 1474.9 325 1469.2 322.3 1462.8 319.3 1456.3 316.1 1449.7 312.5 1442.3 308.8 1434.7 304.9 1427.4 300.6 1419.9 296.1 1412.6 291.4 1407.1 288.1 1405.2 284.7 1404.1 281.3 1402.9"/>
<path d="M254.1 1502L257.7 1503.7 261.3 1505.5 265 1507.4 268.9 1509.5 272.9 1511.6 276.9 1513.8 281.3 1516.3 285.6 1518.8 289.9 1521 293.6 1522.6 297.2 1524.1 300.8 1525.1 304.1 1525.7 307.4 1526 310.6 1525.8 313.6 1524.9 316.6 1523.5 319.2 1521.7 321.7 1519.4 323.9 1516.6 325.8 1513.5 327.3 1509.3 328.4 1504.6 329 1499.9 329.1 1495.4 328.7 1490.9 327.9 1486.3 326.5 1481 324.7 1475.5 322.5 1470 319.9 1463.8 316.9 1457.4 313.8 1450.9 310.4 1443.7 306.8 1436.3 303 1429.2 298.9 1421.9 294.5 1414.8 289.9 1409.5 286.8 1407.6 283.5 1406.5 280.2 1405.4"/>
<path d="M260.1 1501.4L263.1 1502.8 266 1504.1 269.2 1505.6 273.8 1508 278.7 1510.6 283.5 1513 287.9 1514.9 292.2 1516.7 296.5 1518 300.9 1518.9 305.2 1519.5 309.5 1519.7 313.6 1519.3 317.5 1518.5 321.2 1517.2 324.6 1515.2 327.7 1512.7 330.3 1509.7 332.4 1506.2 333.8 1502.3 334.9 1498.1 335.6 1493.4 335.8 1488.4 335.5 1483.2 334.7 1476.8 333.3 1470.1 331.6 1463.3 329.4 1455.7 326.8 1448 323.8 1440.1 320.3 1431.2 316.4 1422.1 312.1 1413.6 308.1 1406.1 303.7 1399 299.1 1393.7 295.7 1391.8 292.2 1390.7 288.7 1389.6"/>
<path d="M259.8 1501.4L262.7 1502.7 265.6 1503.9 268.7 1505.4 273.1 1507.7 277.9 1510.2 282.7 1512.5 286.9 1514.4 291.1 1516 295.4 1517.3 299.6 1518.2 303.9 1518.8 308.1 1518.9 312.1 1518.6 316 1517.8 319.6 1516.5 322.9 1514.6 325.9 1512.2 328.5 1509.4 330.4 1506 331.9 1502.2 332.9 1498.2 333.6 1493.7 333.8 1488.9 333.6 1483.9 332.8 1477.7 331.4 1471.3 329.7 1464.8 327.6 1457.5 325 1450 322.1 1442.4 318.6 1433.9 314.8 1425.2 310.7 1417 306.7 1409.7 302.4 1402.9 297.9 1397.8 294.6 1396 291.2 1394.9 287.8 1393.9"/>
<path d="M259.5 1501.4L262.3 1502.6 265.2 1503.9 268.2 1505.3 272.6 1507.5 277.3 1510 282 1512.3 286.2 1514.1 290.3 1515.7 294.5 1517 298.7 1517.9 302.9 1518.4 307 1518.5 310.9 1518.2 314.7 1517.5 318.2 1516.2 321.5 1514.3 324.5 1512 327 1509.2 328.9 1505.9 330.4 1502.2 331.4 1498.3 332 1493.8 332.2 1489.1 332 1484.2 331.2 1478.2 329.9 1471.9 328.2 1465.5 326.1 1458.3 323.6 1451 320.7 1443.6 317.3 1435.2 313.6 1426.7 309.5 1418.7 305.6 1411.6 301.4 1404.9 297 1399.9 293.7 1398.1 290.4 1397.1 287 1396"/>
<path d="M258.8 1501.4L261.5 1502.6 264.2 1503.8 267.1 1505.2 271.3 1507.4 275.8 1509.9 280.2 1512.1 284.2 1513.9 288.2 1515.5 292.2 1516.7 296.2 1517.6 300.2 1518.1 304.1 1518.2 307.8 1517.9 311.5 1517.2 314.9 1515.9 318 1514.1 320.8 1511.8 323.2 1509 325.1 1505.8 326.4 1502.1 327.4 1498.3 328 1493.9 328.2 1489.3 328 1484.5 327.2 1478.6 326 1472.4 324.4 1466.1 322.4 1459.1 319.9 1451.9 317.2 1444.6 314 1436.4 310.4 1428 306.5 1420.1 302.8 1413.1 298.8 1406.6 294.6 1401.7 291.5 1399.9 288.2 1398.9 285 1397.9"/>
<path d="M258.1 1501.3L260.8 1502.4 263.4 1503.6 266.2 1504.9 270.2 1506.9 274.5 1509.2 278.8 1511.3 282.6 1512.9 286.4 1514.4 290.2 1515.6 294 1516.4 297.9 1516.9 301.7 1517 305.2 1516.7 308.7 1516 312 1514.9 315 1513.2 317.7 1511 320 1508.4 321.8 1505.4 323.1 1502 324 1498.5 324.6 1494.4 324.8 1490.1 324.6 1485.6 323.9 1480.1 322.6 1474.4 321.1 1468.5 319.2 1462 316.9 1455.3 314.3 1448.5 311.1 1440.9 307.7 1433.1 304 1425.7 300.4 1419.2 296.6 1413.1 292.5 1408.6 289.5 1406.9 286.4 1406 283.3 1405"/>
<path d="M257.7 1501.3L260.2 1502.4 262.7 1503.5 265.4 1504.7 269.3 1506.7 273.4 1508.9 277.6 1510.8 281.3 1512.4 284.9 1513.8 288.6 1514.9 292.3 1515.7 296.1 1516.2 299.7 1516.3 303.2 1516 306.5 1515.4 309.7 1514.3 312.6 1512.6 315.2 1510.5 317.4 1508.1 319.1 1505.2 320.4 1502 321.3 1498.5 321.9 1494.6 322 1490.5 321.9 1486.2 321.2 1481 320 1475.5 318.5 1469.8 316.6 1463.6 314.4 1457.2 311.9 1450.7 308.9 1443.4 305.5 1435.9 301.9 1428.8 298.5 1422.6 294.8 1416.8 290.9 1412.4 288 1410.8 285 1409.9 282 1409"/>
<path d="M256.6 1501.2L258.9 1502.2 261.2 1503.2 263.7 1504.4 267.3 1506.2 271.1 1508.2 274.9 1510 278.3 1511.5 281.7 1512.8 285.1 1513.8 288.5 1514.5 291.9 1515 295.3 1515.1 298.5 1514.8 301.6 1514.2 304.5 1513.2 307.1 1511.7 309.6 1509.8 311.6 1507.5 313.2 1504.9 314.4 1501.9 315.2 1498.7 315.7 1495.1 315.9 1491.3 315.7 1487.4 315.1 1482.5 314 1477.5 312.6 1472.3 310.9 1466.5 308.8 1460.6 306.5 1454.7 303.7 1447.9 300.7 1441 297.3 1434.5 294.2 1428.8 290.8 1423.4 287.2 1419.4 284.5 1417.9 281.7 1417.1 279 1416.3"/>
<path d="M255.5 1501.2L257.7 1502.1 259.8 1503.1 262.1 1504.2 265.4 1505.9 268.9 1507.8 272.4 1509.5 275.6 1510.9 278.7 1512.1 281.8 1513.1 285 1513.7 288.1 1514.2 291.2 1514.3 294.2 1514 297 1513.4 299.7 1512.5 302.1 1511.1 304.4 1509.2 306.3 1507.1 307.7 1504.6 308.8 1501.8 309.6 1498.8 310.1 1495.4 310.2 1491.8 310 1488.1 309.4 1483.5 308.4 1478.7 307.2 1473.9 305.6 1468.4 303.7 1462.9 301.6 1457.2 299 1450.8 296.2 1444.3 293.1 1438.2 290.2 1432.8 287 1427.7 283.7 1424 281.3 1422.6 278.7 1421.8 276.2 1421"/>
<path d="M254.6 1501.1L256.6 1502 258.6 1502.9 260.7 1503.9 263.7 1505.4 267 1507.2 270.2 1508.8 273.1 1510 276 1511.2 278.9 1512.1 281.7 1512.7 284.7 1513.1 287.5 1513.1 290.2 1512.9 292.9 1512.4 295.3 1511.5 297.6 1510.2 299.6 1508.5 301.4 1506.6 302.7 1504.3 303.7 1501.7 304.4 1498.9 304.9 1495.8 305 1492.5 304.8 1489.1 304.3 1484.9 303.4 1480.5 302.2 1476 300.8 1471 299 1465.9 297 1460.7 294.7 1454.8 292.1 1448.9 289.2 1443.2 286.5 1438.3 283.7 1433.6 280.6 1430.1 278.3 1428.8 276 1428.1 273.7 1427.4"/>
<path d="M291.1 1501.5L282 1500.5 272.8 1499.5 263.7 1499 254.5 1499.1 245.4 1499.6 236.2 1500.1 227 1500.5 217.8 1500.9 208.7 1501.5 200.1 1502.5 191.6 1503.6 183.1 1505 173.8 1506.6 164.3 1508.5 155.6 1510.7 149.1 1512.6 143 1514.7 137.3 1517.3 132.2 1520.2 127.5 1523.4 123.5 1527 120.6 1530.7 118.2 1534.6 116.7 1538.5 116.2 1541.6 116.4 1544.8 117.1 1547.9 118.6 1551.7 120.8 1555.5 123.5 1559.4 127.8 1564.5 132.9 1569.7 138.4 1575.1 145.3 1581.9 152.7 1588.9 160.2 1595.8 167.6 1602.5 175.2 1609.2 183.1 1615.8 191.9 1622.7 201.2 1629.5 210.6 1635.9 219.5 1641.3 228.6 1646.2 238 1651 248.5 1656.1 259.4 1661.1 270.1 1665.4 279.4 1668.5 288.6 1671.2 297.6 1673.4 305.3 1674.9 312.9 1675.9 320.5 1676.8 328 1677.5 335.6 1678.1 343.3 1678.2 352.4 1678 361.7 1677.4 370.8 1676.2 379.5 1674.7 388 1672.8 396 1670.2 403 1667.2 409.6 1663.7 415.5 1659.6 420.3 1655.2 424.5 1650.4 428.1 1645.3 430.6 1640.6 432.7 1635.8 434.2 1631 435.3 1626.3 436 1621.5 436.1 1616.7 435.5 1611 434.2 1605.2 432.6 1599.5 430.9 1594.1 428.8 1588.9 426.2 1583.7 422.5 1578 418.1 1572.2 413.2 1566.5 406.6 1559.7 399.2 1552.9 391.4 1546.5 383.2 1540.4 374.6 1534.7 366.2 1529.3 359.3 1524.8 352.6 1520.6 346.2 1516.9 341.5 1514.6 337 1512.7 332.5 1510.9 328 1509.2 323.5 1507.7 318.7 1506.3 312.2 1504.8 305.2 1503.6 298.1 1502.3"/>
<path d="M290.1 1501.5L281.1 1500.5 272.2 1499.6 263.2 1499 254.3 1499.1 245.3 1499.6 236.4 1500.1 227.4 1500.5 218.4 1500.9 209.5 1501.5 201.1 1502.4 192.8 1503.5 184.4 1504.8 175.3 1506.4 166.1 1508.3 157.5 1510.4 151.1 1512.2 145.2 1514.3 139.6 1516.7 134.7 1519.5 130.1 1522.7 126.2 1526.2 123.3 1529.7 121 1533.5 119.5 1537.3 119.1 1540.3 119.2 1543.3 119.9 1546.4 121.4 1550 123.6 1553.7 126.2 1557.5 130.4 1562.4 135.4 1567.5 140.8 1572.7 147.5 1579.2 154.7 1586 162 1592.7 169.3 1599.2 176.7 1605.7 184.4 1612.1 193.1 1618.8 202.1 1625.4 211.3 1631.5 220.1 1636.7 229 1641.5 238.2 1646.2 248.4 1651.1 259.1 1655.9 269.5 1660 278.6 1663.1 287.6 1665.7 296.4 1667.8 304 1669.2 311.3 1670.3 318.8 1671.1 326.1 1671.8 333.5 1672.3 341.1 1672.5 350 1672.3 359.1 1671.7 368 1670.6 376.5 1669.1 384.8 1667.2 392.6 1664.7 399.5 1661.9 405.9 1658.4 411.7 1654.5 416.4 1650.2 420.5 1645.5 424 1640.6 426.5 1636.1 428.5 1631.5 430 1626.8 431.1 1622.2 431.7 1617.6 431.8 1612.9 431.2 1607.4 430 1601.8 428.5 1596.3 426.8 1591.1 424.7 1586 422.2 1581 418.6 1575.5 414.3 1569.9 409.4 1564.4 403 1557.8 395.7 1551.3 388.2 1545 380.1 1539.1 371.7 1533.6 363.5 1528.4 356.7 1524 350.2 1519.9 343.9 1516.4 339.3 1514.2 334.9 1512.3 330.5 1510.6 326.2 1508.9 321.8 1507.5 317.1 1506.1 310.7 1504.7 303.8 1503.5 296.9 1502.3"/>
<path d="M288.9 1501.5L280.1 1500.5 271.4 1499.6 262.7 1499 254 1499.1 245.3 1499.6 236.6 1500.1 227.8 1500.5 219 1500.9 210.4 1501.5 202.2 1502.4 194.1 1503.5 186 1504.8 177.1 1506.4 168.2 1508.2 159.8 1510.3 153.6 1512.2 147.8 1514.2 142.4 1516.7 137.6 1519.4 133.1 1522.6 129.3 1526.1 126.5 1529.6 124.2 1533.3 122.8 1537.1 122.4 1540.1 122.6 1543.2 123.2 1546.2 124.7 1549.8 126.8 1553.5 129.3 1557.2 133.4 1562.2 138.3 1567.2 143.5 1572.4 150 1578.9 157.1 1585.6 164.2 1592.3 171.3 1598.8 178.5 1605.3 186 1611.6 194.4 1618.3 203.2 1624.8 212.1 1630.9 220.7 1636.2 229.3 1640.9 238.3 1645.6 248.3 1650.5 258.6 1655.2 268.8 1659.4 277.7 1662.4 286.4 1665 295 1667.1 302.3 1668.5 309.5 1669.6 316.8 1670.4 323.9 1671.1 331.1 1671.6 338.5 1671.8 347.1 1671.6 356 1670.9 364.7 1669.9 372.9 1668.4 381 1666.5 388.7 1664.1 395.3 1661.2 401.6 1657.8 407.2 1653.8 411.8 1649.6 415.8 1644.9 419.2 1640 421.6 1635.6 423.6 1630.9 425.1 1626.2 426.1 1621.7 426.7 1617.2 426.8 1612.4 426.2 1607 425 1601.4 423.5 1595.9 421.9 1590.7 419.9 1585.7 417.4 1580.7 413.9 1575.1 409.7 1569.6 405 1564.1 398.7 1557.6 391.7 1551 384.3 1544.8 376.4 1539 368.3 1533.4 360.3 1528.3 353.7 1523.9 347.3 1519.8 341.3 1516.3 336.8 1514.1 332.5 1512.3 328.2 1510.5 324 1508.9 319.7 1507.4 315.1 1506.1 308.9 1504.7 302.2 1503.5 295.5 1502.3"/>
<path d="M287 1501.4L278.6 1500.5 270.3 1499.6 261.9 1499.1 253.6 1499.2 245.2 1499.7 236.9 1500.1 228.5 1500.5 220.1 1500.9 211.8 1501.4 204 1502.3 196.2 1503.3 188.4 1504.5 179.9 1506 171.3 1507.8 163.4 1509.7 157.4 1511.5 151.8 1513.4 146.6 1515.7 142 1518.3 137.8 1521.2 134.1 1524.5 131.4 1527.8 129.2 1531.3 127.9 1534.9 127.5 1537.7 127.6 1540.5 128.3 1543.4 129.6 1546.8 131.7 1550.3 134.1 1553.8 138 1558.4 142.7 1563.1 147.7 1568 154 1574.1 160.7 1580.4 167.5 1586.7 174.3 1592.8 181.2 1598.8 188.4 1604.8 196.5 1611.1 204.9 1617.2 213.5 1622.9 221.7 1627.8 229.9 1632.3 238.5 1636.7 248.1 1641.3 258 1645.7 267.8 1649.6 276.3 1652.5 284.6 1654.9 292.8 1656.9 299.9 1658.2 306.8 1659.2 313.7 1660 320.6 1660.6 327.5 1661.1 334.6 1661.3 342.8 1661.1 351.3 1660.5 359.6 1659.5 367.5 1658.1 375.3 1656.3 382.6 1654 389 1651.3 395 1648.1 400.3 1644.4 404.7 1640.5 408.6 1636 411.8 1631.5 414.2 1627.3 416 1622.9 417.5 1618.5 418.5 1614.3 419 1610 419.1 1605.6 418.6 1600.4 417.4 1595.2 416 1590 414.4 1585.2 412.5 1580.5 410.2 1575.8 406.8 1570.6 402.8 1565.4 398.3 1560.2 392.2 1554.1 385.5 1547.9 378.4 1542.1 370.9 1536.6 363 1531.4 355.4 1526.6 349.1 1522.5 343 1518.7 337.2 1515.4 332.9 1513.3 328.8 1511.5 324.7 1509.9 320.6 1508.4 316.5 1507 312.1 1505.7 306.2 1504.4 299.7 1503.3 293.3 1502.2"/>
<path d="M286.2 1501.4L278 1500.5 269.8 1499.6 261.6 1499.1 253.4 1499.2 245.2 1499.7 237 1500.1 228.7 1500.5 220.5 1500.9 212.4 1501.4 204.7 1502.3 197.1 1503.3 189.4 1504.5 181.1 1506 172.7 1507.7 164.8 1509.7 159 1511.4 153.5 1513.3 148.4 1515.6 143.9 1518.2 139.7 1521.1 136.1 1524.3 133.5 1527.6 131.3 1531.1 130 1534.6 129.6 1537.5 129.8 1540.3 130.4 1543.1 131.7 1546.5 133.7 1549.9 136.1 1553.4 140 1558 144.5 1562.7 149.5 1567.6 155.6 1573.6 162.2 1579.9 168.9 1586.1 175.6 1592.2 182.4 1598.2 189.4 1604.1 197.4 1610.4 205.6 1616.5 214 1622.1 222.1 1627 230.2 1631.5 238.6 1635.8 248 1640.4 257.8 1644.8 267.3 1648.6 275.7 1651.5 283.9 1653.9 291.9 1655.9 298.8 1657.2 305.6 1658.2 312.4 1658.9 319.2 1659.6 325.9 1660.1 332.9 1660.2 341 1660 349.3 1659.4 357.5 1658.4 365.2 1657.1 372.9 1655.3 380 1653 386.3 1650.3 392.2 1647.2 397.5 1643.5 401.8 1639.6 405.6 1635.2 408.7 1630.6 411.1 1626.4 412.9 1622.1 414.3 1617.8 415.2 1613.5 415.8 1609.3 415.9 1604.9 415.4 1599.8 414.3 1594.6 412.8 1589.5 411.3 1584.6 409.4 1579.9 407.1 1575.3 403.8 1570.1 399.9 1565 395.4 1559.9 389.5 1553.7 382.9 1547.6 375.9 1541.8 368.6 1536.4 360.8 1531.2 353.4 1526.4 347.2 1522.3 341.2 1518.5 335.5 1515.3 331.2 1513.2 327.2 1511.5 323.2 1509.9 319.2 1508.3 315.2 1507 310.9 1505.7 305 1504.4 298.7 1503.3 292.4 1502.1"/>
<path d="M284.6 1501.4L276.7 1500.5 268.8 1499.7 260.9 1499.2 253 1499.3 245.1 1499.7 237.2 1500.2 229.3 1500.5 221.4 1500.8 213.5 1501.4 206.1 1502.2 198.8 1503.2 191.4 1504.3 183.4 1505.8 175.3 1507.4 167.7 1509.2 162.1 1510.9 156.8 1512.7 151.9 1514.9 147.6 1517.3 143.5 1520.1 140.1 1523.2 137.5 1526.3 135.5 1529.7 134.2 1533 133.8 1535.7 134 1538.4 134.6 1541.1 135.9 1544.3 137.8 1547.5 140.1 1550.9 143.8 1555.2 148.2 1559.7 152.9 1564.3 158.9 1570.1 165.2 1576.1 171.7 1582 178.1 1587.8 184.6 1593.5 191.4 1599.1 199.1 1605 207 1610.9 215.1 1616.3 222.9 1620.9 230.7 1625.1 238.8 1629.2 247.9 1633.6 257.2 1637.8 266.4 1641.5 274.5 1644.2 282.4 1646.5 290.1 1648.3 296.8 1649.6 303.3 1650.5 309.9 1651.3 316.4 1651.9 322.9 1652.4 329.6 1652.5 337.4 1652.3 345.4 1651.8 353.3 1650.8 360.8 1649.5 368.1 1647.9 375 1645.7 381 1643.1 386.7 1640.1 391.8 1636.6 395.9 1632.8 399.6 1628.7 402.6 1624.3 404.9 1620.4 406.6 1616.3 408 1612.1 408.9 1608.1 409.5 1604 409.6 1599.9 409 1595 408 1590 406.6 1585.2 405.1 1580.6 403.3 1576.1 401.1 1571.7 397.9 1566.7 394.1 1561.9 389.8 1557 384.1 1551.2 377.7 1545.4 371.1 1539.8 363.9 1534.6 356.5 1529.7 349.3 1525.2 343.4 1521.3 337.6 1517.7 332.1 1514.6 328 1512.6 324.1 1510.9 320.2 1509.4 316.4 1508 312.5 1506.7 308.4 1505.4 302.7 1504.2 296.7 1503.1 290.6 1502.1"/>
<path d="M284.1 1501.4L276.3 1500.5 268.5 1499.7 260.7 1499.2 252.9 1499.3 245.1 1499.7 237.3 1500.2 229.5 1500.5 221.6 1500.8 213.9 1501.4 206.6 1502.2 199.3 1503.2 192 1504.4 184.1 1505.8 176.1 1507.4 168.6 1509.3 163.1 1511 157.9 1512.8 153 1515 148.7 1517.5 144.7 1520.3 141.3 1523.4 138.8 1526.5 136.8 1529.9 135.5 1533.3 135.1 1536 135.3 1538.7 135.9 1541.4 137.1 1544.7 139 1547.9 141.3 1551.3 145 1555.7 149.3 1560.2 154 1564.9 159.9 1570.7 166.2 1576.7 172.5 1582.6 178.9 1588.5 185.3 1594.3 192 1599.9 199.6 1605.9 207.5 1611.8 215.5 1617.2 223.1 1621.9 230.8 1626.2 238.9 1630.3 247.8 1634.7 257.1 1639 266.2 1642.7 274.1 1645.4 281.9 1647.7 289.6 1649.6 296.2 1650.8 302.6 1651.8 309.1 1652.5 315.5 1653.2 322 1653.6 328.6 1653.8 336.3 1653.6 344.2 1653 352 1652 359.4 1650.7 366.6 1649.1 373.5 1646.8 379.4 1644.3 385 1641.2 390 1637.7 394.1 1633.9 397.7 1629.7 400.8 1625.4 403 1621.3 404.7 1617.2 406 1613 407 1609 407.5 1604.9 407.6 1600.7 407.1 1595.8 406 1590.8 404.7 1585.9 403.2 1581.2 401.4 1576.7 399.2 1572.3 396 1567.3 392.3 1562.4 388.1 1557.5 382.4 1551.6 376.1 1545.7 369.6 1540.2 362.5 1534.9 355.2 1530 348.1 1525.4 342.2 1521.5 336.5 1517.8 331 1514.7 327 1512.7 323.2 1511 319.3 1509.5 315.5 1508 311.7 1506.7 307.6 1505.5 302 1504.2 296.1 1503.2 290.1 1502.1"/>
<path d="M282.1 1501.4L274.7 1500.5 267.3 1499.7 259.9 1499.2 252.4 1499.3 245 1499.7 237.6 1500.2 230.2 1500.5 222.7 1500.8 215.4 1501.4 208.4 1502.1 201.6 1503.1 194.6 1504.2 187.1 1505.6 179.5 1507.2 172.4 1509 167.1 1510.6 162.2 1512.3 157.6 1514.4 153.5 1516.8 149.7 1519.5 146.4 1522.5 144 1525.5 142.1 1528.7 140.9 1532 140.5 1534.6 140.7 1537.2 141.2 1539.8 142.5 1542.9 144.2 1546.1 146.4 1549.3 149.9 1553.5 154 1557.9 158.5 1562.3 164 1567.9 170 1573.7 176.1 1579.4 182.1 1585 188.2 1590.6 194.6 1596 201.8 1601.8 209.3 1607.4 216.9 1612.6 224.1 1617.1 231.5 1621.2 239.1 1625.2 247.6 1629.5 256.4 1633.5 265 1637.1 272.6 1639.7 280 1641.9 287.3 1643.7 293.6 1645 299.7 1645.9 305.8 1646.6 311.9 1647.2 318 1647.6 324.3 1647.8 331.7 1647.6 339.2 1647 346.6 1646.1 353.6 1644.9 360.5 1643.2 367 1641.1 372.6 1638.6 378 1635.7 382.7 1632.3 386.6 1628.7 390 1624.7 392.9 1620.5 395 1616.6 396.7 1612.6 397.9 1608.6 398.8 1604.7 399.3 1600.8 399.4 1596.7 398.9 1592.1 397.9 1587.2 396.6 1582.5 395.2 1578.1 393.5 1573.7 391.4 1569.5 388.4 1564.7 384.9 1560 380.9 1555.2 375.5 1549.6 369.5 1544 363.3 1538.6 356.6 1533.6 349.6 1528.8 342.9 1524.4 337.3 1520.6 331.8 1517.1 326.7 1514.1 322.8 1512.2 319.2 1510.6 315.5 1509.1 311.9 1507.7 308.3 1506.5 304.4 1505.3 299.1 1504.1 293.4 1503.1 287.7 1502"/>
<path d="M280.7 1501.3L273.5 1500.5 266.4 1499.8 259.2 1499.3 252.1 1499.4 245 1499.8 237.8 1500.2 230.7 1500.5 223.5 1500.8 216.4 1501.3 209.7 1502 203.1 1502.9 196.4 1504 189.2 1505.3 181.8 1506.7 175 1508.4 169.9 1509.9 165.2 1511.6 160.8 1513.5 156.8 1515.8 153.2 1518.3 150.1 1521.1 147.7 1523.9 145.9 1527 144.7 1530 144.4 1532.4 144.5 1534.9 145.1 1537.3 146.2 1540.2 147.9 1543.2 150.1 1546.2 153.4 1550.2 157.4 1554.2 161.7 1558.4 167 1563.7 172.8 1569.1 178.6 1574.4 184.4 1579.7 190.3 1584.9 196.4 1590 203.4 1595.4 210.6 1600.6 217.9 1605.6 224.9 1609.8 231.9 1613.6 239.3 1617.3 247.5 1621.3 255.9 1625.1 264.2 1628.4 271.5 1630.9 278.7 1633 285.7 1634.7 291.7 1635.8 297.6 1636.7 303.5 1637.3 309.4 1637.9 315.3 1638.3 321.3 1638.4 328.4 1638.3 335.6 1637.8 342.8 1636.9 349.5 1635.7 356.1 1634.2 362.4 1632.2 367.8 1629.9 372.9 1627.2 377.5 1624 381.3 1620.6 384.6 1616.8 387.4 1612.9 389.4 1609.3 391 1605.5 392.2 1601.8 393 1598.1 393.5 1594.4 393.6 1590.7 393.1 1586.3 392.2 1581.7 390.9 1577.3 389.6 1573.2 388 1569.1 385.9 1565.1 383 1560.6 379.6 1556.2 375.8 1551.8 370.6 1546.5 364.8 1541.2 358.8 1536.2 352.4 1531.5 345.7 1527 339.2 1522.9 333.8 1519.4 328.5 1516.1 323.6 1513.3 319.9 1511.5 316.4 1510 312.9 1508.6 309.4 1507.3 305.9 1506.1 302.2 1505 297.1 1503.9 291.6 1502.9 286.1 1501.9"/>
<path d="M278.6 1501.3L271.8 1500.5 265.1 1499.8 258.4 1499.4 251.6 1499.5 244.9 1499.8 238.2 1500.2 231.4 1500.5 224.7 1500.8 218 1501.3 211.7 1501.9 205.4 1502.8 199.1 1503.8 192.3 1505 185.4 1506.3 178.9 1507.9 174.1 1509.3 169.7 1510.8 165.5 1512.7 161.8 1514.7 158.3 1517.1 155.4 1519.7 153.2 1522.3 151.4 1525.2 150.3 1528 150 1530.3 150.2 1532.6 150.7 1534.9 151.8 1537.6 153.4 1540.3 155.4 1543.1 158.5 1546.8 162.3 1550.6 166.3 1554.5 171.4 1559.4 176.8 1564.5 182.3 1569.5 187.8 1574.4 193.3 1579.2 199.1 1584 205.6 1589 212.4 1593.9 219.3 1598.5 225.9 1602.4 232.6 1606 239.5 1609.5 247.2 1613.2 255.2 1616.8 263.1 1619.9 269.9 1622.2 276.7 1624.1 283.3 1625.7 289 1626.7 294.5 1627.5 300.1 1628.1 305.6 1628.7 311.2 1629.1 316.9 1629.2 323.6 1629 330.4 1628.5 337.1 1627.7 343.5 1626.7 349.7 1625.2 355.6 1623.4 360.8 1621.2 365.6 1618.7 369.9 1615.7 373.5 1612.5 376.6 1609 379.2 1605.3 381.1 1602 382.6 1598.5 383.7 1595 384.5 1591.6 385 1588.1 385.1 1584.6 384.6 1580.5 383.7 1576.3 382.5 1572.2 381.3 1568.3 379.7 1564.5 377.8 1560.8 375.1 1556.6 371.9 1552.5 368.2 1548.3 363.4 1543.4 357.9 1538.5 352.3 1533.8 346.2 1529.4 339.9 1525.3 333.7 1521.4 328.6 1518.1 323.7 1515 319 1512.4 315.6 1510.7 312.2 1509.3 308.9 1508.1 305.7 1506.8 302.4 1505.7 298.8 1504.7 294 1503.6 288.9 1502.7 283.7 1501.8"/>
<path d="M276.1 1501.2L269.8 1500.5 263.6 1499.8 257.3 1499.4 251.1 1499.5 244.8 1499.9 238.6 1500.2 232.3 1500.5 226 1500.8 219.8 1501.2 213.9 1501.9 208.1 1502.7 202.3 1503.7 195.9 1504.8 189.5 1506.2 183.5 1507.7 179 1509 174.9 1510.5 171 1512.3 167.5 1514.3 164.3 1516.6 161.6 1519.1 159.6 1521.7 157.9 1524.4 156.9 1527.2 156.6 1529.4 156.7 1531.6 157.2 1533.8 158.2 1536.4 159.8 1539.1 161.6 1541.8 164.5 1545.4 168 1549.1 171.8 1552.9 176.5 1557.6 181.5 1562.5 186.6 1567.4 191.7 1572.1 196.9 1576.8 202.3 1581.4 208.3 1586.3 214.6 1591.1 221 1595.5 227.2 1599.3 233.4 1602.8 239.8 1606.2 247 1609.7 254.4 1613.2 261.7 1616.2 268.1 1618.4 274.4 1620.3 280.5 1621.8 285.8 1622.9 290.9 1623.6 296.1 1624.2 301.3 1624.8 306.4 1625.1 311.8 1625.3 317.9 1625.1 324.3 1624.6 330.5 1623.8 336.4 1622.8 342.3 1621.4 347.7 1619.6 352.5 1617.5 357 1615 361 1612.2 364.3 1609.1 367.2 1605.7 369.6 1602.1 371.4 1598.9 372.8 1595.5 373.9 1592.1 374.6 1588.8 375 1585.5 375.1 1582 374.7 1578.1 373.8 1574 372.8 1570 371.6 1566.2 370.2 1562.6 368.4 1558.9 365.8 1554.9 362.8 1550.9 359.5 1546.9 354.9 1542.1 349.9 1537.3 344.6 1532.8 339 1528.5 333.1 1524.5 327.4 1520.7 322.7 1517.6 318.1 1514.6 313.7 1512 310.5 1510.4 307.4 1509.1 304.3 1507.8 301.3 1506.6 298.2 1505.6 294.9 1504.6 290.5 1503.6 285.7 1502.7 280.9 1501.8"/>
<path d="M274 1501.2L268.2 1500.5 262.3 1499.9 256.5 1499.5 250.6 1499.6 244.7 1499.9 238.9 1500.3 233 1500.5 227.1 1500.8 221.3 1501.2 215.8 1501.8 210.4 1502.5 204.9 1503.4 198.9 1504.5 192.9 1505.7 187.3 1507.1 183.1 1508.4 179.3 1509.7 175.6 1511.4 172.4 1513.3 169.4 1515.4 166.8 1517.7 164.9 1520.1 163.4 1522.6 162.4 1525.1 162.2 1527.2 162.3 1529.2 162.7 1531.2 163.7 1533.7 165.1 1536.1 166.8 1538.7 169.6 1542 172.8 1545.4 176.4 1548.9 180.8 1553.2 185.5 1557.7 190.3 1562.2 195 1566.6 199.9 1570.9 204.9 1575.2 210.6 1579.7 216.5 1584.1 222.5 1588.2 228.2 1591.7 234 1594.9 240.1 1598 246.8 1601.3 253.7 1604.5 260.6 1607.3 266.5 1609.4 272.4 1611.1 278.1 1612.5 283.1 1613.5 287.9 1614.2 292.8 1614.7 297.6 1615.2 302.4 1615.5 307.4 1615.6 313.2 1615.5 319.1 1615.1 325 1614.3 330.5 1613.4 336 1612.1 341.1 1610.5 345.6 1608.5 349.8 1606.2 353.5 1603.6 356.6 1600.7 359.3 1597.6 361.6 1594.3 363.2 1591.3 364.5 1588.2 365.5 1585 366.2 1582 366.6 1578.9 366.7 1575.8 366.3 1572.1 365.5 1568.3 364.5 1564.6 363.4 1561.2 362.1 1557.8 360.4 1554.4 358 1550.7 355.2 1547 352.1 1543.3 347.8 1538.9 343.1 1534.5 338.2 1530.3 332.9 1526.4 327.4 1522.7 322.1 1519.2 317.6 1516.3 313.3 1513.5 309.2 1511.2 306.2 1509.7 303.3 1508.4 300.5 1507.3 297.6 1506.2 294.7 1505.2 291.7 1504.3 287.5 1503.3 283 1502.5 278.5 1501.7"/>
<path d="M271.4 1501.1L266 1500.5 260.7 1500 255.3 1499.6 250 1499.7 244.6 1500 239.3 1500.3 233.9 1500.5 228.5 1500.8 223.2 1501.1 218.2 1501.7 213.3 1502.4 208.3 1503.2 202.8 1504.2 197.3 1505.3 192.2 1506.6 188.4 1507.7 184.8 1509 181.5 1510.5 178.6 1512.2 175.8 1514.1 173.5 1516.3 171.8 1518.4 170.4 1520.8 169.5 1523.1 169.2 1525 169.3 1526.8 169.7 1528.7 170.6 1530.9 171.9 1533.2 173.5 1535.5 176 1538.5 179 1541.7 182.2 1544.9 186.2 1548.9 190.5 1553 194.9 1557.1 199.2 1561.2 203.7 1565.1 208.3 1569 213.4 1573.2 218.8 1577.2 224.3 1581 229.6 1584.2 234.9 1587.1 240.4 1590 246.5 1593 252.9 1595.9 259.1 1598.5 264.5 1600.4 269.9 1602 275.1 1603.2 279.7 1604.1 284.1 1604.8 288.5 1605.3 292.9 1605.7 297.3 1606 301.9 1606.1 307.2 1606 312.6 1605.6 317.9 1604.9 323 1604.1 328 1602.9 332.6 1601.4 336.7 1599.6 340.6 1597.5 344 1595.1 346.8 1592.5 349.3 1589.6 351.4 1586.6 352.9 1583.8 354.1 1580.9 355 1578.1 355.6 1575.3 356 1572.4 356.1 1569.5 355.7 1566.2 355 1562.7 354 1559.3 353 1556.2 351.8 1553.1 350.3 1550 348.1 1546.5 345.6 1543.2 342.7 1539.8 338.8 1535.7 334.5 1531.7 330 1527.9 325.2 1524.2 320.1 1520.8 315.3 1517.6 311.2 1515 307.3 1512.4 303.6 1510.3 300.8 1508.9 298.2 1507.8 295.5 1506.7 292.9 1505.7 290.3 1504.8 287.5 1504 283.7 1503.1 279.6 1502.3 275.5 1501.6"/>
<path d="M293.8 1496.2L286.5 1495 279.3 1493.7 272 1492.6 264.8 1491.6 257.5 1490.6 250.3 1489.9 243 1489.4 235.8 1489.2 228.5 1489.3 221.2 1490.1 214 1491.2 206.8 1492.6 200 1494 193.3 1495.6 187 1497.7 181.6 1500.2 176.6 1503.2 172.5 1506.7 169.7 1509.9 167.6 1513.4 166.5 1517.1 166.7 1521 168.1 1525 170.1 1529.1 174 1534.9 179.1 1541 184.6 1547 190.6 1553.1 197.1 1559.1 203.9 1564.9 211.6 1571.1 219.8 1577.2 228.1 1582.9 236 1587.7 244.1 1592.2 252.2 1596.3 260.2 1600.1 268.3 1603.5 276.4 1606.8 284.4 1609.7 292.4 1612.5 300.5 1614.8 308.6 1616.8 316.8 1618.4 324.7 1619.6 331.3 1620.5 337.6 1621 344 1621.1 350.5 1620.8 357 1620 363.3 1618.7 369.2 1617.1 374.9 1615.2 380.2 1612.7 384.6 1610.2 388.7 1607.3 392.3 1603.8 395.6 1599.3 398.3 1594.2 400.8 1588.8 403 1583 404.9 1576.8 406.3 1570.9 407.1 1566.4 407.7 1562 408 1557.5 408.3 1551.6 408.2 1545.4 407.6 1539.2 406 1532 403.7 1524.7 401.1 1517.6 398.5 1511.4 395.6 1505.5 392.4 1499.7 388.9 1494.2 385 1488.8 380.8 1483.6 376.2 1478.1 371.3 1472.7 366.3 1467.4 361.6 1462.5 356.7 1457.7 351.8 1453.1 347.1 1448.7 342.2 1444.5 337.3 1440.5 332.6 1437.1 327.7 1433.8 322.9 1430.7 318 1427.6 313.2 1424.7 308.4 1421.7 303.4 1418.7 298.5 1415.6 293.9 1412.7 290.4 1410.5 287 1408.3 283.7 1406.1"/>
<path d="M291.1 1496.3L284.3 1495.1 277.4 1493.9 270.5 1492.8 263.7 1491.8 256.8 1490.9 249.9 1490.2 243.1 1489.7 236.2 1489.5 229.3 1489.6 222.4 1490.3 215.5 1491.5 208.7 1492.8 202.2 1494.2 195.9 1495.7 190 1497.8 184.9 1500.2 180.1 1503.2 176.2 1506.5 173.6 1509.6 171.5 1513.1 170.5 1516.7 170.7 1520.4 172 1524.3 173.9 1528.3 177.6 1534 182.5 1539.9 187.7 1545.7 193.4 1551.6 199.5 1557.5 206 1563.1 213.3 1569.2 221 1575.1 228.9 1580.6 236.4 1585.3 244.1 1589.6 251.8 1593.6 259.3 1597.3 267 1600.7 274.7 1603.8 282.2 1606.7 289.9 1609.4 297.5 1611.7 305.2 1613.6 313 1615.1 320.4 1616.3 326.7 1617.1 332.7 1617.7 338.7 1617.8 344.9 1617.4 351.1 1616.6 357.1 1615.4 362.7 1613.9 368.1 1612 373.1 1609.6 377.3 1607.1 381.1 1604.3 384.5 1600.9 387.6 1596.5 390.2 1591.6 392.5 1586.4 394.7 1580.7 396.4 1574.7 397.8 1569 398.6 1564.6 399.1 1560.3 399.4 1555.9 399.7 1550.2 399.6 1544.2 399.1 1538.1 397.6 1531.1 395.4 1524 392.9 1517.2 390.4 1511.1 387.7 1505.3 384.6 1499.7 381.3 1494.4 377.6 1489.2 373.7 1484 369.3 1478.7 364.6 1473.5 359.9 1468.4 355.4 1463.6 350.8 1458.9 346.2 1454.4 341.7 1450.2 337.1 1446.1 332.5 1442.2 327.9 1438.8 323.3 1435.7 318.7 1432.6 314.2 1429.7 309.6 1426.8 305 1423.9 300.3 1421 295.6 1418 291.2 1415.2 287.9 1413 284.8 1410.9 281.6 1408.7"/>
<path d="M289.3 1496.6L282.7 1495.4 276.1 1494.3 269.5 1493.3 262.9 1492.3 256.3 1491.4 249.7 1490.8 243.1 1490.3 236.5 1490.1 229.9 1490.2 223.2 1490.9 216.6 1492 210.1 1493.3 203.9 1494.5 197.8 1496 192.1 1497.9 187.2 1500.3 182.6 1503 178.9 1506.2 176.3 1509.1 174.4 1512.4 173.4 1515.8 173.6 1519.3 174.8 1523 176.7 1526.7 180.2 1532.1 184.9 1537.7 189.9 1543.2 195.3 1548.8 201.2 1554.3 207.5 1559.6 214.5 1565.4 221.9 1570.9 229.4 1576.1 236.7 1580.6 244 1584.6 251.4 1588.5 258.7 1591.9 266.1 1595.1 273.4 1598.1 280.7 1600.8 288.1 1603.3 295.4 1605.5 302.8 1607.2 310.3 1608.7 317.4 1609.8 323.4 1610.6 329.2 1611.1 335 1611.2 341 1610.9 346.9 1610.2 352.6 1609 358 1607.6 363.2 1605.8 368 1603.5 372 1601.2 375.7 1598.5 379 1595.3 382 1591.2 384.5 1586.5 386.7 1581.6 388.8 1576.2 390.5 1570.5 391.8 1565.1 392.5 1561 393 1557 393.3 1552.8 393.6 1547.4 393.5 1541.8 393 1536 391.5 1529.4 389.4 1522.7 387 1516.2 384.7 1510.5 382 1505.1 379.1 1499.8 375.9 1494.7 372.3 1489.8 368.6 1485 364.4 1479.9 359.9 1475 355.4 1470.2 351 1465.6 346.6 1461.2 342.2 1457 337.8 1453 333.4 1449.1 329 1445.5 324.6 1442.3 320.2 1439.3 315.8 1436.4 311.4 1433.6 307 1430.9 302.6 1428.2 298.1 1425.4 293.6 1422.6 289.4 1420 286.2 1417.9 283.2 1415.9 280.1 1413.9"/>
<path d="M287.1 1496.7L280.8 1495.6 274.5 1494.5 268.2 1493.5 262 1492.6 255.7 1491.8 249.4 1491.1 243.1 1490.7 236.8 1490.5 230.6 1490.6 224.2 1491.2 217.9 1492.3 211.7 1493.5 205.8 1494.7 200 1496.1 194.6 1498 189.9 1500.3 185.6 1502.9 182 1506 179.6 1508.8 177.7 1512 176.8 1515.2 177 1518.7 178.2 1522.2 179.9 1525.8 183.3 1531 187.7 1536.4 192.5 1541.7 197.7 1547.2 203.3 1552.5 209.2 1557.6 215.9 1563.2 223 1568.5 230.1 1573.5 237 1577.9 244 1581.8 251.1 1585.5 258 1588.8 265 1591.9 272 1594.7 278.9 1597.4 285.9 1599.8 292.9 1601.9 300 1603.6 307 1605 313.9 1606.1 319.6 1606.9 325.1 1607.4 330.6 1607.5 336.2 1607.1 341.9 1606.4 347.4 1605.3 352.5 1603.9 357.4 1602.2 362 1600 365.8 1597.8 369.3 1595.2 372.5 1592.1 375.3 1588.1 377.7 1583.6 379.8 1578.8 381.7 1573.6 383.4 1568.2 384.6 1562.9 385.3 1558.9 385.8 1555.1 386.1 1551 386.3 1545.8 386.3 1540.4 385.8 1534.8 384.4 1528.4 382.4 1521.9 380.1 1515.7 377.9 1510.2 375.4 1504.9 372.6 1499.8 369.5 1494.9 366.1 1490.2 362.5 1485.5 358.5 1480.6 354.3 1475.8 350 1471.2 345.8 1466.8 341.6 1462.6 337.4 1458.5 333.3 1454.6 329.1 1450.8 324.9 1447.3 320.7 1444.3 316.5 1441.4 312.3 1438.6 308.1 1435.9 303.9 1433.3 299.7 1430.6 295.5 1427.9 291.2 1425.3 287.2 1422.7 284.1 1420.7 281.3 1418.7 278.4 1416.8"/>
<path d="M284.5 1497L278.6 1496 272.7 1495 266.8 1494.1 260.9 1493.2 255 1492.5 249 1491.9 243.1 1491.5 237.2 1491.3 231.3 1491.4 225.4 1492 219.5 1493 213.6 1494.1 208.1 1495.2 202.6 1496.5 197.5 1498.2 193.1 1500.3 189.1 1502.7 185.7 1505.5 183.4 1508.2 181.7 1511 180.8 1514 181 1517.2 182.1 1520.4 183.7 1523.8 186.9 1528.5 191.1 1533.5 195.5 1538.3 200.5 1543.3 205.7 1548.2 211.3 1552.9 217.6 1558 224.2 1562.9 230.9 1567.5 237.4 1571.5 244 1575.1 250.6 1578.5 257.1 1581.5 263.7 1584.4 270.3 1587 276.8 1589.4 283.4 1591.6 290 1593.6 296.6 1595.1 303.2 1596.4 309.6 1597.4 315 1598.1 320.2 1598.6 325.4 1598.7 330.7 1598.4 336 1597.7 341.1 1596.7 345.9 1595.4 350.6 1593.8 354.9 1591.8 358.5 1589.8 361.8 1587.4 364.7 1584.6 367.4 1580.9 369.6 1576.7 371.6 1572.4 373.4 1567.6 375 1562.6 376.1 1557.8 376.8 1554.1 377.2 1550.6 377.5 1546.9 377.7 1542.1 377.7 1537.1 377.2 1532 375.9 1526.1 374 1520.2 371.9 1514.5 369.8 1509.4 367.4 1504.6 364.8 1499.9 361.9 1495.4 358.7 1491 355.4 1486.7 351.6 1482.3 347.6 1477.9 343.6 1473.6 339.7 1469.6 335.7 1465.7 331.8 1461.9 327.9 1458.4 324 1454.9 320 1451.7 316.1 1448.9 312.1 1446.3 308.2 1443.7 304.2 1441.2 300.3 1438.8 296.4 1436.4 292.3 1433.9 288.3 1431.5 284.6 1429.1 281.7 1427.3 279 1425.5 276.3 1423.7"/>
<path d="M281.1 1497.3L275.7 1496.4 270.3 1495.5 264.9 1494.7 259.5 1493.9 254 1493.2 248.6 1492.7 243.2 1492.3 237.8 1492.1 232.3 1492.2 226.9 1492.8 221.4 1493.6 216.1 1494.7 211 1495.7 205.9 1496.9 201.3 1498.4 197.2 1500.3 193.5 1502.5 190.4 1505.1 188.3 1507.5 186.7 1510.1 185.9 1512.8 186.1 1515.7 187.1 1518.6 188.6 1521.7 191.5 1526 195.3 1530.5 199.5 1535 204 1539.5 208.8 1543.9 213.9 1548.2 219.7 1552.8 225.8 1557.3 232 1561.5 237.9 1565.1 244 1568.4 250.1 1571.5 256 1574.3 262.1 1576.8 268.1 1579.2 274.1 1581.4 280.1 1583.4 286.2 1585.2 292.3 1586.6 298.4 1587.8 304.3 1588.7 309.2 1589.4 314 1589.8 318.7 1589.9 323.6 1589.6 328.5 1589 333.2 1588.1 337.6 1586.9 341.9 1585.4 345.8 1583.7 349.1 1581.8 352.2 1579.6 354.9 1577 357.3 1573.7 359.4 1569.9 361.2 1565.9 362.9 1561.6 364.3 1557 365.3 1552.7 366 1549.3 366.4 1546.1 366.6 1542.7 366.8 1538.4 366.8 1533.8 366.3 1529.1 365.1 1523.8 363.4 1518.4 361.5 1513.2 359.5 1508.6 357.3 1504.2 354.9 1499.9 352.3 1495.8 349.4 1491.9 346.3 1488 342.8 1483.9 339.1 1479.9 335.4 1476 331.9 1472.4 328.2 1468.8 324.6 1465.4 321 1462.2 317.4 1459 313.7 1456.1 310.2 1453.5 306.5 1451.1 302.9 1448.8 299.3 1446.5 295.7 1444.3 292.1 1442.2 288.4 1439.9 284.7 1437.7 281.2 1435.5 278.6 1433.8 276.1 1432.2 273.6 1430.6"/>
<path d="M276.5 1497.7L271.8 1496.9 267 1496 262.3 1495.3 257.5 1494.6 252.8 1494 248 1493.5 243.2 1493.2 238.5 1493 233.7 1493.1 228.9 1493.6 224.2 1494.4 219.5 1495.3 215 1496.2 210.6 1497.2 206.5 1498.7 203 1500.3 199.7 1502.3 197 1504.6 195.1 1506.8 193.7 1509.1 193 1511.5 193.2 1514.1 194.1 1516.7 195.4 1519.5 197.9 1523.4 201.3 1527.4 204.9 1531.4 208.9 1535.4 213.1 1539.4 217.6 1543.2 222.7 1547.4 228 1551.4 233.4 1555.1 238.6 1558.4 243.9 1561.3 249.3 1564 254.5 1566.5 259.8 1568.8 265.1 1571 270.4 1573 275.6 1574.8 281 1576.3 286.3 1577.6 291.6 1578.7 296.8 1579.5 301.1 1580.1 305.3 1580.4 309.5 1580.5 313.7 1580.3 318 1579.7 322.2 1578.9 326 1577.9 329.8 1576.6 333.2 1574.9 336.1 1573.2 338.8 1571.3 341.2 1569 343.3 1566 345.1 1562.6 346.7 1559.1 348.2 1555.2 349.4 1551.1 350.4 1547.2 350.9 1544.2 351.3 1541.3 351.5 1538.3 351.6 1534.4 351.6 1530.3 351.2 1526.2 350.2 1521.4 348.7 1516.5 347 1511.9 345.2 1507.8 343.3 1503.8 341.2 1500 338.9 1496.3 336.4 1492.8 333.6 1489.3 330.6 1485.7 327.4 1482.1 324.1 1478.6 321 1475.3 317.8 1472.2 314.6 1469.1 311.5 1466.2 308.3 1463.4 305.1 1460.8 302 1458.5 298.8 1456.3 295.6 1454.2 292.5 1452.2 289.3 1450.2 286.1 1448.3 282.9 1446.3 279.6 1444.3 276.6 1442.3 274.3 1440.8 272.1 1439.4 269.9 1437.9"/>
<path d="M304.6 1448.7L303.3 1451 302 1453.3 300.7 1455.8 299.4 1459.2 298.1 1462.9 296.9 1466.8 295.7 1471.3 294.6 1476 293.7 1481 292.9 1486.6 292.3 1492.4 291.8 1498.2 291.5 1504 291.3 1509.8 291.2 1515.5 291 1520.9 291 1526.2 291.2 1531.3 291.6 1535.6 292.2 1539.8 293.1 1543.8 293.9 1547.2 295 1550.5 296.3 1554 298.6 1559.6 301.3 1565.7 304.5 1571.4 307.6 1576.2 311 1580.6 315.1 1584.5 321 1588.3 327.8 1591.5 334.3 1593.7 339 1594.4 343.6 1594.5 348.2 1594.2 353.2 1593.7 358.3 1592.7 363.1 1591 367.4 1588.6 371.3 1585.5 374.8 1581.9 377.8 1577.4 380.3 1572.5 382.3 1567.5 383.6 1563.1 384.6 1558.7 385.1 1554 385.2 1547.7 384.7 1540.9 383.9 1534.4 382.9 1529 381.6 1523.8 380 1518.7 378.2 1513.4 376 1508.1 373.6 1503 370.9 1497.7 367.9 1492.6 364.7 1487.2 360.6 1480.6 356.3 1473.7 351.9 1466.8 347.6 1460 343.4 1453.1 339.1 1446.4 334.9 1439.9 330.6 1433.6 326.3 1427.5 322.1 1421.8 317.9 1416.3 313.5 1411 309.2 1406.1 304.9 1401.5 300.7 1397.6 298.1 1395.7 295.6 1394.2 293.1 1392.6"/>
<path d="M301.2 1450.7L300 1452.9 298.8 1455.1 297.6 1457.5 296.3 1460.8 295.1 1464.4 294 1468.1 292.8 1472.4 291.8 1477 291 1481.7 290.2 1487.1 289.6 1492.7 289.1 1498.3 288.8 1503.9 288.7 1509.5 288.5 1515 288.4 1520.1 288.4 1525.2 288.5 1530.1 289 1534.3 289.6 1538.3 290.4 1542.2 291.2 1545.5 292.1 1548.6 293.4 1552 295.5 1557.4 298.2 1563.2 301.1 1568.7 304.1 1573.3 307.3 1577.5 311.2 1581.3 316.8 1585 323.2 1588.1 329.3 1590.1 333.8 1590.8 338.1 1590.9 342.4 1590.6 347.2 1590.1 352 1589.2 356.5 1587.6 360.6 1585.3 364.3 1582.3 367.6 1578.8 370.4 1574.5 372.8 1569.7 374.6 1564.9 375.9 1560.7 376.8 1556.5 377.3 1552 377.4 1545.9 376.9 1539.4 376.1 1533.1 375.2 1527.9 374 1522.9 372.5 1518 370.7 1512.9 368.7 1507.9 366.5 1502.9 363.9 1497.9 361 1492.9 358 1487.7 354.2 1481.4 350 1474.7 345.9 1468.1 341.9 1461.5 337.9 1454.9 333.8 1448.4 329.9 1442.3 325.8 1436.2 321.8 1430.3 317.8 1424.8 313.8 1419.5 309.7 1414.4 305.6 1409.7 301.5 1405.3 297.6 1401.6 295.1 1399.7 292.7 1398.2 290.4 1396.7"/>
<path d="M298.6 1453.8L297.5 1455.8 296.3 1457.9 295.2 1460.2 293.9 1463.2 292.8 1466.6 291.7 1470.1 290.6 1474.2 289.7 1478.4 288.8 1482.9 288.1 1487.9 287.5 1493.2 287.1 1498.5 286.8 1503.7 286.6 1508.9 286.5 1514.1 286.4 1518.9 286.3 1523.7 286.5 1528.3 286.9 1532.2 287.5 1536 288.2 1539.6 289 1542.7 290 1545.6 291.1 1548.8 293.2 1553.9 295.7 1559.4 298.5 1564.5 301.3 1568.8 304.4 1572.8 308.1 1576.3 313.5 1579.8 319.6 1582.7 325.5 1584.6 329.7 1585.3 333.8 1585.3 337.9 1585.1 342.5 1584.6 347.1 1583.7 351.4 1582.2 355.3 1580 358.9 1577.2 362 1574 364.7 1570 366.9 1565.5 368.7 1561 370 1557 370.8 1553.1 371.3 1548.8 371.4 1543.1 370.9 1537 370.2 1531.1 369.3 1526.2 368.1 1521.5 366.7 1516.9 365 1512.1 363.1 1507.4 360.9 1502.7 358.5 1498 355.8 1493.4 352.9 1488.5 349.2 1482.6 345.2 1476.3 341.3 1470.1 337.5 1463.9 333.6 1457.7 329.8 1451.6 326 1445.9 322.1 1440.2 318.2 1434.6 314.5 1429.5 310.6 1424.5 306.7 1419.7 302.8 1415.3 298.9 1411.1 295.2 1407.7 292.8 1405.9 290.5 1404.5 288.2 1403.1"/>
<path d="M294.7 1455.5L293.7 1457.5 292.6 1459.5 291.5 1461.7 290.4 1464.7 289.3 1467.9 288.3 1471.2 287.3 1475.2 286.4 1479.3 285.6 1483.5 285 1488.4 284.4 1493.5 284 1498.5 283.7 1503.6 283.6 1508.6 283.5 1513.6 283.4 1518.2 283.3 1522.8 283.5 1527.2 283.9 1531 284.4 1534.6 285.1 1538.1 285.8 1541.1 286.7 1543.9 287.8 1547 289.7 1551.9 292 1557.1 294.7 1562.1 297.3 1566.2 300.1 1570.1 303.6 1573.5 308.5 1576.8 314.2 1579.6 319.7 1581.4 323.6 1582.1 327.4 1582.1 331.3 1581.9 335.5 1581.4 339.8 1580.6 343.8 1579.1 347.4 1577 350.7 1574.3 353.6 1571.2 356.2 1567.3 358.2 1563 359.9 1558.7 361 1554.9 361.8 1551.1 362.3 1547 362.4 1541.5 361.9 1535.6 361.2 1529.9 360.4 1525.3 359.3 1520.8 358 1516.3 356.4 1511.7 354.7 1507.2 352.6 1502.6 350.4 1498.1 347.8 1493.6 345.1 1489 341.7 1483.2 338.1 1477.2 334.4 1471.2 330.9 1465.3 327.3 1459.3 323.7 1453.5 320.2 1447.9 316.6 1442.4 313 1437.1 309.5 1432.2 305.9 1427.4 302.3 1422.8 298.7 1418.6 295 1414.5 291.5 1411.2 289.3 1409.5 287.2 1408.2 285.1 1406.8"/>
<path d="M291.1 1459.7L290.1 1461.5 289 1463.3 288.1 1465.3 287 1467.9 286 1470.9 285.1 1473.9 284.2 1477.5 283.3 1481.2 282.6 1485.1 282 1489.5 281.5 1494.1 281.1 1498.7 280.9 1503.3 280.7 1507.9 280.6 1512.4 280.5 1516.6 280.5 1520.8 280.6 1524.8 281 1528.2 281.5 1531.5 282.1 1534.7 282.8 1537.4 283.6 1540 284.6 1542.7 286.4 1547.2 288.5 1551.9 291 1556.4 293.4 1560.2 296.1 1563.7 299.3 1566.8 303.9 1569.8 309.1 1572.3 314.2 1574 317.9 1574.6 321.4 1574.6 325 1574.4 328.9 1574 332.9 1573.2 336.6 1571.9 339.9 1570 343 1567.5 345.7 1564.7 348.1 1561.2 350 1557.3 351.5 1553.3 352.6 1549.9 353.3 1546.4 353.8 1542.7 353.8 1537.7 353.4 1532.4 352.8 1527.2 352 1523 351 1518.9 349.8 1514.8 348.3 1510.7 346.7 1506.5 344.8 1502.5 342.7 1498.3 340.3 1494.3 337.8 1490.1 334.7 1484.8 331.3 1479.4 327.9 1473.9 324.6 1468.5 321.3 1463.1 317.9 1457.8 314.7 1452.8 311.3 1447.8 308 1442.9 304.7 1438.4 301.4 1434.1 298 1429.9 294.7 1426.1 291.3 1422.4 288.1 1419.4 286 1417.9 284.1 1416.6 282.1 1415.4"/>
<path d="M286.5 1463.5L285.6 1465.1 284.7 1466.8 283.8 1468.6 282.8 1471 281.9 1473.6 281.1 1476.4 280.3 1479.7 279.5 1483 278.9 1486.5 278.3 1490.6 277.9 1494.7 277.5 1498.9 277.3 1503 277.2 1507.2 277.1 1511.3 277 1515.1 276.9 1518.9 277.1 1522.5 277.4 1525.6 277.8 1528.6 278.4 1531.5 279 1533.9 279.7 1536.3 280.7 1538.8 282.3 1542.8 284.2 1547.1 286.4 1551.2 288.6 1554.6 291 1557.8 293.9 1560.6 298.1 1563.3 302.8 1565.6 307.4 1567.1 310.7 1567.7 313.9 1567.7 317.2 1567.5 320.7 1567.1 324.3 1566.4 327.7 1565.3 330.7 1563.5 333.5 1561.3 335.9 1558.7 338 1555.5 339.8 1552 341.2 1548.4 342.1 1545.3 342.8 1542.1 343.2 1538.8 343.2 1534.3 342.9 1529.4 342.3 1524.7 341.6 1520.9 340.7 1517.2 339.6 1513.5 338.3 1509.7 336.8 1506 335.1 1502.3 333.2 1498.5 331 1494.9 328.8 1491 325.9 1486.3 322.9 1481.4 319.8 1476.4 316.8 1471.5 313.8 1466.6 310.8 1461.8 307.8 1457.2 304.8 1452.7 301.8 1448.3 298.9 1444.3 295.9 1440.3 292.8 1436.5 289.8 1433 286.7 1429.7 283.8 1427 282 1425.6 280.2 1424.5 278.4 1423.4"/>
<path d="M281.2 1468.5L280.4 1469.9 279.6 1471.3 278.8 1472.8 278 1474.9 277.2 1477.2 276.5 1479.7 275.7 1482.4 275.1 1485.4 274.5 1488.4 274 1491.9 273.6 1495.5 273.3 1499.1 273.1 1502.7 273 1506.3 272.9 1509.8 272.8 1513.2 272.8 1516.4 272.9 1519.6 273.2 1522.3 273.6 1524.9 274.1 1527.4 274.6 1529.5 275.3 1531.5 276.1 1533.7 277.5 1537.2 279.2 1540.9 281.1 1544.4 283 1547.4 285.2 1550.1 287.7 1552.5 291.3 1554.9 295.5 1556.9 299.5 1558.2 302.4 1558.7 305.2 1558.7 308.1 1558.6 311.2 1558.2 314.3 1557.6 317.2 1556.6 319.9 1555.1 322.3 1553.2 324.5 1550.9 326.3 1548.2 327.8 1545.1 329.1 1542 329.9 1539.3 330.5 1536.6 330.8 1533.7 330.9 1529.8 330.6 1525.5 330 1521.5 329.4 1518.2 328.6 1515 327.7 1511.8 326.5 1508.5 325.2 1505.3 323.7 1502 322.1 1498.8 320.2 1495.6 318.2 1492.3 315.7 1488.2 313 1483.9 310.3 1479.7 307.7 1475.4 305.1 1471.2 302.5 1467 299.9 1463 297.3 1459.1 294.6 1455.3 292 1451.8 289.4 1448.4 286.7 1445.1 284.1 1442.1 281.4 1439.2 278.8 1436.8 277.2 1435.6 275.7 1434.7 274.1 1433.7"/>
<path d="M281.2 1451L292.7 1450.2 304.1 1446.9"/>
<path d="M278 1455.9L288.4 1455.1 298.8 1452.2"/>
<path d="M273.7 1461.3L282.9 1460.7 292 1458.1"/>
</g>
<text x="376" y="1943" font-family='"Liberation Serif",serif' font-size="29.5" fill="#262626" text-anchor="middle" font-style="italic" font-weight="bold">z</text>
<text x="14.2" y="1621.5" font-family='"Liberation Serif",serif' font-size="29.5" fill="#262626" text-anchor="middle" font-style="italic" font-weight="bold" transform="rotate(-90 14.2 1621.5)">x</text>
<text x="362" y="1993.5" font-family='"Liberation Serif",serif' font-size="45" fill="#111" text-anchor="middle">(e)</text>
<path d="M946.1 1873v-7.7M946.1 1369.8v7.7M1104 1873v-7.7M1104 1369.8v7.7M1261.8 1873v-7.7M1261.8 1369.8v7.7M1419.7 1873v-7.7M1419.7 1369.8v7.7M867.2 1425.7h7.7M1498.6 1425.7h-7.7M867.2 1481.6h7.7M1498.6 1481.6h-7.7M867.2 1537.5h7.7M1498.6 1537.5h-7.7M867.2 1593.4h7.7M1498.6 1593.4h-7.7M867.2 1649.4h7.7M1498.6 1649.4h-7.7M867.2 1705.3h7.7M1498.6 1705.3h-7.7M867.2 1761.2h7.7M1498.6 1761.2h-7.7M867.2 1817.1h7.7M1498.6 1817.1h-7.7" stroke="#262626" stroke-width="2.5" fill="none"/>
<rect x="867.2" y="1369.8" width="631.4" height="503.2" fill="none" stroke="#262626" stroke-width="2.8"/>
<g font-family='"Liberation Serif",serif' font-weight="bold" font-size="29.8" fill="#262626">
<g text-anchor="middle">
<text x="946.1" y="1908">-2</text>
<text x="1104" y="1908">0</text>
<text x="1261.8" y="1908">2</text>
<text x="1419.7" y="1908">4</text>
</g><g text-anchor="end">
<text x="856.7" y="1379.8">0.5</text>
<text x="856.7" y="1435.7">0</text>
<text x="856.7" y="1491.6">-0.5</text>
<text x="856.7" y="1547.5">-1</text>
<text x="856.7" y="1603.4">-1.5</text>
<text x="856.7" y="1659.3">-2</text>
<text x="856.7" y="1715.2">-2.5</text>
<text x="856.7" y="1771.2">-3</text>
<text x="856.7" y="1827.1">-3.5</text>
<text x="856.7" y="1883">-4</text>
</g></g>
<g clip-path="url(#cf)" fill="none" stroke="#00ff00" stroke-linejoin="round" stroke-width="3.2">
<path d="M1077.1 1398.7L1079.4 1399 1081.8 1399.8 1084.2 1401.1 1086.5 1402.6 1088.8 1404.3 1091 1406.1 1093.1 1408.1 1095.2 1410.3 1097.3 1412.9 1099.4 1415.9 1102.5 1421 1105.7 1427 1108.8 1433.5 1111.7 1440.4 1114.2 1447.3 1116.3 1454.5 1118.3 1462.1 1119.9 1469.8 1121 1477.2 1121.5 1483.8 1121.4 1488.2 1121 1492.4 1120.4 1496.4 1119.4 1499.9 1118.1 1503 1116.7 1505.4 1115 1507.4 1113 1509.1 1111 1510.6 1109 1511.9 1107.2 1512.9 1105.4 1513.6 1103.5 1514.2 1101.6 1514.7 1099.4 1515.2 1095.9 1515.7 1091.9 1516.1 1087.7 1516.4 1083.5 1516.4 1079.4 1516.3 1075.5 1515.9 1071.4 1515.4 1067.4 1514.7 1063.6 1513.9 1060 1513 1057.2 1512.2 1054.4 1511.3 1051.8 1510.3 1049.4 1509.3 1047.5 1508.1 1046.5 1507.3 1045.6 1506.5 1044.7 1505.7 1044.2 1504.9 1044 1504.1 1044.3 1503.5 1045 1502.8 1046 1502.2 1047.1 1501.7 1048.3 1501.4 1050.8 1501.1 1053.9 1501.2 1057.4 1501.7 1061 1502.3 1064.7 1503 1069.3 1504.1 1074.2 1505.6 1079.2 1507.2 1084.4 1509 1089.6 1510.8 1095.3 1512.7 1101.2 1514.8 1107.2 1516.9 1113.2 1519.3 1119.2 1521.8 1125.1 1524.5 1131 1527.5 1137 1530.6 1142.9 1533.8 1148.7 1537.2 1154.7 1540.9 1160.8 1544.7 1166.8 1548.7 1172.6 1552.9 1178.3 1557.1 1183.6 1561.2 1188.8 1565.4 1193.8 1569.7 1198.7 1574.2 1203.2 1578.7 1207.1 1582.8 1210.9 1586.8 1214.5 1591 1217.7 1595.4 1220.4 1600.1 1222.5 1604.8 1224.4 1609.7 1225.9 1614.9 1226.9 1620 1227.4 1624.9 1227.3 1629.4 1226.7 1633.9 1225.8 1638.3 1224.4 1642.5 1222.7 1646.4 1220.2 1650.6 1217 1654.4 1213.5 1657.9 1209.6 1661.1 1205.6 1664.1 1200.7 1667.2 1195.3 1670 1189.7 1672.4 1184 1674.4 1178.3 1676.2 1172.4 1677.7 1166.3 1678.7 1160.2 1679.5 1154.3 1680.1 1148.7 1680.6 1144.6 1681 1140.7 1681.4 1137 1681.6 1133.1 1681.7 1129 1681.7 1123.5 1681.6 1117.7 1681.4 1111.8 1681 1105.6 1680.4 1099.4 1679.5 1091.8 1678.1 1084 1676.4 1076 1674.3 1067.9 1672.1 1060 1669.6 1052 1666.9 1043.9 1663.9 1035.9 1660.7 1028 1657.4 1020.3 1654.2 1013.2 1651.2 1006.4 1648.3 999.6 1645.3 992.8 1642.1 986 1638.7 979 1634.9 971.9 1630.9 964.9 1626.6 957.9 1622.2 951 1617.8 943.9 1613.1 936.8 1608.4 929.8 1603.5 923 1598.5 916.7 1593.5 911.6 1589.3 906.7 1585 902 1580.7 897.8 1576.2 894.1 1571.4 891.5 1567.2 889 1562.7 886.9 1558.1 885.4 1553.6 884.8 1549.4 885 1546.2 885.6 1543.2 886.7 1540.3 888 1537.5 889.5 1535 891.4 1532.5 893.6 1530.4 896.2 1528.5 899 1526.7 901.9 1525.1 906.2 1523.2 911 1521.5 916.1 1520.2 921.4 1519 926.8 1517.9 933.3 1516.9 940 1516.1 946.9 1515.4 954 1515 961.1 1514.5 968.9 1514.1 976.8 1513.8 984.8 1513.6 992.8 1513.5 1000.8 1513.5 1008.7 1513.5 1016.5 1513.7 1024.4 1513.8 1032.3 1514.1 1040.1 1514.5 1047.9 1515 1055.7 1515.6 1063.5 1516.2 1071.4 1517 1079.6 1517.9 1089.1 1519.1 1099 1520.5 1109 1521.9 1119 1523.5 1129 1525.1 1138.8 1526.7 1148.7 1528.4 1158.6 1530.2 1168.5 1532 1178.3 1533.9 1188.2 1535.9 1198 1537.9 1207.8 1540 1217.6 1542.2 1227.4 1544.6 1237.4 1547.3 1247.5 1550.1 1257.5 1553 1267.4 1556.1 1277.2 1559.3 1286.2 1562.4 1295.1 1565.6 1303.9 1568.9 1312.6 1572.5 1321.6 1576.3 1331.4 1580.7 1341.5 1585.3 1351.6 1590.2 1361.4 1595.3 1370.6 1600.6 1378.2 1605.2 1385.4 1610 1392.4 1614.9 1399.1 1619.8 1405.7 1624.9 1411.5 1629.5 1417.2 1634.2 1422.7 1638.9 1428 1643.9 1432.9 1649.2 1437.3 1654.6 1441.6 1660.3 1445.5 1666.2 1449.1 1672.3 1452.4 1678.4 1455 1684.1 1457.4 1689.8 1459.5 1695.7 1461.2 1701.7 1462.5 1707.7 1463.4 1713.4 1464 1719.3 1464.3 1725.2 1464.2 1731.1 1463.7 1736.9 1462.7 1742.8 1461.3 1748.6 1459.4 1754.4 1457.3 1760.1 1454.7 1765.6 1451.3 1771.9 1447.4 1778.1 1443 1784.1 1438.2 1789.9 1432.9 1795.4 1425.7 1801.8 1417.7 1808 1409 1813.7 1400 1819.1 1390.9 1824 1380.5 1829 1369.6 1833.5 1358.5 1837.5 1347.3 1840.9 1336.4 1843.9 1326.3 1846.1 1316.2 1847.8 1306.2 1849 1296.4 1850.1 1286.9 1851.1 1278.9 1851.9 1271.1 1852.7 1263.5 1853.3 1255.7 1853.7 1247.6 1853.8 1238 1853.7 1228.1 1853.3 1218 1852.6 1207.8 1851.6 1197.8 1850.5 1187.9 1849.2 1178.1 1847.7 1168.3 1845.9 1158.5 1843.9 1148.7 1841.7 1138.8 1839.2 1128.7 1836.5 1118.7 1833.5 1108.8 1830.3 1099.4 1826.8 1091.1 1823.4 1082.9 1819.9 1075 1816 1067.3 1811.9 1060 1807.5 1053.6 1803.2 1047.4 1798.6 1041.5 1793.8 1035.8 1788.7 1030.4 1783.2 1025.4 1777.8 1020.6 1772.1 1016.1 1766.1 1011.8 1759.9 1007.8 1753.4 1004.3 1747.1 1001.1 1740.5 998.1 1733.8 995.4 1726.9 993 1719.8 991 1712.5 989.4 1704.9 988 1697.3 986.9 1689.8 986 1682.8 985.5 1677.8 985.1 1673.1 984.9 1668.6 984.8 1663.8 984.8 1658.6 985.1 1650.7 985.5 1642.2 986.2 1633.3 987.2 1624.3 988.3 1615.6 989.9 1606.6 991.7 1597.7 993.7 1588.8 995.9 1580 998.2 1571.4 1000.4 1563.5 1002.8 1555.7 1005.3 1548 1007.9 1540.4 1010.5 1532.5 1013.3 1523.8 1016.2 1515 1019.3 1506.1 1022.3 1497.3 1025.3 1488.7 1028.2 1480.6 1031.1 1472.6 1034.1 1464.7 1037 1457.1 1040.1 1449.8 1043 1443.4 1045.9 1437.2 1048.9 1431.3 1051.9 1425.8 1054.9 1420.6 1057.4 1416.7 1059.8 1412.9 1062.3 1409.4 1064.7 1406.3 1067.2 1403.8 1069.2 1402.1 1071.1 1400.7 1073.1 1399.7 1075.1 1398.9Z"/>
<path d="M1077.3 1398.3L1079.6 1398.6 1082 1399.5 1084.4 1400.8 1086.7 1402.3 1089 1404 1091.2 1405.8 1093.4 1407.8 1095.5 1410 1097.5 1412.6 1099.6 1415.6 1102.7 1420.7 1105.9 1426.7 1109.1 1433.3 1112 1440.2 1114.5 1447.1 1116.6 1454.3 1118.6 1462 1120.2 1469.7 1121.4 1477.1 1121.8 1483.7 1121.7 1488.1 1121.3 1492.4 1120.7 1496.3 1119.7 1499.9 1118.4 1503 1117 1505.4 1115.3 1507.4 1113.3 1509.1 1111.3 1510.6 1109.3 1511.8 1107.5 1512.9 1105.7 1513.6 1103.8 1514.2 1101.8 1514.7 1099.6 1515.2 1096.1 1515.7 1092.1 1516.1 1088 1516.4 1083.7 1516.4 1079.6 1516.3 1075.6 1515.9 1071.6 1515.4 1067.6 1514.7 1063.7 1513.9 1060.1 1513 1057.3 1512.1 1054.5 1511.3 1051.9 1510.3 1049.5 1509.2 1047.6 1508.1 1046.6 1507.3 1045.6 1506.5 1044.8 1505.6 1044.3 1504.8 1044.1 1504.1 1044.4 1503.4 1045.1 1502.8 1046.1 1502.2 1047.2 1501.7 1048.4 1501.3 1050.9 1501 1054 1501.2 1057.5 1501.6 1061.1 1502.3 1064.8 1503 1069.4 1504.1 1074.3 1505.5 1079.4 1507.2 1084.6 1508.9 1089.8 1510.7 1095.6 1512.7 1101.5 1514.8 1107.5 1517 1113.5 1519.3 1119.5 1521.8 1125.4 1524.6 1131.4 1527.5 1137.3 1530.6 1143.2 1533.9 1149.1 1537.3 1155.2 1541 1161.2 1544.8 1167.2 1548.8 1173.1 1553 1178.8 1557.2 1184.1 1561.3 1189.3 1565.6 1194.4 1569.9 1199.2 1574.3 1203.8 1578.9 1207.7 1583 1211.5 1587 1215.1 1591.2 1218.3 1595.6 1221 1600.4 1223.1 1605 1225 1610 1226.5 1615.2 1227.6 1620.3 1228 1625.3 1227.9 1629.7 1227.4 1634.3 1226.4 1638.7 1225 1642.9 1223.3 1646.8 1220.8 1651 1217.6 1654.8 1214.1 1658.3 1210.2 1661.6 1206.2 1664.5 1201.2 1667.7 1195.9 1670.4 1190.3 1672.8 1184.5 1674.9 1178.8 1676.7 1172.9 1678.2 1166.8 1679.2 1160.7 1680 1154.7 1680.6 1149.1 1681.1 1145 1681.5 1141.1 1681.9 1137.3 1682.1 1133.5 1682.2 1129.3 1682.2 1123.8 1682.2 1118.1 1681.9 1112.1 1681.5 1105.9 1680.9 1099.6 1680 1092.1 1678.6 1084.2 1676.9 1076.2 1674.8 1068.1 1672.5 1060.1 1670.1 1052.1 1667.3 1044 1664.3 1036 1661.1 1028 1657.8 1020.3 1654.6 1013.2 1651.6 1006.3 1648.7 999.5 1645.7 992.7 1642.5 985.9 1639.1 978.9 1635.3 971.8 1631.2 964.8 1627 957.7 1622.6 950.8 1618.1 943.7 1613.4 936.6 1608.7 929.5 1603.8 922.7 1598.8 916.4 1593.7 911.3 1589.5 906.3 1585.2 901.7 1580.9 897.4 1576.4 893.8 1571.6 891.1 1567.3 888.6 1562.8 886.5 1558.2 885 1553.7 884.4 1549.5 884.6 1546.3 885.2 1543.3 886.3 1540.3 887.6 1537.6 889.1 1535.1 891 1532.6 893.3 1530.4 895.8 1528.5 898.6 1526.8 901.6 1525.1 905.9 1523.2 910.7 1521.6 915.8 1520.2 921.1 1519 926.6 1517.9 933 1516.9 939.8 1516.1 946.7 1515.4 953.8 1515 960.9 1514.5 968.7 1514.1 976.7 1513.8 984.7 1513.6 992.8 1513.5 1000.8 1513.5 1008.7 1513.5 1016.5 1513.6 1024.4 1513.8 1032.3 1514.1 1040.2 1514.5 1048 1515 1055.8 1515.6 1063.6 1516.2 1071.6 1517 1079.8 1517.9 1089.3 1519.1 1099.2 1520.5 1109.2 1522 1119.3 1523.5 1129.3 1525.1 1139.2 1526.8 1149.1 1528.5 1159 1530.2 1168.9 1532.1 1178.8 1534 1188.7 1535.9 1198.5 1538 1208.3 1540.1 1218.2 1542.3 1228 1544.7 1238.1 1547.4 1248.2 1550.2 1258.2 1553.1 1268.2 1556.2 1278 1559.4 1287.1 1562.6 1295.9 1565.8 1304.7 1569.1 1313.5 1572.6 1322.5 1576.5 1332.4 1580.9 1342.5 1585.5 1352.6 1590.5 1362.4 1595.6 1371.7 1600.8 1379.3 1605.5 1386.5 1610.2 1393.5 1615.2 1400.3 1620.2 1406.9 1625.3 1412.7 1629.9 1418.4 1634.5 1424 1639.3 1429.2 1644.3 1434.2 1649.6 1438.6 1655 1442.8 1660.7 1446.8 1666.7 1450.5 1672.7 1453.7 1678.9 1456.3 1684.6 1458.7 1690.4 1460.8 1696.3 1462.5 1702.2 1463.9 1708.2 1464.8 1714 1465.4 1719.9 1465.7 1725.9 1465.6 1731.8 1465 1737.6 1464.1 1743.5 1462.6 1749.3 1460.8 1755.1 1458.6 1760.8 1456.1 1766.3 1452.6 1772.7 1448.7 1778.9 1444.3 1784.9 1439.5 1790.7 1434.2 1796.2 1426.9 1802.7 1418.9 1808.9 1410.2 1814.6 1401.2 1820 1392 1825 1381.6 1830 1370.7 1834.4 1359.5 1838.4 1348.3 1841.9 1337.4 1844.9 1327.2 1847.1 1317.1 1848.8 1307.1 1850.1 1297.3 1851.1 1287.8 1852.1 1279.7 1853 1271.9 1853.7 1264.2 1854.3 1256.4 1854.7 1248.3 1854.9 1238.7 1854.7 1228.7 1854.3 1218.6 1853.6 1208.4 1852.7 1198.3 1851.5 1188.5 1850.2 1178.6 1848.7 1168.8 1846.9 1159 1844.9 1149.1 1842.7 1139.1 1840.2 1129 1837.5 1119 1834.5 1109.1 1831.3 1099.6 1827.7 1091.3 1824.4 1083.1 1820.8 1075.2 1817 1067.5 1812.9 1060.1 1808.4 1053.7 1804 1047.5 1799.5 1041.6 1794.6 1035.9 1789.5 1030.4 1784 1025.4 1778.6 1020.6 1772.8 1016.1 1766.8 1011.8 1760.6 1007.8 1754.2 1004.3 1747.8 1001 1741.2 998 1734.5 995.3 1727.5 992.9 1720.4 991 1713.1 989.3 1705.5 987.9 1697.8 986.8 1690.4 985.9 1683.4 985.4 1678.3 985 1673.6 984.8 1669 984.7 1664.2 984.7 1659 985 1651.2 985.5 1642.6 986.2 1633.7 987.1 1624.7 988.3 1615.9 989.8 1606.9 991.6 1598 993.6 1589 995.8 1580.2 998.1 1571.6 1000.4 1563.6 1002.8 1555.8 1005.3 1548.1 1007.8 1540.4 1010.4 1532.5 1013.3 1523.9 1016.2 1515 1019.3 1506.1 1022.3 1497.2 1025.4 1488.6 1028.3 1480.5 1031.2 1472.5 1034.1 1464.5 1037.1 1456.9 1040.2 1449.6 1043.1 1443.2 1046 1437 1049 1431.1 1052 1425.5 1055 1420.3 1057.5 1416.4 1059.9 1412.5 1062.4 1409 1064.9 1405.9 1067.4 1403.4 1069.3 1401.8 1071.3 1400.4 1073.3 1399.3 1075.2 1398.6Z"/>
<path d="M1077.5 1398L1079.8 1398.3 1082.2 1399.1 1084.6 1400.4 1087 1402 1089.2 1403.6 1091.5 1405.4 1093.6 1407.4 1095.7 1409.7 1097.8 1412.3 1099.9 1415.3 1103 1420.4 1106.2 1426.4 1109.4 1433 1112.3 1440 1114.8 1446.9 1116.9 1454.1 1118.9 1461.8 1120.5 1469.5 1121.7 1477 1122.1 1483.6 1122 1488.1 1121.7 1492.3 1121 1496.2 1120 1499.8 1118.8 1503 1117.3 1505.3 1115.6 1507.3 1113.6 1509.1 1111.6 1510.5 1109.6 1511.8 1107.8 1512.9 1106 1513.6 1104.1 1514.2 1102.1 1514.7 1099.9 1515.2 1096.3 1515.7 1092.4 1516.1 1088.2 1516.4 1083.9 1516.4 1079.8 1516.3 1075.8 1515.9 1071.7 1515.4 1067.7 1514.7 1063.9 1513.9 1060.2 1512.9 1057.4 1512.1 1054.6 1511.3 1052 1510.3 1049.6 1509.2 1047.7 1508.1 1046.7 1507.3 1045.7 1506.5 1044.9 1505.6 1044.4 1504.8 1044.2 1504.1 1044.5 1503.4 1045.2 1502.7 1046.2 1502.2 1047.3 1501.7 1048.5 1501.3 1051 1501 1054.1 1501.1 1057.6 1501.6 1061.3 1502.2 1064.9 1503 1069.6 1504.1 1074.5 1505.5 1079.6 1507.2 1084.8 1508.9 1090 1510.7 1095.8 1512.7 1101.8 1514.8 1107.8 1517 1113.8 1519.3 1119.8 1521.8 1125.8 1524.6 1131.7 1527.5 1137.7 1530.7 1143.6 1533.9 1149.5 1537.4 1155.6 1541 1161.6 1544.9 1167.7 1548.9 1173.6 1553.1 1179.3 1557.3 1184.6 1561.5 1189.8 1565.7 1194.9 1570.1 1199.8 1574.5 1204.4 1579.1 1208.3 1583.2 1212.1 1587.3 1215.7 1591.5 1218.9 1595.9 1221.6 1600.6 1223.7 1605.3 1225.6 1610.3 1227.1 1615.5 1228.2 1620.6 1228.7 1625.6 1228.6 1630.1 1228 1634.6 1227 1639.1 1225.7 1643.3 1224 1647.2 1221.4 1651.4 1218.3 1655.2 1214.6 1658.7 1210.8 1662 1206.7 1665 1201.8 1668.1 1196.4 1670.9 1190.8 1673.3 1185 1675.4 1179.3 1677.2 1173.4 1678.7 1167.2 1679.7 1161.1 1680.5 1155.1 1681.1 1149.5 1681.6 1145.4 1682.1 1141.5 1682.4 1137.7 1682.6 1133.8 1682.7 1129.6 1682.8 1124.1 1682.7 1118.4 1682.4 1112.4 1682 1106.2 1681.4 1099.9 1680.5 1092.3 1679.1 1084.4 1677.4 1076.3 1675.3 1068.2 1673 1060.2 1670.5 1052.2 1667.8 1044.1 1664.8 1036 1661.6 1028.1 1658.3 1020.3 1655 1013.2 1652 1006.3 1649.1 999.5 1646.1 992.7 1642.9 985.8 1639.5 978.7 1635.6 971.7 1631.6 964.6 1627.3 957.6 1622.9 950.6 1618.4 943.5 1613.7 936.3 1608.9 929.3 1604 922.5 1599 916.1 1594 911 1589.7 906 1585.5 901.3 1581.1 897.1 1576.6 893.4 1571.8 890.7 1567.5 888.2 1563 886.1 1558.3 884.6 1553.8 884 1549.6 884.2 1546.4 884.8 1543.4 885.9 1540.4 887.2 1537.7 888.7 1535.1 890.6 1532.7 892.9 1530.5 895.5 1528.5 898.3 1526.8 901.2 1525.2 905.6 1523.2 910.4 1521.6 915.5 1520.2 920.9 1519 926.3 1517.9 932.8 1516.9 939.5 1516.1 946.5 1515.4 953.6 1515 960.8 1514.5 968.6 1514.1 976.5 1513.8 984.6 1513.6 992.7 1513.5 1000.7 1513.5 1008.6 1513.5 1016.5 1513.6 1024.4 1513.8 1032.4 1514.1 1040.3 1514.5 1048.1 1515 1055.9 1515.6 1063.8 1516.2 1071.8 1517 1080 1517.9 1089.6 1519.1 1099.5 1520.5 1109.5 1522 1119.6 1523.6 1129.6 1525.2 1139.6 1526.8 1149.5 1528.5 1159.5 1530.3 1169.4 1532.1 1179.3 1534 1189.2 1536 1199.1 1538 1208.9 1540.1 1218.8 1542.4 1228.7 1544.8 1238.7 1547.5 1248.9 1550.3 1259 1553.2 1269 1556.3 1278.8 1559.6 1287.9 1562.7 1296.8 1565.9 1305.6 1569.3 1314.4 1572.8 1323.4 1576.7 1333.3 1581.1 1343.5 1585.8 1353.6 1590.7 1363.5 1595.8 1372.8 1601.1 1380.4 1605.7 1387.6 1610.5 1394.7 1615.5 1401.4 1620.5 1408 1625.6 1413.9 1630.2 1419.6 1634.9 1425.2 1639.6 1430.5 1644.6 1435.5 1650 1439.9 1655.4 1444.1 1661.2 1448.1 1667.1 1451.8 1673.2 1455 1679.4 1457.7 1685.1 1460.1 1690.9 1462.1 1696.8 1463.9 1702.8 1465.2 1708.8 1466.1 1714.6 1466.8 1720.6 1467 1726.5 1466.9 1732.4 1466.4 1738.2 1465.4 1744.2 1464 1750 1462.1 1755.9 1459.9 1761.5 1457.4 1767.1 1454 1773.5 1450 1779.7 1445.6 1785.7 1440.7 1791.5 1435.5 1797.1 1428.2 1803.6 1420.1 1809.8 1411.4 1815.6 1402.3 1821 1393.2 1825.9 1382.7 1830.9 1371.8 1835.4 1360.5 1839.4 1349.3 1842.9 1338.3 1845.9 1328.2 1848.1 1318 1849.8 1308 1851.1 1298.1 1852.1 1288.6 1853.1 1280.5 1854 1272.7 1854.7 1265 1855.3 1257.2 1855.7 1249 1855.9 1239.4 1855.7 1229.4 1855.3 1219.2 1854.6 1209 1853.7 1198.9 1852.6 1189 1851.2 1179.1 1849.7 1169.2 1847.9 1159.4 1845.9 1149.5 1843.7 1139.5 1841.2 1129.4 1838.4 1119.3 1835.5 1109.4 1832.2 1099.9 1828.7 1091.5 1825.3 1083.3 1821.7 1075.3 1817.9 1067.6 1813.8 1060.2 1809.3 1053.8 1804.9 1047.6 1800.3 1041.7 1795.5 1036 1790.3 1030.5 1784.9 1025.5 1779.4 1020.6 1773.6 1016.1 1767.6 1011.7 1761.4 1007.8 1754.9 1004.2 1748.5 1001 1741.9 998 1735.1 995.2 1728.2 992.9 1721 990.9 1713.7 989.2 1706.1 987.8 1698.4 986.7 1690.9 985.8 1683.9 985.3 1678.8 984.9 1674.1 984.7 1669.5 984.6 1664.7 984.6 1659.4 984.9 1651.6 985.4 1643 986.1 1634 987 1625 988.2 1616.2 989.7 1607.2 991.5 1598.2 993.6 1589.2 995.8 1580.4 998 1571.8 1000.3 1563.8 1002.7 1556 1005.2 1548.2 1007.8 1540.5 1010.4 1532.6 1013.3 1523.9 1016.2 1515 1019.3 1506 1022.3 1497.2 1025.4 1488.5 1028.3 1480.4 1031.2 1472.3 1034.2 1464.4 1037.2 1456.7 1040.3 1449.4 1043.1 1443 1046.1 1436.8 1049.1 1430.8 1052.1 1425.2 1055.1 1420.1 1057.6 1416.1 1060.1 1412.2 1062.5 1408.7 1065 1405.6 1067.5 1403.1 1069.5 1401.4 1071.4 1400 1073.4 1399 1075.4 1398.2Z"/>
<path d="M1077.7 1397.6L1080 1397.9 1082.4 1398.8 1084.8 1400.1 1087.2 1401.6 1089.4 1403.3 1091.7 1405.1 1093.8 1407.1 1095.9 1409.4 1098 1412 1100.1 1415 1103.2 1420.1 1106.5 1426.1 1109.6 1432.8 1112.6 1439.8 1115.1 1446.7 1117.2 1453.9 1119.2 1461.6 1120.9 1469.4 1122 1476.8 1122.4 1483.6 1122.4 1488 1122 1492.2 1121.3 1496.2 1120.3 1499.8 1119.1 1502.9 1117.6 1505.3 1115.9 1507.3 1113.9 1509 1111.9 1510.5 1109.9 1511.8 1108 1512.8 1106.2 1513.6 1104.3 1514.2 1102.3 1514.7 1100.1 1515.2 1096.6 1515.7 1092.6 1516.1 1088.4 1516.4 1084.1 1516.4 1080 1516.3 1076 1515.9 1071.9 1515.4 1067.9 1514.7 1064 1513.9 1060.4 1512.9 1057.5 1512.1 1054.7 1511.2 1052.1 1510.3 1049.7 1509.2 1047.8 1508 1046.8 1507.3 1045.8 1506.4 1045 1505.6 1044.4 1504.8 1044.3 1504 1044.6 1503.4 1045.3 1502.7 1046.2 1502.1 1047.4 1501.6 1048.6 1501.3 1051.1 1501 1054.2 1501.1 1057.7 1501.5 1061.4 1502.2 1065.1 1502.9 1069.8 1504 1074.7 1505.5 1079.8 1507.1 1085 1508.9 1090.2 1510.7 1096.1 1512.7 1102 1514.8 1108.1 1517 1114.1 1519.3 1120.1 1521.8 1126.1 1524.6 1132.1 1527.6 1138.1 1530.7 1144 1534 1149.9 1537.4 1156 1541.1 1162.1 1545 1168.1 1549 1174 1553.2 1179.8 1557.5 1185.1 1561.6 1190.4 1565.9 1195.5 1570.2 1200.3 1574.7 1204.9 1579.3 1208.9 1583.4 1212.7 1587.5 1216.3 1591.7 1219.5 1596.1 1222.2 1600.9 1224.4 1605.6 1226.3 1610.6 1227.8 1615.8 1228.8 1620.9 1229.3 1625.9 1229.2 1630.4 1228.6 1635 1227.7 1639.4 1226.3 1643.7 1224.6 1647.6 1222 1651.8 1218.9 1655.6 1215.2 1659.2 1211.3 1662.4 1207.3 1665.4 1202.3 1668.6 1197 1671.4 1191.3 1673.8 1185.5 1675.9 1179.8 1677.7 1173.8 1679.2 1167.7 1680.2 1161.5 1681 1155.6 1681.6 1149.9 1682.1 1145.8 1682.6 1141.9 1682.9 1138.1 1683.1 1134.2 1683.2 1130 1683.3 1124.5 1683.2 1118.7 1682.9 1112.6 1682.5 1106.5 1681.9 1100.1 1681 1092.5 1679.6 1084.6 1677.9 1076.5 1675.8 1068.4 1673.5 1060.4 1671 1052.3 1668.3 1044.2 1665.2 1036.1 1662 1028.1 1658.7 1020.3 1655.4 1013.2 1652.5 1006.3 1649.5 999.4 1646.5 992.6 1643.3 985.7 1639.8 978.6 1636 971.5 1631.9 964.4 1627.6 957.4 1623.2 950.4 1618.7 943.3 1614 936.1 1609.2 929 1604.3 922.2 1599.3 915.8 1594.2 910.7 1589.9 905.7 1585.7 901 1581.3 896.7 1576.8 893 1571.9 890.3 1567.7 887.8 1563.1 885.7 1558.5 884.2 1553.9 883.6 1549.7 883.8 1546.5 884.4 1543.4 885.5 1540.5 886.8 1537.7 888.3 1535.2 890.2 1532.7 892.5 1530.5 895.1 1528.6 897.9 1526.8 900.9 1525.2 905.2 1523.2 910 1521.6 915.2 1520.2 920.6 1519 926 1518 932.5 1516.9 939.3 1516.1 946.3 1515.5 953.4 1515 960.6 1514.5 968.4 1514.1 976.4 1513.8 984.5 1513.6 992.6 1513.5 1000.7 1513.5 1008.6 1513.5 1016.5 1513.6 1024.5 1513.8 1032.4 1514.1 1040.3 1514.5 1048.2 1515 1056.1 1515.6 1063.9 1516.2 1071.9 1517 1080.2 1518 1089.8 1519.1 1099.7 1520.5 1109.8 1522 1119.9 1523.6 1130 1525.2 1140 1526.8 1149.9 1528.5 1159.9 1530.3 1169.9 1532.2 1179.8 1534.1 1189.7 1536.1 1199.6 1538.1 1209.5 1540.2 1219.4 1542.5 1229.3 1544.9 1239.4 1547.5 1249.6 1550.4 1259.7 1553.3 1269.7 1556.5 1279.6 1559.7 1288.7 1562.8 1297.6 1566.1 1306.5 1569.4 1315.3 1573 1324.4 1576.8 1334.3 1581.3 1344.5 1586 1354.6 1590.9 1364.5 1596.1 1373.9 1601.3 1381.5 1606 1388.8 1610.8 1395.8 1615.8 1402.6 1620.8 1409.2 1625.9 1415.1 1630.6 1420.9 1635.2 1426.4 1640 1431.7 1645 1436.7 1650.4 1441.2 1655.9 1445.4 1661.6 1449.4 1667.6 1453.1 1673.7 1456.4 1679.9 1459 1685.6 1461.4 1691.4 1463.5 1697.4 1465.2 1703.4 1466.6 1709.4 1467.5 1715.2 1468.1 1721.2 1468.4 1727.2 1468.3 1733.1 1467.8 1738.9 1466.8 1744.9 1465.3 1750.8 1463.5 1756.6 1461.3 1762.3 1458.7 1767.9 1455.3 1774.2 1451.3 1780.5 1446.9 1786.5 1442 1792.4 1436.7 1797.9 1429.4 1804.5 1421.3 1810.7 1412.6 1816.5 1403.5 1821.9 1394.3 1826.9 1383.8 1831.9 1372.8 1836.4 1361.6 1840.4 1350.3 1843.9 1339.3 1846.9 1329.1 1849.1 1318.9 1850.8 1308.9 1852.1 1299 1853.1 1289.4 1854.1 1281.3 1855 1273.4 1855.8 1265.7 1856.4 1257.9 1856.8 1249.7 1856.9 1240 1856.8 1230 1856.3 1219.8 1855.6 1209.6 1854.7 1199.4 1853.6 1189.5 1852.2 1179.6 1850.7 1169.7 1848.9 1159.8 1846.9 1149.9 1844.7 1139.9 1842.2 1129.7 1839.4 1119.6 1836.4 1109.7 1833.2 1100.1 1829.6 1091.7 1826.2 1083.5 1822.6 1075.5 1818.8 1067.8 1814.7 1060.4 1810.2 1053.9 1805.8 1047.7 1801.2 1041.7 1796.3 1036 1791.1 1030.5 1785.7 1025.5 1780.2 1020.7 1774.4 1016.1 1768.4 1011.7 1762.1 1007.7 1755.6 1004.2 1749.2 1000.9 1742.6 997.9 1735.8 995.2 1728.8 992.8 1721.7 990.8 1714.3 989.1 1706.7 987.7 1699 986.6 1691.4 985.7 1684.4 985.2 1679.3 984.8 1674.6 984.6 1670 984.5 1665.1 984.6 1659.9 984.8 1652 985.3 1643.4 986 1634.4 986.9 1625.3 988.1 1616.5 989.6 1607.5 991.4 1598.5 993.5 1589.5 995.7 1580.6 998 1571.9 1000.3 1563.9 1002.7 1556.1 1005.2 1548.3 1007.8 1540.6 1010.4 1532.6 1013.3 1523.9 1016.2 1515 1019.3 1506 1022.3 1497.1 1025.4 1488.5 1028.3 1480.3 1031.3 1472.2 1034.2 1464.2 1037.2 1456.5 1040.3 1449.2 1043.2 1442.8 1046.2 1436.5 1049.2 1430.6 1052.2 1424.9 1055.3 1419.8 1057.7 1415.8 1060.2 1411.9 1062.7 1408.4 1065.2 1405.3 1067.7 1402.7 1069.6 1401.1 1071.6 1399.7 1073.6 1398.6 1075.6 1397.9Z"/>
<path d="M1077.8 1397.3L1080.2 1397.6 1082.6 1398.4 1085 1399.7 1087.4 1401.3 1089.7 1403 1091.9 1404.8 1094.1 1406.8 1096.2 1409.1 1098.3 1411.7 1100.4 1414.7 1103.5 1419.8 1106.7 1425.9 1109.9 1432.6 1112.8 1439.5 1115.4 1446.5 1117.5 1453.8 1119.5 1461.5 1121.2 1469.3 1122.3 1476.7 1122.8 1483.5 1122.7 1487.9 1122.3 1492.1 1121.6 1496.1 1120.6 1499.7 1119.4 1502.9 1117.9 1505.3 1116.2 1507.3 1114.2 1509 1112.2 1510.5 1110.1 1511.8 1108.3 1512.8 1106.5 1513.6 1104.6 1514.2 1102.6 1514.7 1100.4 1515.2 1096.8 1515.7 1092.8 1516.1 1088.6 1516.4 1084.3 1516.4 1080.2 1516.3 1076.2 1515.9 1072.1 1515.4 1068 1514.7 1064.1 1513.9 1060.5 1512.9 1057.7 1512.1 1054.8 1511.2 1052.2 1510.3 1049.8 1509.2 1047.9 1508 1046.9 1507.3 1045.9 1506.4 1045.1 1505.6 1044.5 1504.7 1044.3 1504 1044.6 1503.3 1045.3 1502.7 1046.3 1502.1 1047.5 1501.6 1048.7 1501.2 1051.2 1500.9 1054.4 1501 1057.8 1501.5 1061.5 1502.1 1065.2 1502.9 1069.9 1504 1074.9 1505.4 1080 1507.1 1085.2 1508.9 1090.4 1510.7 1096.3 1512.7 1102.3 1514.8 1108.3 1517 1114.4 1519.3 1120.4 1521.9 1126.4 1524.7 1132.4 1527.6 1138.4 1530.7 1144.4 1534 1150.3 1537.5 1156.4 1541.2 1162.5 1545.1 1168.6 1549.1 1174.5 1553.3 1180.3 1557.6 1185.6 1561.7 1190.9 1566 1196 1570.4 1200.9 1574.9 1205.5 1579.5 1209.4 1583.6 1213.3 1587.7 1216.9 1591.9 1220.1 1596.4 1222.8 1601.1 1225 1605.9 1226.9 1610.9 1228.4 1616.1 1229.5 1621.3 1229.9 1626.3 1229.8 1630.8 1229.3 1635.3 1228.3 1639.8 1226.9 1644.1 1225.2 1648 1222.6 1652.2 1219.5 1656.1 1215.8 1659.6 1211.9 1662.9 1207.9 1665.9 1202.9 1669.1 1197.5 1671.8 1191.8 1674.3 1186 1676.4 1180.3 1678.2 1174.3 1679.7 1168.2 1680.7 1162 1681.5 1156 1682.1 1150.3 1682.7 1146.1 1683.1 1142.2 1683.4 1138.4 1683.6 1134.5 1683.7 1130.3 1683.8 1124.8 1683.7 1119 1683.4 1112.9 1683 1106.7 1682.4 1100.4 1681.5 1092.7 1680.1 1084.8 1678.3 1076.7 1676.3 1068.5 1674 1060.5 1671.5 1052.4 1668.7 1044.3 1665.7 1036.1 1662.5 1028.1 1659.1 1020.3 1655.9 1013.2 1652.9 1006.2 1649.9 999.4 1646.9 992.5 1643.7 985.6 1640.2 978.5 1636.4 971.4 1632.3 964.3 1628 957.2 1623.5 950.2 1619 943 1614.3 935.8 1609.5 928.7 1604.6 921.9 1599.5 915.5 1594.4 910.3 1590.2 905.3 1585.9 900.6 1581.5 896.3 1577 892.6 1572.1 889.9 1567.8 887.4 1563.2 885.3 1558.6 883.8 1554 883.2 1549.8 883.4 1546.6 884 1543.5 885.1 1540.6 886.4 1537.8 887.9 1535.3 889.9 1532.8 892.1 1530.6 894.7 1528.6 897.5 1526.9 900.5 1525.2 904.9 1523.3 909.7 1521.6 914.9 1520.2 920.3 1519 925.7 1518 932.3 1516.9 939.1 1516.1 946.1 1515.5 953.2 1514.9 960.4 1514.5 968.3 1514.1 976.3 1513.8 984.4 1513.6 992.5 1513.5 1000.6 1513.5 1008.6 1513.5 1016.5 1513.6 1024.5 1513.8 1032.4 1514.1 1040.4 1514.5 1048.3 1515 1056.2 1515.6 1064.1 1516.3 1072.1 1517 1080.4 1518 1090 1519.2 1100 1520.5 1110.1 1522 1120.2 1523.6 1130.3 1525.2 1140.3 1526.9 1150.3 1528.6 1160.3 1530.4 1170.3 1532.2 1180.3 1534.2 1190.2 1536.1 1200.2 1538.2 1210.1 1540.3 1220 1542.5 1229.9 1545 1240.1 1547.6 1250.3 1550.5 1260.4 1553.5 1270.5 1556.6 1280.4 1559.8 1289.5 1563 1298.5 1566.2 1307.3 1569.6 1316.2 1573.2 1325.3 1577 1335.2 1581.5 1345.5 1586.2 1355.7 1591.2 1365.6 1596.3 1374.9 1601.6 1382.6 1606.3 1389.9 1611.1 1396.9 1616.1 1403.8 1621.1 1410.4 1626.3 1416.3 1630.9 1422.1 1635.6 1427.7 1640.4 1433 1645.4 1438 1650.8 1442.4 1656.3 1446.7 1662 1450.7 1668 1454.4 1674.2 1457.7 1680.4 1460.3 1686.1 1462.7 1692 1464.8 1697.9 1466.6 1703.9 1467.9 1710 1468.9 1715.9 1469.5 1721.8 1469.7 1727.8 1469.6 1733.7 1469.1 1739.6 1468.1 1745.6 1466.7 1751.5 1464.8 1757.3 1462.6 1763 1460.1 1768.6 1456.6 1775 1452.6 1781.3 1448.2 1787.3 1443.3 1793.2 1438 1798.8 1430.7 1805.3 1422.5 1811.5 1413.8 1817.4 1404.7 1822.8 1395.4 1827.8 1384.9 1832.8 1373.9 1837.3 1362.6 1841.4 1351.3 1844.9 1340.3 1847.9 1330.1 1850.1 1319.9 1851.8 1309.7 1853.1 1299.8 1854.2 1290.2 1855.2 1282.1 1856 1274.2 1856.8 1266.5 1857.4 1258.6 1857.8 1250.4 1857.9 1240.7 1857.8 1230.7 1857.4 1220.4 1856.7 1210.1 1855.7 1200 1854.6 1190 1853.3 1180.1 1851.7 1170.2 1849.9 1160.2 1847.9 1150.3 1845.7 1140.2 1843.1 1130 1840.4 1119.9 1837.4 1110 1834.1 1100.4 1830.6 1092 1827.2 1083.7 1823.6 1075.7 1819.7 1067.9 1815.6 1060.5 1811.1 1054 1806.7 1047.8 1802.1 1041.8 1797.2 1036.1 1792 1030.6 1786.5 1025.5 1781 1020.7 1775.2 1016.1 1769.1 1011.7 1762.8 1007.7 1756.3 1004.2 1749.9 1000.9 1743.3 997.8 1736.5 995.1 1729.4 992.7 1722.3 990.7 1714.9 989 1707.3 987.7 1699.5 986.5 1692 985.6 1684.9 985.1 1679.8 984.7 1675.1 984.5 1670.4 984.4 1665.6 984.5 1660.3 984.7 1652.4 985.2 1643.8 985.9 1634.8 986.8 1625.7 988 1616.8 989.5 1607.8 991.4 1598.7 993.4 1589.7 995.6 1580.8 997.9 1572.1 1000.2 1564 1002.6 1556.2 1005.1 1548.4 1007.7 1540.7 1010.4 1532.7 1013.3 1523.9 1016.2 1515 1019.3 1506 1022.4 1497.1 1025.4 1488.4 1028.4 1480.2 1031.3 1472.1 1034.3 1464.1 1037.3 1456.3 1040.4 1449 1043.3 1442.5 1046.3 1436.3 1049.3 1430.3 1052.3 1424.7 1055.4 1419.5 1057.9 1415.5 1060.3 1411.6 1062.8 1408.1 1065.3 1405 1067.8 1402.4 1069.8 1400.7 1071.8 1399.3 1073.8 1398.2 1075.8 1397.5Z"/>
<path d="M1078 1396.9L1080.4 1397.2 1082.8 1398.1 1085.2 1399.4 1087.6 1400.9 1089.9 1402.6 1092.1 1404.4 1094.3 1406.5 1096.4 1408.7 1098.5 1411.4 1100.6 1414.4 1103.8 1419.5 1107 1425.6 1110.2 1432.3 1113.1 1439.3 1115.6 1446.3 1117.8 1453.6 1119.8 1461.3 1121.5 1469.1 1122.6 1476.6 1123.1 1483.4 1123 1487.8 1122.6 1492.1 1121.9 1496.1 1120.9 1499.7 1119.7 1502.8 1118.2 1505.2 1116.5 1507.3 1114.5 1509 1112.4 1510.5 1110.4 1511.8 1108.6 1512.8 1106.8 1513.6 1104.9 1514.2 1102.8 1514.7 1100.6 1515.2 1097.1 1515.7 1093.1 1516.1 1088.8 1516.4 1084.5 1516.4 1080.4 1516.3 1076.3 1515.9 1072.2 1515.4 1068.2 1514.7 1064.3 1513.9 1060.6 1512.9 1057.8 1512.1 1055 1511.2 1052.3 1510.2 1049.9 1509.2 1048 1508 1047 1507.2 1046 1506.4 1045.2 1505.5 1044.6 1504.7 1044.4 1504 1044.7 1503.3 1045.4 1502.6 1046.4 1502 1047.6 1501.5 1048.8 1501.2 1051.3 1500.9 1054.5 1501 1058 1501.5 1061.7 1502.1 1065.4 1502.8 1070.1 1504 1075 1505.4 1080.2 1507.1 1085.4 1508.9 1090.7 1510.7 1096.5 1512.7 1102.5 1514.8 1108.6 1517 1114.7 1519.3 1120.7 1521.9 1126.7 1524.7 1132.8 1527.7 1138.8 1530.8 1144.8 1534.1 1150.7 1537.6 1156.8 1541.3 1163 1545.2 1169 1549.2 1175 1553.4 1180.8 1557.7 1186.1 1561.9 1191.4 1566.2 1196.5 1570.6 1201.4 1575.1 1206.1 1579.7 1210 1583.8 1213.8 1587.9 1217.5 1592.2 1220.7 1596.6 1223.5 1601.4 1225.6 1606.1 1227.5 1611.2 1229 1616.4 1230.1 1621.6 1230.6 1626.6 1230.5 1631.1 1229.9 1635.7 1228.9 1640.2 1227.6 1644.5 1225.8 1648.4 1223.3 1652.6 1220.1 1656.5 1216.4 1660.1 1212.5 1663.3 1208.4 1666.4 1203.5 1669.5 1198 1672.3 1192.4 1674.7 1186.6 1676.9 1180.8 1678.7 1174.8 1680.1 1168.6 1681.2 1162.4 1682 1156.4 1682.6 1150.7 1683.2 1146.5 1683.6 1142.6 1683.9 1138.8 1684.1 1134.9 1684.3 1130.7 1684.3 1125.1 1684.2 1119.3 1683.9 1113.2 1683.5 1107 1682.9 1100.6 1682 1093 1680.6 1085 1678.8 1076.9 1676.8 1068.7 1674.4 1060.6 1672 1052.5 1669.2 1044.3 1666.1 1036.2 1662.9 1028.2 1659.6 1020.3 1656.3 1013.2 1653.3 1006.2 1650.3 999.3 1647.3 992.4 1644.1 985.5 1640.6 978.4 1636.7 971.3 1632.6 964.1 1628.3 957 1623.9 950 1619.3 942.8 1614.6 935.6 1609.8 928.5 1604.8 921.6 1599.8 915.2 1594.7 910 1590.4 905 1586.1 900.3 1581.7 896 1577.1 892.3 1572.3 889.6 1568 887 1563.4 884.9 1558.7 883.4 1554.2 882.8 1549.9 883 1546.7 883.6 1543.6 884.7 1540.6 886 1537.9 887.5 1535.3 889.5 1532.8 891.8 1530.6 894.4 1528.7 897.2 1526.9 900.2 1525.2 904.5 1523.3 909.4 1521.6 914.6 1520.3 920 1519.1 925.5 1518 932 1516.9 938.8 1516.1 945.9 1515.5 953 1514.9 960.2 1514.5 968.1 1514.1 976.2 1513.8 984.3 1513.6 992.5 1513.5 1000.6 1513.5 1008.6 1513.5 1016.5 1513.6 1024.5 1513.8 1032.5 1514.1 1040.5 1514.5 1048.4 1515 1056.3 1515.6 1064.2 1516.3 1072.3 1517.1 1080.6 1518 1090.2 1519.2 1100.2 1520.5 1110.4 1522 1120.6 1523.6 1130.7 1525.2 1140.7 1526.9 1150.7 1528.6 1160.8 1530.4 1170.8 1532.3 1180.8 1534.2 1190.8 1536.2 1200.7 1538.2 1210.7 1540.4 1220.6 1542.6 1230.6 1545.1 1240.7 1547.7 1251 1550.6 1261.2 1553.6 1271.3 1556.7 1281.2 1560 1290.3 1563.1 1299.3 1566.4 1308.2 1569.8 1317.1 1573.3 1326.2 1577.2 1336.2 1581.7 1346.4 1586.4 1356.7 1591.4 1366.6 1596.5 1376 1601.8 1383.7 1606.6 1391 1611.4 1398.1 1616.4 1404.9 1621.4 1411.6 1626.6 1417.5 1631.3 1423.3 1636 1428.9 1640.8 1434.2 1645.8 1439.2 1651.2 1443.7 1656.7 1448 1662.5 1452 1668.5 1455.7 1674.7 1459 1680.9 1461.7 1686.6 1464.1 1692.5 1466.2 1698.5 1467.9 1704.5 1469.3 1710.6 1470.2 1716.5 1470.8 1722.4 1471.1 1728.4 1471 1734.4 1470.5 1740.3 1469.5 1746.2 1468 1752.2 1466.2 1758 1463.9 1763.8 1461.4 1769.4 1457.9 1775.8 1453.9 1782.1 1449.5 1788.2 1444.6 1794 1439.2 1799.6 1431.9 1806.2 1423.7 1812.4 1415 1818.3 1405.8 1823.7 1396.6 1828.7 1386 1833.8 1375 1838.3 1363.6 1842.4 1352.3 1845.9 1341.2 1848.9 1331 1851.1 1320.8 1852.8 1310.6 1854.1 1300.7 1855.2 1291 1856.2 1282.8 1857 1275 1857.8 1267.2 1858.4 1259.3 1858.8 1251.1 1859 1241.4 1858.8 1231.3 1858.4 1221 1857.7 1210.7 1856.8 1200.5 1855.6 1190.5 1854.3 1180.6 1852.7 1170.6 1850.9 1160.7 1848.9 1150.7 1846.7 1140.6 1844.1 1130.4 1841.4 1120.2 1838.4 1110.2 1835.1 1100.6 1831.5 1092.2 1828.1 1083.9 1824.5 1075.9 1820.6 1068.1 1816.5 1060.6 1811.9 1054.2 1807.6 1047.9 1802.9 1041.9 1798 1036.1 1792.8 1030.6 1787.3 1025.5 1781.8 1020.7 1776 1016.1 1769.9 1011.7 1763.6 1007.7 1757.1 1004.1 1750.6 1000.8 1744 997.8 1737.1 995 1730.1 992.7 1722.9 990.6 1715.5 989 1707.8 987.6 1700.1 986.4 1692.5 985.5 1685.4 985 1680.3 984.6 1675.5 984.4 1670.9 984.3 1666.1 984.4 1660.8 984.6 1652.8 985.1 1644.2 985.8 1635.1 986.7 1626 987.9 1617.1 989.4 1608 991.3 1599 993.4 1589.9 995.6 1581 997.9 1572.3 1000.2 1564.2 1002.6 1556.3 1005.1 1548.5 1007.7 1540.7 1010.4 1532.8 1013.3 1524 1016.2 1515 1019.3 1506 1022.4 1497 1025.5 1488.3 1028.4 1480.1 1031.3 1471.9 1034.3 1463.9 1037.4 1456.2 1040.5 1448.8 1043.4 1442.3 1046.4 1436.1 1049.4 1430.1 1052.5 1424.4 1055.5 1419.2 1058 1415.2 1060.5 1411.3 1063 1407.7 1065.5 1404.6 1068 1402.1 1070 1400.4 1071.9 1399 1073.9 1397.9 1076 1397.2Z"/>
<path d="M1078.2 1396.6L1080.5 1396.9 1083 1397.7 1085.4 1399 1087.8 1400.6 1090.1 1402.3 1092.4 1404.1 1094.5 1406.1 1096.6 1408.4 1098.8 1411 1100.9 1414.1 1104 1419.2 1107.3 1425.3 1110.5 1432.1 1113.4 1439.1 1115.9 1446.1 1118.1 1453.4 1120.2 1461.2 1121.8 1469 1122.9 1476.5 1123.4 1483.3 1123.3 1487.7 1122.9 1492 1122.2 1496 1121.3 1499.6 1120 1502.8 1118.5 1505.2 1116.8 1507.2 1114.8 1509 1112.7 1510.5 1110.7 1511.8 1108.9 1512.8 1107 1513.6 1105.1 1514.2 1103.1 1514.7 1100.9 1515.2 1097.3 1515.7 1093.3 1516.1 1089 1516.4 1084.7 1516.4 1080.6 1516.3 1076.5 1516 1072.4 1515.4 1068.3 1514.7 1064.4 1513.9 1060.8 1512.9 1057.9 1512.1 1055.1 1511.2 1052.4 1510.2 1050 1509.2 1048.1 1508 1047.1 1507.2 1046.1 1506.4 1045.2 1505.5 1044.7 1504.7 1044.5 1503.9 1044.8 1503.2 1045.5 1502.6 1046.5 1502 1047.7 1501.5 1048.9 1501.1 1051.4 1500.8 1054.6 1501 1058.1 1501.4 1061.8 1502.1 1065.5 1502.8 1070.2 1503.9 1075.2 1505.4 1080.3 1507.1 1085.6 1508.9 1090.9 1510.7 1096.8 1512.7 1102.8 1514.8 1108.9 1517 1115 1519.3 1121 1521.9 1127.1 1524.7 1133.1 1527.7 1139.2 1530.8 1145.2 1534.2 1151.1 1537.6 1157.3 1541.4 1163.4 1545.3 1169.5 1549.3 1175.5 1553.5 1181.3 1557.9 1186.6 1562 1191.9 1566.3 1197.1 1570.7 1202 1575.2 1206.6 1579.9 1210.6 1584 1214.4 1588.1 1218.1 1592.4 1221.3 1596.9 1224.1 1601.7 1226.2 1606.4 1228.1 1611.5 1229.7 1616.7 1230.7 1621.9 1231.2 1626.9 1231.1 1631.5 1230.6 1636.1 1229.6 1640.6 1228.2 1644.9 1226.5 1648.8 1223.9 1653 1220.7 1656.9 1217 1660.5 1213.1 1663.8 1209 1666.8 1204 1670 1198.6 1672.8 1192.9 1675.2 1187.1 1677.3 1181.3 1679.2 1175.3 1680.6 1169.1 1681.7 1162.8 1682.5 1156.8 1683.1 1151.1 1683.7 1146.9 1684.1 1143 1684.4 1139.2 1684.6 1135.2 1684.8 1131 1684.8 1125.4 1684.7 1119.6 1684.5 1113.5 1684.1 1107.3 1683.4 1100.9 1682.5 1093.2 1681.1 1085.2 1679.3 1077.1 1677.2 1068.9 1674.9 1060.8 1672.4 1052.6 1669.7 1044.4 1666.6 1036.3 1663.3 1028.2 1660 1020.3 1656.7 1013.2 1653.7 1006.2 1650.7 999.3 1647.7 992.4 1644.5 985.4 1641 978.3 1637.1 971.1 1633 964 1628.7 956.8 1624.2 949.8 1619.6 942.6 1614.9 935.3 1610.1 928.2 1605.1 921.3 1600 914.9 1594.9 909.7 1590.6 904.7 1586.3 899.9 1581.9 895.6 1577.3 891.9 1572.5 889.2 1568.1 886.7 1563.5 884.5 1558.8 883 1554.3 882.4 1550 882.5 1546.8 883.2 1543.7 884.3 1540.7 885.6 1537.9 887.1 1535.4 889.1 1532.9 891.4 1530.7 894 1528.7 896.8 1526.9 899.8 1525.3 904.2 1523.3 909.1 1521.7 914.3 1520.3 919.7 1519.1 925.2 1518 931.8 1516.9 938.6 1516.1 945.7 1515.5 952.8 1514.9 960.1 1514.5 968 1514.1 976 1513.8 984.2 1513.6 992.4 1513.5 1000.5 1513.5 1008.5 1513.5 1016.5 1513.6 1024.5 1513.8 1032.5 1514.1 1040.5 1514.5 1048.5 1515 1056.4 1515.6 1064.3 1516.3 1072.4 1517.1 1080.7 1518 1090.4 1519.2 1100.5 1520.6 1110.6 1522.1 1120.9 1523.7 1131 1525.3 1141.1 1526.9 1151.1 1528.7 1161.2 1530.5 1171.2 1532.3 1181.3 1534.3 1191.3 1536.3 1201.3 1538.3 1211.2 1540.4 1221.2 1542.7 1231.2 1545.2 1241.4 1547.8 1251.7 1550.7 1261.9 1553.7 1272 1556.8 1282 1560.1 1291.2 1563.3 1300.2 1566.5 1309.1 1569.9 1318 1573.5 1327.1 1577.4 1337.2 1581.9 1347.4 1586.6 1357.7 1591.6 1367.7 1596.8 1377.1 1602.1 1384.8 1606.8 1392.1 1611.7 1399.2 1616.7 1406.1 1621.8 1412.8 1626.9 1418.7 1631.6 1424.5 1636.3 1430.1 1641.1 1435.5 1646.2 1440.5 1651.6 1445 1657.1 1449.3 1662.9 1453.3 1668.9 1457 1675.1 1460.3 1681.4 1463 1687.2 1465.4 1693 1467.5 1699 1469.3 1705.1 1470.6 1711.2 1471.6 1717.1 1472.2 1723 1472.5 1729.1 1472.4 1735.1 1471.8 1740.9 1470.8 1746.9 1469.4 1752.9 1467.5 1758.8 1465.3 1764.5 1462.7 1770.1 1459.2 1776.6 1455.3 1782.9 1450.8 1789 1445.9 1794.9 1440.5 1800.5 1433.2 1807.1 1425 1813.3 1416.2 1819.2 1407 1824.6 1397.7 1829.7 1387.1 1834.7 1376 1839.3 1364.7 1843.3 1353.3 1846.9 1342.2 1849.9 1331.9 1852.2 1321.7 1853.8 1311.5 1855.1 1301.5 1856.2 1291.9 1857.2 1283.6 1858.1 1275.8 1858.8 1268 1859.4 1260.1 1859.9 1251.8 1860 1242.1 1859.9 1231.9 1859.4 1221.6 1858.7 1211.3 1857.8 1201.1 1856.6 1191.1 1855.3 1181.1 1853.7 1171.1 1851.9 1161.1 1849.9 1151.1 1847.7 1141 1845.1 1130.7 1842.4 1120.5 1839.3 1110.5 1836.1 1100.9 1832.5 1092.4 1829 1084.1 1825.4 1076 1821.5 1068.2 1817.4 1060.8 1812.8 1054.3 1808.4 1048 1803.8 1042 1798.9 1036.2 1793.6 1030.6 1788.1 1025.6 1782.6 1020.7 1776.7 1016 1770.7 1011.7 1764.3 1007.6 1757.8 1004.1 1751.3 1000.8 1744.7 997.7 1737.8 995 1730.7 992.6 1723.5 990.6 1716.1 988.9 1708.4 987.5 1700.6 986.3 1693 985.4 1685.9 984.9 1680.8 984.5 1676 984.3 1671.4 984.2 1666.5 984.3 1661.2 984.5 1653.2 985 1644.5 985.7 1635.5 986.6 1626.3 987.8 1617.4 989.4 1608.3 991.2 1599.2 993.3 1590.1 995.5 1581.2 997.8 1572.5 1000.1 1564.3 1002.5 1556.4 1005.1 1548.6 1007.7 1540.8 1010.3 1532.8 1013.2 1524 1016.2 1515 1019.3 1505.9 1022.4 1497 1025.5 1488.2 1028.4 1480 1031.4 1471.8 1034.4 1463.8 1037.4 1456 1040.5 1448.6 1043.5 1442.1 1046.5 1435.8 1049.5 1429.8 1052.6 1424.1 1055.6 1418.9 1058.1 1414.9 1060.6 1411 1063.1 1407.4 1065.6 1404.3 1068.1 1401.7 1070.1 1400.1 1072.1 1398.6 1074.1 1397.5 1076.1 1396.8Z"/>
<path d="M1119.5 1502.9L1118.1 1505.2 1116.3 1507.3 1114.3 1509 1112.3 1510.5 1110.3 1511.8 1108.5 1512.8 1106.6 1513.6 1104.7 1514.2 1102.7 1514.7 1100.5 1515.2 1096.9 1515.7 1092.9 1516.1 1088.7 1516.4 1084.4 1516.4 1080.3 1516.3 1076.3 1515.9 1072.2 1515.4 1068.1 1514.7 1064.2 1513.9 1060.6 1512.9 1057.7 1512.1 1054.9 1511.2 1052.2 1510.2 1049.9 1509.2 1047.9 1508 1046.9 1507.2 1045.9 1506.4 1045.1 1505.5 1044.6 1504.7 1044.4 1504 1044.7 1503.3 1045.4 1502.6 1046.4 1502.1 1047.5 1501.6 1048.7 1501.2 1051.3 1500.9 1054.4 1501 1057.9 1501.5 1061.6 1502.1 1065.3 1502.9 1070 1504 1074.9 1505.4 1080.1 1507.1 1085.3 1508.9 1090.6 1510.7 1096.4 1512.7 1102.4 1514.8 1108.5 1517 1114.5 1519.3 1120.5 1521.9 1126.6 1524.7 1132.6 1527.6 1138.6 1530.8 1144.6 1534.1" stroke-width="6.4" stroke-linecap="round"/>
</g>
<text x="1183" y="1943" font-family='"Liberation Serif",serif' font-size="29.5" fill="#262626" text-anchor="middle" font-style="italic" font-weight="bold">z</text>
<text x="797" y="1621" font-family='"Liberation Serif",serif' font-size="29.5" fill="#262626" text-anchor="middle" font-style="italic" font-weight="bold" transform="rotate(-90 797 1621)">x</text>
<text x="1169" y="1993.5" font-family='"Liberation Serif",serif' font-size="45" fill="#111" text-anchor="middle">(f)</text>
</svg>
</body></html>
